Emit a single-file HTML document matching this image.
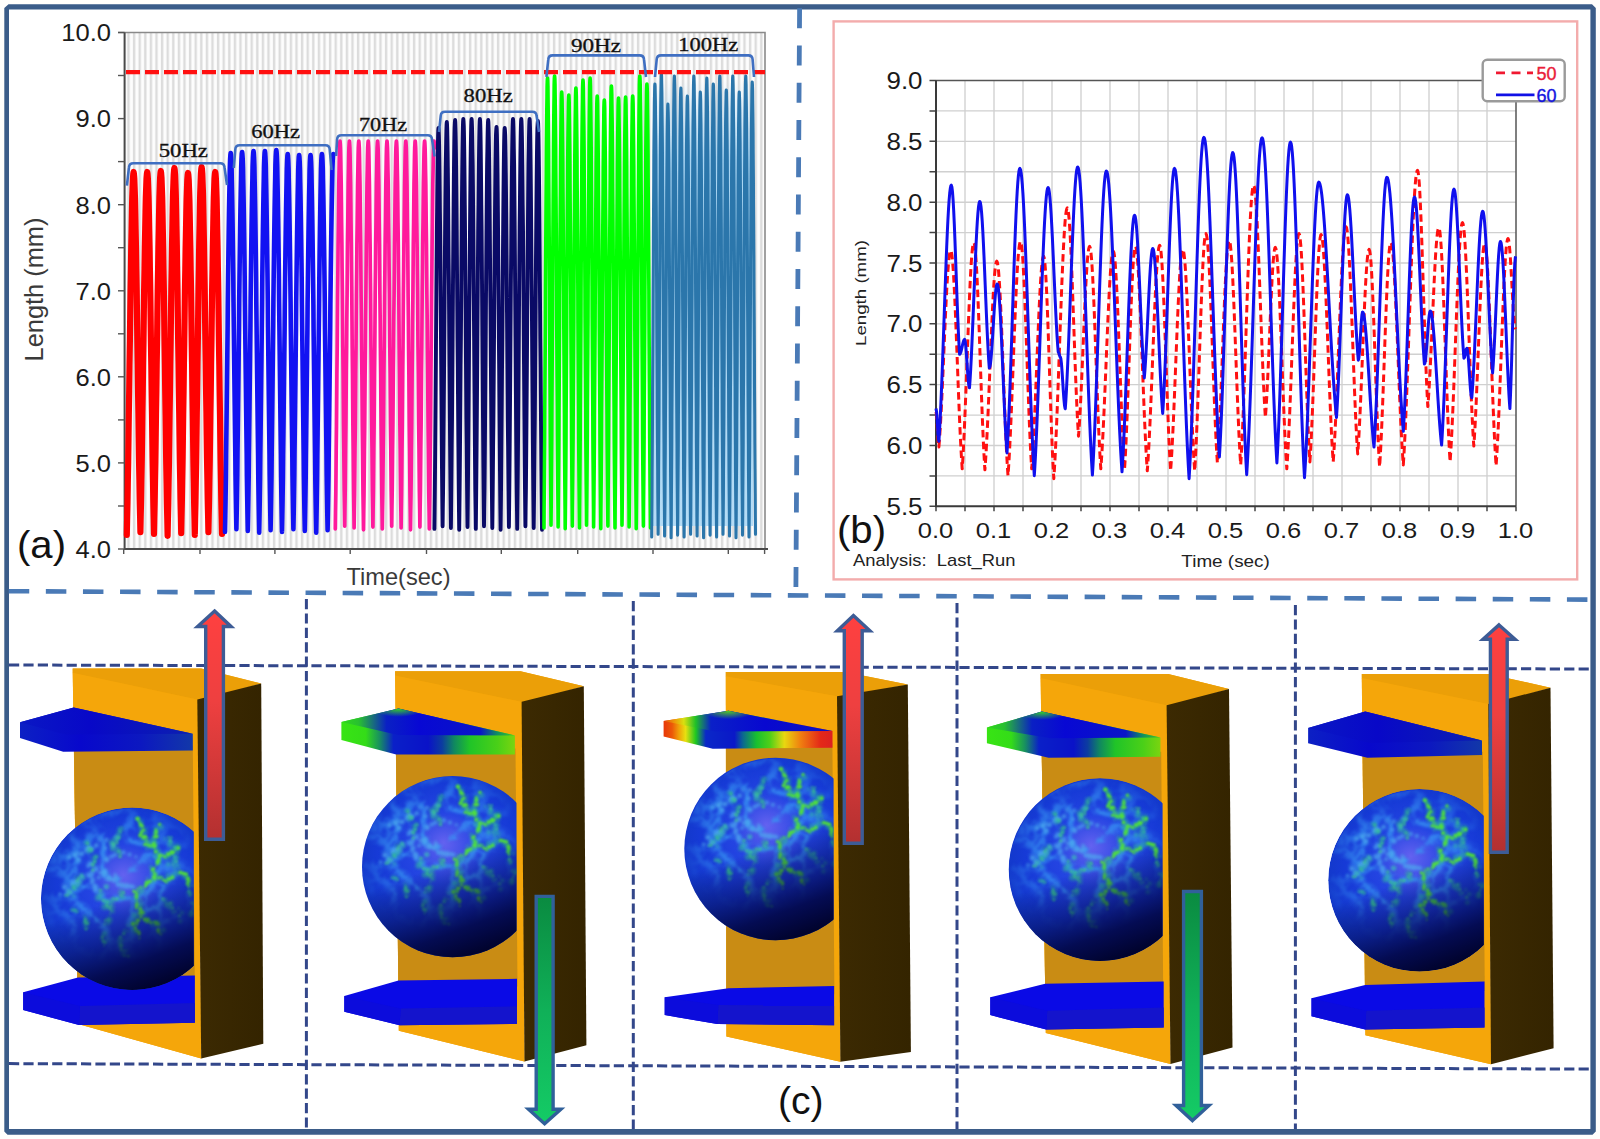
<!DOCTYPE html>
<html lang="en"><head><meta charset="utf-8"><title>Figure</title>
<style>html,body{margin:0;padding:0;background:#fffefc;}svg{display:block;}</style></head>
<body>
<svg width="1600" height="1139" viewBox="0 0 1600 1139">
<defs>
<pattern id="stripes" x="124.6" y="0" width="5.6" height="10" patternUnits="userSpaceOnUse"><rect x="0" y="0" width="5.6" height="10" fill="#fdfdfd"/><rect x="2.7" y="0" width="2.4" height="10" fill="#dcdcdc"/></pattern>
<linearGradient id="stt" x1="0" y1="0" x2="0" y2="1"><stop offset="0" stop-color="#a8d4f2" stop-opacity="0"/><stop offset="0.18" stop-color="#a8d4f2" stop-opacity="1"/><stop offset="1" stop-color="#b4dcf6" stop-opacity="1"/></linearGradient>
<radialGradient id="sg" gradientUnits="userSpaceOnUse" cx="-4" cy="-8" r="100.4" fx="-9" fy="-24"><stop offset="0" stop-color="#6462f0"/><stop offset="0.14" stop-color="#4a56ea"/><stop offset="0.36" stop-color="#2444e2"/><stop offset="0.7" stop-color="#163ad6"/><stop offset="0.92" stop-color="#1238c8"/><stop offset="1" stop-color="#103ac0"/></radialGradient>
<linearGradient id="sd" gradientUnits="userSpaceOnUse" x1="-34" y1="-84" x2="30" y2="88"><stop offset="0" stop-color="#000030" stop-opacity="0"/><stop offset="0.46" stop-color="#000030" stop-opacity="0"/><stop offset="0.66" stop-color="#00003c" stop-opacity="0.42"/><stop offset="0.83" stop-color="#000034" stop-opacity="0.8"/><stop offset="1" stop-color="#000024" stop-opacity="0.97"/></linearGradient>
<radialGradient id="sv" gradientUnits="userSpaceOnUse" cx="-14" cy="-20" r="86"><stop offset="0" stop-color="#fff" stop-opacity="1"/><stop offset="0.55" stop-color="#fff" stop-opacity="0.8"/><stop offset="1" stop-color="#fff" stop-opacity="0"/></radialGradient>
<filter id="haze" x="-0.05" y="-0.05" width="1.1" height="1.1" color-interpolation-filters="sRGB"><feTurbulence type="turbulence" baseFrequency="0.035" numOctaves="4" seed="8" result="n"/><feColorMatrix in="n" type="matrix" values="0 0 0 0 0.22  0 0 0 0 0.6  0 0 0 0 0.95  0 1 0 0 0" result="c"/><feComponentTransfer in="c" result="v"><feFuncA type="table" tableValues="0 0.9 0.85 0.7 0.45 0.25 0.1 0 0 0 0 0 0 0 0 0 0 0 0 0"/></feComponentTransfer><feGaussianBlur in="v" stdDeviation="1" result="vb"/><feComposite in="vb" in2="SourceGraphic" operator="in"/></filter>
<filter id="b07" x="-0.2" y="-0.2" width="1.4" height="1.4"><feGaussianBlur stdDeviation="0.8"/></filter>
<filter id="b15" x="-0.2" y="-0.2" width="1.4" height="1.4"><feGaussianBlur stdDeviation="1.6"/></filter>
<linearGradient id="dk1" gradientUnits="userSpaceOnUse" x1="197.3" y1="0" x2="263.3" y2="0"><stop offset="0" stop-color="#3c2a02"/><stop offset="1" stop-color="#342400"/></linearGradient>
<clipPath id="sc1"><path d="M39 805.6 H193.8 V992 H39 Z"/></clipPath>
<clipPath id="scc1"><circle cx="132.2" cy="898.8" r="91.2"/></clipPath>
<linearGradient id="pt1" gradientUnits="userSpaceOnUse" x1="20" y1="0" x2="192.8" y2="0"><stop offset="0" stop-color="#0a18c4"/><stop offset="0.4" stop-color="#0808c8"/><stop offset="1" stop-color="#0c20b0"/></linearGradient>
<linearGradient id="pf1" gradientUnits="userSpaceOnUse" x1="20" y1="0" x2="192.8" y2="0"><stop offset="0" stop-color="#0c20c4"/><stop offset="0.35" stop-color="#0808cc"/><stop offset="0.7" stop-color="#0c18c0"/><stop offset="1" stop-color="#1238a8"/></linearGradient>
<linearGradient id="dk2" gradientUnits="userSpaceOnUse" x1="521.6" y1="0" x2="586.4" y2="0"><stop offset="0" stop-color="#3c2a02"/><stop offset="1" stop-color="#342400"/></linearGradient>
<clipPath id="sc2"><path d="M360 774.1 H516.5 V959.3 H360 Z"/></clipPath>
<clipPath id="scc2"><circle cx="452.6" cy="866.7" r="90.6"/></clipPath>
<linearGradient id="pt2" gradientUnits="userSpaceOnUse" x1="341.4" y1="0" x2="514.9" y2="0"><stop offset="0" stop-color="#30d81c"/><stop offset="0.1" stop-color="#28c030"/><stop offset="0.26" stop-color="#0a20c4"/><stop offset="0.45" stop-color="#0808d4"/><stop offset="0.8" stop-color="#0a14c8"/><stop offset="0.9" stop-color="#109060"/><stop offset="1" stop-color="#40cc20"/></linearGradient>
<linearGradient id="pf2" gradientUnits="userSpaceOnUse" x1="341.4" y1="0" x2="514.9" y2="0"><stop offset="0" stop-color="#38e414"/><stop offset="0.14" stop-color="#34dc18"/><stop offset="0.22" stop-color="#189060"/><stop offset="0.3" stop-color="#0a20c8"/><stop offset="0.5" stop-color="#0a12c8"/><stop offset="0.58" stop-color="#0c3ca0"/><stop offset="0.65" stop-color="#108860"/><stop offset="0.74" stop-color="#20c428"/><stop offset="0.9" stop-color="#4ad018"/><stop offset="1" stop-color="#7ad410"/></linearGradient>
<radialGradient id="pa2" gradientUnits="userSpaceOnUse" cx="398.5" cy="708.5" r="26" gradientTransform="translate(398.5 708.5) scale(1 0.32) translate(-398.5 -708.5)"><stop offset="0" stop-color="#38d820" stop-opacity="1"/><stop offset="1" stop-color="#38d820" stop-opacity="0"/></radialGradient>
<linearGradient id="dk3" gradientUnits="userSpaceOnUse" x1="837" y1="0" x2="910.9" y2="0"><stop offset="0" stop-color="#3c2a02"/><stop offset="1" stop-color="#342400"/></linearGradient>
<clipPath id="sc3"><path d="M681.6 755 H833.6 V943 H681.6 Z"/></clipPath>
<clipPath id="scc3"><circle cx="775.6" cy="849" r="92"/></clipPath>
<linearGradient id="pt3" gradientUnits="userSpaceOnUse" x1="663.6" y1="0" x2="832.5" y2="0"><stop offset="0" stop-color="#e85008"/><stop offset="0.07" stop-color="#eca008"/><stop offset="0.12" stop-color="#d8e010"/><stop offset="0.19" stop-color="#20c028"/><stop offset="0.28" stop-color="#0a20c8"/><stop offset="0.6" stop-color="#0808d0"/><stop offset="1" stop-color="#0a14c0"/></linearGradient>
<linearGradient id="pf3" gradientUnits="userSpaceOnUse" x1="663.6" y1="0" x2="832.5" y2="0"><stop offset="0" stop-color="#e83808"/><stop offset="0.05" stop-color="#ec5808"/><stop offset="0.09" stop-color="#f0a008"/><stop offset="0.13" stop-color="#e8e010"/><stop offset="0.19" stop-color="#20c820"/><stop offset="0.25" stop-color="#0a28c8"/><stop offset="0.42" stop-color="#0a18c8"/><stop offset="0.47" stop-color="#0c6890"/><stop offset="0.55" stop-color="#18c030"/><stop offset="0.63" stop-color="#50d018"/><stop offset="0.715" stop-color="#e8d810"/><stop offset="0.81" stop-color="#f08010"/><stop offset="0.93" stop-color="#e42818"/><stop offset="1" stop-color="#dc2020"/></linearGradient>
<radialGradient id="pa3" gradientUnits="userSpaceOnUse" cx="728.5" cy="710.8" r="26" gradientTransform="translate(728.5 710.8) scale(1 0.32) translate(-728.5 -710.8)"><stop offset="0" stop-color="#58d018" stop-opacity="1"/><stop offset="1" stop-color="#58d018" stop-opacity="0"/></radialGradient>
<linearGradient id="dk4" gradientUnits="userSpaceOnUse" x1="1166.6" y1="0" x2="1232.5" y2="0"><stop offset="0" stop-color="#3c2a02"/><stop offset="1" stop-color="#342400"/></linearGradient>
<clipPath id="sc4"><path d="M1006.3 775.9 H1162.6 V963.3 H1006.3 Z"/></clipPath>
<clipPath id="scc4"><circle cx="1100" cy="869.6" r="91.7"/></clipPath>
<linearGradient id="pt4" gradientUnits="userSpaceOnUse" x1="986.9" y1="0" x2="1160.4" y2="0"><stop offset="0" stop-color="#30d81c"/><stop offset="0.1" stop-color="#28c030"/><stop offset="0.26" stop-color="#0a20c4"/><stop offset="0.45" stop-color="#0808d4"/><stop offset="0.8" stop-color="#0a14c8"/><stop offset="0.9" stop-color="#109060"/><stop offset="1" stop-color="#40cc20"/></linearGradient>
<linearGradient id="pf4" gradientUnits="userSpaceOnUse" x1="986.9" y1="0" x2="1160.4" y2="0"><stop offset="0" stop-color="#38e414"/><stop offset="0.14" stop-color="#34dc18"/><stop offset="0.22" stop-color="#189060"/><stop offset="0.3" stop-color="#0a20c8"/><stop offset="0.5" stop-color="#0a12c8"/><stop offset="0.58" stop-color="#0c3ca0"/><stop offset="0.65" stop-color="#108860"/><stop offset="0.74" stop-color="#20c428"/><stop offset="0.9" stop-color="#4ad018"/><stop offset="1" stop-color="#7ad410"/></linearGradient>
<radialGradient id="pa4" gradientUnits="userSpaceOnUse" cx="1041.8" cy="711.5" r="26" gradientTransform="translate(1041.8 711.5) scale(1 0.32) translate(-1041.8 -711.5)"><stop offset="0" stop-color="#38d820" stop-opacity="1"/><stop offset="1" stop-color="#38d820" stop-opacity="0"/></radialGradient>
<linearGradient id="dk5" gradientUnits="userSpaceOnUse" x1="1488.3" y1="0" x2="1553.6" y2="0"><stop offset="0" stop-color="#3c2a02"/><stop offset="1" stop-color="#342400"/></linearGradient>
<clipPath id="sc5"><path d="M1326.2 787 H1483.8 V973.6 H1326.2 Z"/></clipPath>
<clipPath id="scc5"><circle cx="1419.5" cy="880.3" r="91.3"/></clipPath>
<linearGradient id="pt5" gradientUnits="userSpaceOnUse" x1="1308.1" y1="0" x2="1482" y2="0"><stop offset="0" stop-color="#0a18c4"/><stop offset="0.4" stop-color="#0808c8"/><stop offset="1" stop-color="#0c20b0"/></linearGradient>
<linearGradient id="pf5" gradientUnits="userSpaceOnUse" x1="1308.1" y1="0" x2="1482" y2="0"><stop offset="0" stop-color="#0c20c4"/><stop offset="0.35" stop-color="#0808cc"/><stop offset="0.7" stop-color="#0c18c0"/><stop offset="1" stop-color="#1238a8"/></linearGradient>
<linearGradient id="gu1" gradientUnits="userSpaceOnUse" x1="0" y1="608.5" x2="0" y2="841"><stop offset="0" stop-color="#ff4040"/><stop offset="0.4" stop-color="#ee4040"/><stop offset="1" stop-color="#b23030"/></linearGradient>
<linearGradient id="gd2" gradientUnits="userSpaceOnUse" x1="0" y1="894.7" x2="0" y2="1126.2"><stop offset="0" stop-color="#0a8a40"/><stop offset="0.5" stop-color="#10b058"/><stop offset="1" stop-color="#14cc66"/></linearGradient>
<linearGradient id="gu3" gradientUnits="userSpaceOnUse" x1="0" y1="613" x2="0" y2="845"><stop offset="0" stop-color="#ff4040"/><stop offset="0.4" stop-color="#ee4040"/><stop offset="1" stop-color="#b23030"/></linearGradient>
<linearGradient id="gd4" gradientUnits="userSpaceOnUse" x1="0" y1="889.8" x2="0" y2="1123.1"><stop offset="0" stop-color="#0a8a40"/><stop offset="0.5" stop-color="#10b058"/><stop offset="1" stop-color="#14cc66"/></linearGradient>
<linearGradient id="gu5" gradientUnits="userSpaceOnUse" x1="0" y1="622.4" x2="0" y2="854"><stop offset="0" stop-color="#ff4040"/><stop offset="0.4" stop-color="#ee4040"/><stop offset="1" stop-color="#b23030"/></linearGradient>
</defs>
<rect x="0" y="0" width="1600" height="1139" fill="#fffefc"/>
<rect x="9" y="9.5" width="1581.5" height="1119.5" fill="#ffffff"/>
<path d="M8.5 4.3 H1592 L1595.8 8 V1131.5 L1592.5 1134.8 H7.5 L4.3 1131.5 V8 Z M9 9.5 V1129 H1590.4 V9.5 Z" fill="#3b5c88" fill-rule="evenodd"/>
<rect x="124.6" y="32.5" width="640.4" height="516.5" fill="url(#stripes)"/>
<path d="M118 32.5 H765 V549" fill="none" stroke="#8a8a8a" stroke-width="1.6"/>
<path d="M124.6 32.5 V549 H768" fill="none" stroke="#4a4a4a" stroke-width="2"/>
<line x1="118" x2="124.6" y1="549" y2="549" stroke="#555" stroke-width="1.4"/>
<line x1="118" x2="124.6" y1="506" y2="506" stroke="#555" stroke-width="1.4"/>
<line x1="118" x2="124.6" y1="462.9" y2="462.9" stroke="#555" stroke-width="1.4"/>
<line x1="118" x2="124.6" y1="419.9" y2="419.9" stroke="#555" stroke-width="1.4"/>
<line x1="118" x2="124.6" y1="376.8" y2="376.8" stroke="#555" stroke-width="1.4"/>
<line x1="118" x2="124.6" y1="333.8" y2="333.8" stroke="#555" stroke-width="1.4"/>
<line x1="118" x2="124.6" y1="290.8" y2="290.8" stroke="#555" stroke-width="1.4"/>
<line x1="118" x2="124.6" y1="247.7" y2="247.7" stroke="#555" stroke-width="1.4"/>
<line x1="118" x2="124.6" y1="204.7" y2="204.7" stroke="#555" stroke-width="1.4"/>
<line x1="118" x2="124.6" y1="161.6" y2="161.6" stroke="#555" stroke-width="1.4"/>
<line x1="118" x2="124.6" y1="118.6" y2="118.6" stroke="#555" stroke-width="1.4"/>
<line x1="118" x2="124.6" y1="75.5" y2="75.5" stroke="#555" stroke-width="1.4"/>
<line x1="118" x2="124.6" y1="32.5" y2="32.5" stroke="#555" stroke-width="1.4"/>
<line x1="123.7" x2="123.7" y1="549" y2="554" stroke="#555" stroke-width="1.4"/>
<line x1="200" x2="200" y1="549" y2="554" stroke="#555" stroke-width="1.4"/>
<line x1="274.9" x2="274.9" y1="549" y2="554" stroke="#555" stroke-width="1.4"/>
<line x1="350.2" x2="350.2" y1="549" y2="554" stroke="#555" stroke-width="1.4"/>
<line x1="426.5" x2="426.5" y1="549" y2="554" stroke="#555" stroke-width="1.4"/>
<line x1="501.3" x2="501.3" y1="549" y2="554" stroke="#555" stroke-width="1.4"/>
<line x1="577.7" x2="577.7" y1="549" y2="554" stroke="#555" stroke-width="1.4"/>
<line x1="653" x2="653" y1="549" y2="554" stroke="#555" stroke-width="1.4"/>
<line x1="728.3" x2="728.3" y1="549" y2="554" stroke="#555" stroke-width="1.4"/>
<line x1="764.6" x2="764.6" y1="549" y2="554" stroke="#555" stroke-width="1.4"/>
<text x="111" y="557.8" font-family='"Liberation Sans", Arial, sans-serif' font-size="24.5" fill="#1a1a1a" text-anchor="end" textLength="35.5" lengthAdjust="spacingAndGlyphs">4.0</text>
<text x="111" y="471.7" font-family='"Liberation Sans", Arial, sans-serif' font-size="24.5" fill="#1a1a1a" text-anchor="end" textLength="35.5" lengthAdjust="spacingAndGlyphs">5.0</text>
<text x="111" y="385.6" font-family='"Liberation Sans", Arial, sans-serif' font-size="24.5" fill="#1a1a1a" text-anchor="end" textLength="35.5" lengthAdjust="spacingAndGlyphs">6.0</text>
<text x="111" y="299.6" font-family='"Liberation Sans", Arial, sans-serif' font-size="24.5" fill="#1a1a1a" text-anchor="end" textLength="35.5" lengthAdjust="spacingAndGlyphs">7.0</text>
<text x="111" y="213.5" font-family='"Liberation Sans", Arial, sans-serif' font-size="24.5" fill="#1a1a1a" text-anchor="end" textLength="35.5" lengthAdjust="spacingAndGlyphs">8.0</text>
<text x="111" y="127.4" font-family='"Liberation Sans", Arial, sans-serif' font-size="24.5" fill="#1a1a1a" text-anchor="end" textLength="35.5" lengthAdjust="spacingAndGlyphs">9.0</text>
<text x="111" y="41.3" font-family='"Liberation Sans", Arial, sans-serif' font-size="24.5" fill="#1a1a1a" text-anchor="end" textLength="49.8" lengthAdjust="spacingAndGlyphs">10.0</text>
<text transform="translate(42.6,289.5) rotate(-90)" font-family='"Liberation Sans", Arial, sans-serif' font-size="25" fill="#3a3a3a" text-anchor="middle" textLength="144" lengthAdjust="spacingAndGlyphs">Length (mm)</text>
<text x="398.5" y="585.3" font-family='"Liberation Sans", Arial, sans-serif' font-size="24" fill="#3a3a3a" text-anchor="middle" textLength="104" lengthAdjust="spacingAndGlyphs">Time(sec)</text>
<text x="17" y="558" font-family='"Liberation Sans", Arial, sans-serif' font-size="39" fill="#111" textLength="49" lengthAdjust="spacingAndGlyphs">(a)</text>
<rect x="652.5" y="80" width="100.5" height="446" fill="url(#stt)"/>
<path d="M126.8 534.9L127.1 519.5L127.5 502.1L127.8 482.7L128.2 461.5L128.5 438.9L128.8 415.1L129.2 390.6L129.5 365.6L129.9 340.5L130.2 315.9L130.5 292L130.9 269.3L131.2 248.3L131.6 229.2L131.9 212.4L132.2 198.2L132.6 186.9L132.9 178.7L133.3 173.7L133.6 172L133.9 173.7L134.3 178.6L134.6 186.8L135 198L135.3 212.1L135.6 228.7L136 247.7L136.3 268.6L136.7 291.1L137 314.8L137.3 339.3L137.7 364.1L138 388.9L138.4 413.3L138.7 436.9L139 459.3L139.4 480.3L139.7 499.6L140.1 517L140.4 532.2L140.7 517L141.1 499.6L141.4 480.3L141.8 459.3L142.1 436.9L142.4 413.3L142.8 388.9L143.1 364.1L143.5 339.3L143.8 314.8L144.1 291.1L144.5 268.6L144.8 247.7L145.2 228.7L145.5 212.1L145.8 198L146.2 186.8L146.5 178.6L146.9 173.7L147.2 172L147.5 173.7L147.9 178.7L148.2 186.9L148.6 198.1L148.9 212.3L149.2 229L149.6 248.1L149.9 269.1L150.3 291.7L150.6 315.5L150.9 340.1L151.3 365.1L151.6 390L152 414.5L152.3 438.2L152.6 460.8L153 481.9L153.3 501.3L153.7 518.7L154 534L154.3 518.6L154.7 501.2L155 481.7L155.4 460.6L155.7 438L156 414.2L156.4 389.6L156.7 364.6L157.1 339.6L157.4 314.9L157.7 291L158.1 268.4L158.4 247.3L158.8 228.2L159.1 211.4L159.4 197.2L159.8 185.9L160.1 177.7L160.5 172.7L160.8 171L161.1 172.7L161.5 177.7L161.8 186L162.2 197.3L162.5 211.6L162.8 228.5L163.2 247.7L163.5 268.9L163.9 291.6L164.2 315.6L164.5 340.4L164.9 365.6L165.2 390.7L165.6 415.4L165.9 439.3L166.2 462L166.6 483.3L166.9 502.8L167.3 520.4L167.6 535.8L167.9 520.2L168.3 502.5L168.6 482.8L169 461.4L169.3 438.5L169.6 414.4L170 389.5L170.3 364.2L170.7 338.8L171 313.8L171.3 289.6L171.7 266.7L172 245.3L172.4 225.9L172.7 208.9L173 194.6L173.4 183.1L173.7 174.8L174.1 169.7L174.4 168L174.7 169.7L175.1 174.7L175.4 183L175.8 194.4L176.1 208.6L176.4 225.5L176.8 244.7L177.1 265.9L177.5 288.7L177.8 312.7L178.1 337.5L178.5 362.7L178.8 387.9L179.2 412.6L179.5 436.5L179.8 459.3L180.2 480.5L180.5 500.1L180.9 517.7L181.2 533.1L181.5 517.9L181.9 500.5L182.2 481.3L182.6 460.3L182.9 437.8L183.2 414.2L183.6 389.9L183.9 365.1L184.3 340.2L184.6 315.8L184.9 292.1L185.3 269.6L185.6 248.7L186 229.7L186.3 213.1L186.6 199L187 187.8L187.3 179.6L187.7 174.7L188 173L188.3 174.7L188.7 179.7L189 187.9L189.4 199.1L189.7 213.3L190 230L190.4 249.1L190.7 270.1L191.1 292.7L191.4 316.5L191.7 341.1L192.1 366L192.4 391L192.8 415.5L193.1 439.2L193.4 461.7L193.8 482.8L194.1 502.2L194.5 519.6L194.8 534.9L195.1 519.3L195.5 501.6L195.8 481.9L196.2 460.5L196.5 437.6L196.8 413.5L197.2 388.6L197.5 363.2L197.9 337.8L198.2 312.9L198.5 288.7L198.9 265.7L199.2 244.3L199.6 225L199.9 207.9L200.2 193.6L200.6 182.1L200.9 173.8L201.3 168.7L201.6 167L201.9 168.7L202.3 173.7L202.6 182L203 193.4L203.3 207.6L203.6 224.5L204 243.8L204.3 265L204.7 287.8L205 311.8L205.3 336.6L205.7 361.8L206 386.9L206.4 411.7L206.7 435.6L207 458.3L207.4 479.6L207.7 499.2L208.1 516.7L208.4 532.2L208.7 517L209.1 499.6L209.4 480.3L209.8 459.3L210.1 436.9L210.4 413.3L210.8 388.9L211.1 364.1L211.5 339.3L211.8 314.8L212.1 291.1L212.5 268.6L212.8 247.7L213.2 228.7L213.5 212.1L213.8 198L214.2 186.8L214.5 178.6L214.9 173.7L215.2 172L215.5 173.7L215.9 178.7L216.2 186.9L216.6 198.1L216.9 212.3L217.2 229L217.6 248.1L217.9 269.1L218.3 291.7L218.6 315.5L218.9 340.1L219.3 365.1L219.6 390L220 414.5L220.3 438.2L220.6 460.8L221 481.9L221.3 501.3L221.7 518.7L222 534" fill="none" stroke="#ff0000" stroke-width="6.2" stroke-linejoin="round" stroke-linecap="round"/>
<path d="M225 531.9L225.3 515.9L225.6 497.6L225.9 477.3L226.1 455.3L226.4 431.7L226.7 406.8L227 381.2L227.3 355.1L227.6 329L227.8 303.2L228.1 278.3L228.4 254.6L228.7 232.6L229 212.7L229.3 195.2L229.6 180.4L229.8 168.6L230.1 160L230.4 154.8L230.7 153L231 154.7L231.3 159.9L231.6 168.4L231.8 180.2L232.1 194.9L232.4 212.3L232.7 232.1L233 253.9L233.3 277.4L233.5 302.1L233.8 327.7L234.1 353.7L234.4 379.6L234.7 405L235 429.7L235.3 453.1L235.5 475L235.8 495.2L236.1 513.3L236.4 529.2L236.7 513.2L237 495.1L237.3 474.9L237.5 452.9L237.8 429.4L238.1 404.7L238.4 379.2L238.7 353.2L239 327.2L239.2 301.5L239.5 276.7L239.8 253.2L240.1 231.3L240.4 211.4L240.7 194L241 179.2L241.2 167.5L241.5 158.9L241.8 153.7L242.1 152L242.4 153.8L242.7 159L243 167.6L243.2 179.4L243.5 194.2L243.8 211.7L244.1 231.7L244.4 253.7L244.7 277.3L244.9 302.3L245.2 328L245.5 354.1L245.8 380.3L246.1 405.9L246.4 430.7L246.7 454.3L246.9 476.4L247.2 496.7L247.5 515L247.8 531L248.1 514.9L248.4 496.6L248.7 476.3L248.9 454.1L249.2 430.5L249.5 405.6L249.8 379.9L250.1 353.7L250.4 327.5L250.6 301.6L250.9 276.7L251.2 252.9L251.5 230.9L251.8 210.9L252.1 193.3L252.4 178.4L252.6 166.6L252.9 158L253.2 152.8L253.5 151L253.8 152.8L254.1 158L254.4 166.7L254.6 178.6L254.9 193.5L255.2 211.2L255.5 231.2L255.8 253.4L256.1 277.3L256.3 302.4L256.6 328.3L256.9 354.6L257.2 380.9L257.5 406.8L257.8 431.8L258.1 455.6L258.3 477.8L258.6 498.3L258.9 516.6L259.2 532.8L259.5 516.6L259.8 498.3L260.1 477.8L260.3 455.6L260.6 431.8L260.9 406.8L261.2 380.9L261.5 354.6L261.8 328.3L262.1 302.4L262.3 277.3L262.6 253.4L262.9 231.2L263.2 211.2L263.5 193.5L263.8 178.6L264 166.7L264.3 158L264.6 152.8L264.9 151L265.2 152.8L265.5 158L265.8 166.6L266 178.4L266.3 193.2L266.6 210.7L266.9 230.7L267.2 252.7L267.5 276.4L267.8 301.3L268 327L268.3 353.2L268.6 379.3L268.9 405L269.2 429.8L269.5 453.4L269.7 475.5L270 495.8L270.3 514.1L270.6 530.1L270.9 514L271.2 495.7L271.5 475.4L271.7 453.2L272 429.5L272.3 404.6L272.6 378.9L272.9 352.7L273.2 326.5L273.4 300.7L273.7 275.7L274 252L274.3 229.9L274.6 209.9L274.9 192.3L275.2 177.4L275.4 165.6L275.7 157L276 151.8L276.3 150L276.6 151.8L276.9 157L277.2 165.7L277.4 177.6L277.7 192.5L278 210.2L278.3 230.3L278.6 252.4L278.9 276.3L279.1 301.4L279.4 327.3L279.7 353.7L280 380L280.3 405.9L280.6 430.9L280.9 454.7L281.1 476.9L281.4 497.4L281.7 515.7L282 531.9L282.3 515.9L282.6 497.7L282.9 477.5L283.1 455.5L283.4 431.9L283.7 407.2L284 381.6L284.3 355.6L284.6 329.5L284.8 303.8L285.1 279L285.4 255.4L285.7 233.4L286 213.5L286.3 196.1L286.6 181.3L286.8 169.5L287.1 161L287.4 155.7L287.7 154L288 155.7L288.3 160.9L288.6 169.4L288.8 181.1L289.1 195.8L289.4 213.1L289.7 232.9L290 254.6L290.3 278.1L290.6 302.7L290.8 328.2L291.1 354.1L291.4 380L291.7 405.4L292 429.9L292.3 453.3L292.5 475.2L292.8 495.3L293.1 513.3L293.4 529.2L293.7 513.4L294 495.4L294.3 475.3L294.5 453.5L294.8 430.2L295.1 405.7L295.4 380.4L295.7 354.6L296 328.8L296.2 303.4L296.5 278.7L296.8 255.4L297.1 233.7L297.4 214L297.7 196.6L298 182L298.2 170.4L298.5 161.9L298.8 156.7L299.1 155L299.4 156.7L299.7 161.9L300 170.4L300.2 182.2L300.5 196.8L300.8 214.2L301.1 234L301.4 255.9L301.7 279.3L301.9 304.1L302.2 329.6L302.5 355.5L302.8 381.4L303.1 406.9L303.4 431.5L303.7 455L303.9 476.9L304.2 497L304.5 515.1L304.8 531L305.1 515.1L305.4 497L305.7 476.9L305.9 455L306.2 431.5L306.5 406.9L306.8 381.4L307.1 355.5L307.4 329.6L307.6 304.1L307.9 279.3L308.2 255.9L308.5 234L308.8 214.2L309.1 196.8L309.4 182.2L309.6 170.4L309.9 161.9L310.2 156.7L310.5 155L310.8 156.7L311.1 161.9L311.4 170.5L311.6 182.3L311.9 197L312.2 214.5L312.5 234.4L312.8 256.3L313.1 279.9L313.4 304.8L313.6 330.4L313.9 356.5L314.2 382.5L314.5 408.1L314.8 432.8L315.1 456.4L315.3 478.4L315.6 498.6L315.9 516.8L316.2 532.8L316.5 516.8L316.8 498.5L317.1 478.3L317.3 456.2L317.6 432.6L317.9 407.8L318.2 382.1L318.5 356L318.8 329.9L319.1 304.2L319.3 279.3L319.6 255.6L319.9 233.6L320.2 213.7L320.5 196.2L320.8 181.4L321 169.6L321.3 161L321.6 155.7L321.9 154L322.2 155.7L322.5 160.9L322.8 169.4L323 181.2L323.3 195.9L323.6 213.3L323.9 233L324.2 254.9L324.5 278.4L324.8 303.1L325 328.7L325.3 354.6L325.6 380.5L325.9 406L326.2 430.6L326.5 454L326.7 476L327 496.1L327.3 514.2L327.6 530.1L327.9 514.2L328.2 496.1L328.5 476L328.7 454L329 430.6L329.3 406L329.6 380.5L329.9 354.6L330.2 328.7L330.4 303.1L330.7 278.4L331 254.9L331.3 233L331.6 213.3L331.9 195.9L332.2 181.2L332.4 169.4L332.7 160.9L333 155.7L333.3 154" fill="none" stroke="#1212f2" stroke-width="4.6" stroke-linejoin="round" stroke-linecap="round"/>
<path d="M335.3 528.9L335.5 512.5L335.8 493.8L336 473.1L336.2 450.4L336.5 426.3L336.7 400.9L336.9 374.6L337.2 347.9L337.4 321.1L337.6 294.8L337.9 269.3L338.1 245L338.4 222.5L338.6 202.1L338.8 184.2L339.1 169L339.3 156.9L339.5 148.1L339.8 142.8L340 141L340.2 142.8L340.5 148.1L340.7 156.8L340.9 168.8L341.2 183.9L341.4 201.7L341.6 222L341.9 244.3L342.1 268.4L342.4 293.7L342.6 319.9L342.8 346.5L343.1 373L343.3 399.1L343.5 424.3L343.8 448.3L344 470.7L344.2 491.4L344.5 509.9L344.7 526.2L344.9 509.9L345.2 491.4L345.4 470.7L345.6 448.3L345.9 424.3L346.1 399.1L346.3 373L346.6 346.5L346.8 319.9L347.1 293.7L347.3 268.4L347.5 244.3L347.8 222L348 201.7L348.2 183.9L348.5 168.8L348.7 156.8L348.9 148.1L349.2 142.8L349.4 141L349.6 142.8L349.9 148.1L350.1 156.9L350.3 168.9L350.6 184.1L350.8 202L351 222.3L351.3 244.8L351.5 269L351.8 294.4L352 320.7L352.2 347.4L352.5 374.1L352.7 400.3L352.9 425.6L353.2 449.7L353.4 472.3L353.6 493L353.9 511.6L354.1 528L354.3 511.6L354.6 493L354.8 472.3L355 449.7L355.3 425.6L355.5 400.3L355.7 374.1L356 347.4L356.2 320.7L356.4 294.4L356.7 269L356.9 244.8L357.2 222.3L357.4 202L357.6 184.1L357.9 168.9L358.1 156.9L358.3 148.1L358.6 142.8L358.8 141L359 142.8L359.3 148.2L359.5 157L359.7 169.1L360 184.3L360.2 202.3L360.4 222.7L360.7 245.3L360.9 269.6L361.1 295.1L361.4 321.6L361.6 348.4L361.9 375.2L362.1 401.5L362.3 426.9L362.6 451.2L362.8 473.8L363 494.6L363.3 513.4L363.5 529.8L363.7 513.4L364 494.6L364.2 473.8L364.4 451.2L364.7 426.9L364.9 401.5L365.1 375.2L365.4 348.4L365.6 321.6L365.9 295.1L366.1 269.6L366.3 245.3L366.6 222.7L366.8 202.3L367 184.3L367.3 169.1L367.5 157L367.7 148.2L368 142.8L368.2 141L368.4 142.8L368.7 148.1L368.9 156.9L369.1 168.9L369.4 184L369.6 201.8L369.8 222.2L370.1 244.6L370.3 268.7L370.6 294.1L370.8 320.3L371 346.9L371.3 373.5L371.5 399.7L371.7 425L372 449L372.2 471.5L372.4 492.2L372.7 510.8L372.9 527.1L373.1 510.8L373.4 492.2L373.6 471.5L373.8 449L374.1 425L374.3 399.7L374.5 373.5L374.8 346.9L375 320.3L375.2 294.1L375.5 268.7L375.7 244.6L376 222.2L376.2 201.8L376.4 184L376.7 168.9L376.9 156.9L377.1 148.1L377.4 142.8L377.6 141L377.8 142.8L378.1 148.1L378.3 156.9L378.5 169L378.8 184.2L379 202.1L379.2 222.5L379.5 245L379.7 269.3L379.9 294.8L380.2 321.1L380.4 347.9L380.7 374.6L380.9 400.9L381.1 426.3L381.4 450.4L381.6 473.1L381.8 493.8L382.1 512.5L382.3 528.9L382.5 512.5L382.8 493.8L383 473.1L383.2 450.4L383.5 426.3L383.7 400.9L383.9 374.6L384.2 347.9L384.4 321.1L384.6 294.8L384.9 269.3L385.1 245L385.4 222.5L385.6 202.1L385.8 184.2L386.1 169L386.3 156.9L386.5 148.1L386.8 142.8L387 141L387.2 142.8L387.5 148.1L387.7 156.8L387.9 168.8L388.2 183.9L388.4 201.7L388.6 222L388.9 244.3L389.1 268.4L389.4 293.7L389.6 319.9L389.8 346.5L390.1 373L390.3 399.1L390.5 424.3L390.8 448.3L391 470.7L391.2 491.4L391.5 509.9L391.7 526.2L391.9 509.9L392.2 491.4L392.4 470.7L392.6 448.3L392.9 424.3L393.1 399.1L393.3 373L393.6 346.5L393.8 319.9L394.1 293.7L394.3 268.4L394.5 244.3L394.8 222L395 201.7L395.2 183.9L395.5 168.8L395.7 156.8L395.9 148.1L396.2 142.8L396.4 141L396.6 142.8L396.9 148.1L397.1 156.9L397.3 168.9L397.6 184.1L397.8 202L398 222.3L398.3 244.8L398.5 269L398.8 294.4L399 320.7L399.2 347.4L399.5 374.1L399.7 400.3L399.9 425.6L400.2 449.7L400.4 472.3L400.6 493L400.9 511.6L401.1 528L401.3 511.6L401.6 493L401.8 472.3L402 449.7L402.3 425.6L402.5 400.3L402.7 374.1L403 347.4L403.2 320.7L403.4 294.4L403.7 269L403.9 244.8L404.2 222.3L404.4 202L404.6 184.1L404.9 168.9L405.1 156.9L405.3 148.1L405.6 142.8L405.8 141L406 142.8L406.3 148.2L406.5 157L406.7 169.1L407 184.3L407.2 202.3L407.4 222.7L407.7 245.3L407.9 269.6L408.1 295.1L408.4 321.6L408.6 348.4L408.9 375.2L409.1 401.5L409.3 426.9L409.6 451.2L409.8 473.8L410 494.6L410.3 513.4L410.5 529.8L410.7 513.4L411 494.6L411.2 473.8L411.4 451.2L411.7 426.9L411.9 401.5L412.1 375.2L412.4 348.4L412.6 321.6L412.9 295.1L413.1 269.6L413.3 245.3L413.6 222.7L413.8 202.3L414 184.3L414.3 169.1L414.5 157L414.7 148.2L415 142.8L415.2 141L415.4 142.8L415.7 148.1L415.9 156.9L416.1 168.9L416.4 184L416.6 201.8L416.8 222.2L417.1 244.6L417.3 268.7L417.6 294.1L417.8 320.3L418 346.9L418.3 373.5L418.5 399.7L418.7 425L419 449L419.2 471.5L419.4 492.2L419.7 510.8L419.9 527.1L420.1 510.8L420.4 492.2L420.6 471.5L420.8 449L421.1 425L421.3 399.7L421.5 373.5L421.8 346.9L422 320.3L422.2 294.1L422.5 268.7L422.7 244.6L423 222.2L423.2 201.8L423.4 184L423.7 168.9L423.9 156.9L424.1 148.1L424.4 142.8L424.6 141L424.8 142.8L425.1 148.1L425.3 156.9L425.5 169L425.8 184.2L426 202.1L426.2 222.5L426.5 245L426.7 269.3L426.9 294.8L427.2 321.1L427.4 347.9L427.7 374.6L427.9 400.9L428.1 426.3L428.4 450.4L428.6 473.1L428.8 493.8L429.1 512.5L429.3 528.9L429.5 512.5L429.8 493.8L430 473.1L430.2 450.4L430.5 426.3L430.7 400.9L430.9 374.6L431.2 347.9L431.4 321.1L431.6 294.8L431.9 269.3L432.1 245L432.4 222.5L432.6 202.1L432.8 184.2L433.1 169L433.3 156.9L433.5 148.1L433.8 142.8L434 141L434.2 142.8L434.5 148.1" fill="none" stroke="#ff1a9c" stroke-width="3.7" stroke-linejoin="round" stroke-linecap="round"/>
<path d="M434.4 528.9L434.6 511.9L434.8 492.6L435 471.2L435.2 447.8L435.4 422.8L435.6 396.6L435.8 369.4L436 341.8L436.2 314.2L436.4 286.9L436.6 260.6L436.8 235.5L437.1 212.3L437.3 191.2L437.5 172.6L437.7 157L437.9 144.5L438.1 135.4L438.3 129.9L438.5 128L438.7 129.8L438.9 135.3L439.1 144.4L439.3 156.8L439.5 172.3L439.7 190.7L439.9 211.7L440.2 234.8L440.4 259.7L440.6 285.9L440.8 312.9L441 340.4L441.2 367.8L441.4 394.8L441.6 420.9L441.8 445.7L442 468.9L442.2 490.2L442.4 509.4L442.6 526.2L442.8 509.1L443.1 489.6L443.3 468L443.5 444.4L443.7 419.3L443.9 392.8L444.1 365.4L444.3 337.6L444.5 309.7L444.7 282.2L444.9 255.7L445.1 230.4L445.3 207L445.5 185.7L445.7 167L446 151.2L446.2 138.6L446.4 129.4L446.6 123.9L446.8 122L447 123.9L447.2 129.5L447.4 138.7L447.6 151.3L447.8 167.2L448 186L448.2 207.3L448.4 230.9L448.6 256.3L448.9 283L449.1 310.5L449.3 338.5L449.5 366.5L449.7 394L449.9 420.6L450.1 445.9L450.3 469.5L450.5 491.3L450.7 510.8L450.9 528L451.1 510.7L451.3 491.1L451.5 469.3L451.7 445.5L452 420.1L452.2 393.3L452.4 365.7L452.6 337.6L452.8 309.5L453 281.8L453.2 254.9L453.4 229.4L453.6 205.8L453.8 184.3L454 165.4L454.2 149.5L454.4 136.8L454.6 127.5L454.9 121.9L455.1 120L455.3 121.9L455.5 127.5L455.7 136.8L455.9 149.6L456.1 165.6L456.3 184.6L456.5 206.1L456.7 229.9L456.9 255.5L457.1 282.5L457.3 310.3L457.5 338.6L457.8 366.8L458 394.5L458.2 421.4L458.4 446.9L458.6 470.8L458.8 492.7L459 512.5L459.2 529.8L459.4 512.4L459.6 492.6L459.8 470.7L460 446.7L460.2 421.1L460.4 394.2L460.6 366.4L460.9 338.1L461.1 309.8L461.3 281.9L461.5 254.8L461.7 229.2L461.9 205.3L462.1 183.7L462.3 164.7L462.5 148.7L462.7 135.9L462.9 126.6L463.1 120.9L463.3 119L463.5 120.9L463.8 126.5L464 135.8L464.2 148.5L464.4 164.4L464.6 183.3L464.8 204.8L465 228.5L465.2 254L465.4 280.8L465.6 308.5L465.8 336.7L466 364.8L466.2 392.4L466.4 419.1L466.7 444.6L466.9 468.3L467.1 490.2L467.3 509.8L467.5 527.1L467.7 509.8L467.9 490.2L468.1 468.3L468.3 444.6L468.5 419.1L468.7 392.4L468.9 364.8L469.1 336.7L469.3 308.5L469.6 280.8L469.8 254L470 228.5L470.2 204.8L470.4 183.3L470.6 164.4L470.8 148.5L471 135.8L471.2 126.5L471.4 120.9L471.6 119L471.8 120.9L472 126.5L472.2 135.8L472.4 148.6L472.7 164.6L472.9 183.6L473.1 205.2L473.3 229L473.5 254.5L473.7 281.5L473.9 309.4L474.1 337.6L474.3 365.9L474.5 393.6L474.7 420.5L474.9 446L475.1 469.9L475.3 491.8L475.6 511.6L475.8 528.9L476 511.6L476.2 491.8L476.4 469.9L476.6 446L476.8 420.5L477 393.6L477.2 365.9L477.4 337.6L477.6 309.4L477.8 281.5L478 254.5L478.2 229L478.5 205.2L478.7 183.6L478.9 164.6L479.1 148.6L479.3 135.8L479.5 126.5L479.7 120.9L479.9 119L480.1 120.9L480.3 126.5L480.5 135.7L480.7 148.4L480.9 164.3L481.1 183.2L481.3 204.6L481.6 228.2L481.8 253.7L482 280.4L482.2 308.1L482.4 336.2L482.6 364.2L482.8 391.8L483 418.5L483.2 443.8L483.4 467.6L483.6 489.4L483.8 509L484 526.2L484.2 509L484.5 489.5L484.7 467.7L484.9 444L485.1 418.7L485.3 392.1L485.5 364.6L485.7 336.7L485.9 308.6L486.1 281L486.3 254.3L486.5 229L486.7 205.4L486.9 184L487.1 165.2L487.4 149.3L487.6 136.7L487.8 127.5L488 121.9L488.2 120L488.4 121.9L488.6 127.5L488.8 136.8L489 149.5L489.2 165.4L489.4 184.3L489.6 205.8L489.8 229.4L490 254.9L490.2 281.8L490.5 309.5L490.7 337.6L490.9 365.7L491.1 393.3L491.3 420.1L491.5 445.5L491.7 469.3L491.9 491.1L492.1 510.7L492.3 528L492.5 511L492.7 491.7L492.9 470.3L493.1 446.9L493.4 421.9L493.6 395.7L493.8 368.5L494 340.9L494.2 313.2L494.4 286L494.6 259.6L494.8 234.6L495 211.3L495.2 190.2L495.4 171.6L495.6 156L495.8 143.5L496 134.4L496.3 128.9L496.5 127L496.7 128.9L496.9 134.4L497.1 143.5L497.3 156.1L497.5 171.8L497.7 190.5L497.9 211.7L498.1 235L498.3 260.2L498.5 286.7L498.7 314.1L498.9 341.8L499.2 369.6L499.4 396.9L499.6 423.2L499.8 448.3L500 471.8L500.2 493.4L500.4 512.8L500.6 529.8L500.8 512.8L501 493.5L501.2 472L501.4 448.5L501.6 423.5L501.8 397.2L502 370L502.3 342.3L502.5 314.6L502.7 287.3L502.9 260.9L503.1 235.8L503.3 212.5L503.5 191.3L503.7 172.7L503.9 157L504.1 144.5L504.3 135.4L504.5 129.9L504.7 128L504.9 129.8L505.2 135.3L505.4 144.4L505.6 156.8L505.8 172.4L506 190.9L506.2 211.9L506.4 235.1L506.6 260L506.8 286.2L507 313.3L507.2 340.9L507.4 368.4L507.6 395.4L507.8 421.5L508.1 446.4L508.3 469.6L508.5 491L508.7 510.2L508.9 527.1L509.1 509.8L509.3 490.2L509.5 468.3L509.7 444.6L509.9 419.1L510.1 392.4L510.3 364.8L510.5 336.7L510.7 308.5L510.9 280.8L511.2 254L511.4 228.5L511.6 204.8L511.8 183.3L512 164.4L512.2 148.5L512.4 135.8L512.6 126.5L512.8 120.9L513 119L513.2 120.9L513.4 126.5L513.6 135.8L513.8 148.6L514.1 164.6L514.3 183.6L514.5 205.2L514.7 229L514.9 254.5L515.1 281.5L515.3 309.4L515.5 337.6L515.7 365.9L515.9 393.6L516.1 420.5L516.3 446L516.5 469.9L516.7 491.8L517 511.6L517.2 528.9L517.4 511.6L517.6 491.8L517.8 469.9L518 446L518.2 420.5L518.4 393.6L518.6 365.9L518.8 337.6L519 309.4L519.2 281.5L519.4 254.5L519.6 229L519.9 205.2L520.1 183.6L520.3 164.6L520.5 148.6L520.7 135.8L520.9 126.5L521.1 120.9L521.3 119L521.5 120.9L521.7 126.5L521.9 135.7L522.1 148.4L522.3 164.3L522.5 183.2L522.7 204.6L523 228.2L523.2 253.7L523.4 280.4L523.6 308.1L523.8 336.2L524 364.2L524.2 391.8L524.4 418.5L524.6 443.8L524.8 467.6L525 489.4L525.2 509L525.4 526.2L525.6 509L525.9 489.4L526.1 467.6L526.3 443.8L526.5 418.5L526.7 391.8L526.9 364.2L527.1 336.2L527.3 308.1L527.5 280.4L527.7 253.7L527.9 228.2L528.1 204.6L528.3 183.2L528.5 164.3L528.8 148.4L529 135.7L529.2 126.5L529.4 120.9L529.6 119L529.8 120.9L530 126.5L530.2 135.8L530.4 148.5L530.6 164.5L530.8 183.4L531 205L531.2 228.7L531.4 254.3L531.6 281.1L531.9 308.9L532.1 337.1L532.3 365.3L532.5 393L532.7 419.8L532.9 445.3L533.1 469.1L533.3 491L533.5 510.7L533.7 528L533.9 510.8L534.1 491.2L534.3 469.4L534.5 445.7L534.8 420.3L535 393.7L535.2 366.1L535.4 338.1L535.6 310L535.8 282.4L536 255.6L536.2 230.2L536.4 206.5L536.6 185.1L536.8 166.3L537 150.4L537.2 137.7L537.4 128.5L537.7 122.9L537.9 121L538.1 122.9L538.3 128.5L538.5 137.8L538.7 150.5L538.9 166.5L539.1 185.4L539.3 206.9L539.5 230.7L539.7 256.2L539.9 283.1L540.1 310.8L540.3 339L540.6 367.2L540.8 394.9L541 421.6L541.2 447.1L541.4 470.9L541.6 492.8L541.8 512.5L542 529.8" fill="none" stroke="#0a0a66" stroke-width="3.9" stroke-linejoin="round" stroke-linecap="round"/>
<path d="M544 527.9L544.1 508.9L544.3 487.2L544.5 463.1L544.7 436.9L544.8 408.9L545 379.4L545.2 349L545.4 318L545.5 286.9L545.7 256.4L545.9 226.8L546.1 198.7L546.3 172.6L546.4 148.9L546.6 128.1L546.8 110.5L547 96.5L547.1 86.3L547.3 80.1L547.5 78L547.7 80.1L547.9 86.2L548 96.4L548.2 110.3L548.4 127.8L548.6 148.5L548.7 172L548.9 198L549.1 225.9L549.3 255.3L549.5 285.7L549.6 316.5L549.8 347.3L550 377.6L550.2 406.9L550.3 434.8L550.5 460.8L550.7 484.7L550.9 506.3L551 525.2L551.2 506.2L551.4 484.6L551.6 460.5L551.8 434.3L551.9 406.4L552.1 376.9L552.3 346.5L552.5 315.6L552.6 284.6L552.8 254.1L553 224.5L553.2 196.5L553.4 170.4L553.5 146.8L553.7 126L553.9 108.4L554.1 94.4L554.2 84.3L554.4 78.1L554.6 76L554.8 78.1L555 84.3L555.1 94.5L555.3 108.6L555.5 126.2L555.7 147.1L555.8 170.8L556 197L556.2 225.1L556.4 254.8L556.6 285.4L556.7 316.5L556.9 347.6L557.1 378.1L557.3 407.7L557.4 435.8L557.6 462.1L557.8 486.2L558 507.9L558.1 527L558.3 508.6L558.5 487.7L558.7 464.4L558.9 439L559 411.9L559.2 383.4L559.4 354L559.6 324L559.7 294L559.9 264.5L560.1 235.8L560.3 208.7L560.5 183.4L560.6 160.5L560.8 140.4L561 123.4L561.2 109.9L561.3 100L561.5 94L561.7 92L561.9 94L562.1 100L562.2 109.9L562.4 123.5L562.6 140.6L562.8 160.8L562.9 183.8L563.1 209.2L563.3 236.4L563.5 265.2L563.7 294.8L563.8 325L564 355.1L564.2 384.6L564.4 413.2L564.5 440.5L564.7 465.9L564.9 489.3L565.1 510.3L565.2 528.8L565.4 510.4L565.6 489.6L565.8 466.3L566 441.1L566.1 414L566.3 385.6L566.5 356.3L566.7 326.4L566.8 296.5L567 267L567.2 238.5L567.4 211.4L567.6 186.2L567.7 163.3L567.9 143.3L568.1 126.3L568.3 112.8L568.4 103L568.6 97L568.8 95L569 97L569.2 102.9L569.3 112.7L569.5 126.1L569.7 143L569.9 162.9L570 185.6L570.2 210.6L570.4 237.6L570.6 265.9L570.8 295.2L570.9 324.9L571.1 354.6L571.3 383.8L571.5 412L571.6 438.9L571.8 464L572 487.1L572.2 507.9L572.4 526.1L572.5 507.6L572.7 486.5L572.9 463L573.1 437.5L573.2 410.2L573.4 381.5L573.6 351.8L573.8 321.7L573.9 291.4L574.1 261.7L574.3 232.9L574.5 205.5L574.7 180.1L574.8 157L575 136.8L575.2 119.6L575.4 106L575.5 96.1L575.7 90L575.9 88L576.1 90L576.3 96.1L576.4 106.1L576.6 119.8L576.8 137L577 157.3L577.1 180.5L577.3 206L577.5 233.5L577.7 262.4L577.9 292.3L578 322.6L578.2 352.9L578.4 382.7L578.6 411.5L578.7 438.9L578.9 464.6L579.1 488.1L579.3 509.3L579.5 527.9L579.6 509L579.8 487.4L580 463.4L580.2 437.3L580.3 409.4L580.5 380.1L580.7 349.7L580.9 318.9L581 288L581.2 257.6L581.4 228.1L581.6 200.1L581.8 174.1L581.9 150.6L582.1 129.8L582.3 112.3L582.5 98.4L582.6 88.2L582.8 82.1L583 80L583.2 82.1L583.4 88.2L583.5 98.3L583.7 112.2L583.9 129.5L584.1 150.1L584.2 173.6L584.4 199.4L584.6 227.2L584.8 256.5L585 286.7L585.1 317.5L585.3 348.1L585.5 378.3L585.7 407.4L585.8 435.2L586 461.1L586.2 484.9L586.4 506.4L586.5 525.2L586.7 506.3L586.9 484.7L587.1 460.8L587.3 434.8L587.4 406.9L587.6 377.6L587.8 347.3L588 316.5L588.1 285.7L588.3 255.3L588.5 225.9L588.7 198L588.9 172L589 148.5L589.2 127.8L589.4 110.3L589.6 96.4L589.7 86.2L589.9 80.1L590.1 78L590.3 80.1L590.5 86.3L590.6 96.4L590.8 110.4L591 128L591.2 148.7L591.3 172.4L591.5 198.4L591.7 226.5L591.9 256L592.1 286.5L592.2 317.5L592.4 348.4L592.6 378.8L592.8 408.2L592.9 436.2L593.1 462.4L593.3 486.4L593.5 508L593.6 527L593.8 508.8L594 488L594.2 464.9L594.4 439.8L594.5 413L594.7 384.7L594.9 355.6L595.1 325.9L595.2 296.1L595.4 266.9L595.6 238.5L595.8 211.6L596 186.6L596.1 163.9L596.3 144L596.5 127.1L596.7 113.7L596.8 103.9L597 98L597.2 96L597.4 98L597.6 104L597.7 113.8L597.9 127.3L598.1 144.2L598.3 164.2L598.4 187L598.6 212.1L598.8 239.1L599 267.6L599.2 297L599.3 326.8L599.5 356.7L599.7 386L599.9 414.3L600 441.3L600.2 466.5L600.4 489.7L600.6 510.5L600.8 528.8L600.9 510.7L601.1 490L601.3 467.1L601.5 442.1L601.6 415.4L601.8 387.3L602 358.2L602.2 328.7L602.3 299.1L602.5 270L602.7 241.8L602.9 215L603.1 190.1L603.2 167.6L603.4 147.7L603.6 131L603.8 117.6L603.9 107.9L604.1 102L604.3 100L604.5 102L604.7 107.8L604.8 117.5L605 130.8L605.2 147.4L605.4 167.1L605.5 189.6L605.7 214.3L605.9 240.9L606.1 268.9L606.3 297.9L606.4 327.3L606.6 356.6L606.8 385.5L607 413.4L607.1 439.9L607.3 464.8L607.5 487.6L607.7 508.1L607.9 526.1L608 507.5L608.2 486.3L608.4 462.7L608.6 437.1L608.7 409.7L608.9 380.8L609.1 351L609.3 320.7L609.4 290.4L609.6 260.5L609.8 231.5L610 204.1L610.2 178.5L610.3 155.3L610.5 135L610.7 117.8L610.9 104.1L611 94.1L611.2 88L611.4 86L611.6 88L611.8 94.1L611.9 104.1L612.1 117.9L612.3 135.2L612.5 155.6L612.6 178.9L612.8 204.5L613 232.1L613.2 261.2L613.4 291.2L613.5 321.7L613.7 352.1L613.9 382.1L614.1 411L614.2 438.5L614.4 464.3L614.6 487.9L614.8 509.2L615 527.9L615.1 509.7L615.3 489L615.5 466L615.7 441L615.8 414.2L616 386L616.2 356.9L616.4 327.3L616.5 297.6L616.7 268.4L616.9 240.2L617.1 213.3L617.3 188.4L617.4 165.7L617.6 145.8L617.8 129L618 115.7L618.1 105.9L618.3 100L618.5 98L618.7 100L618.9 105.9L619 115.5L619.2 128.9L619.4 145.5L619.6 165.3L619.7 187.8L619.9 212.6L620.1 239.3L620.3 267.4L620.5 296.4L620.6 325.9L620.8 355.3L621 384.2L621.2 412.2L621.3 438.8L621.5 463.7L621.7 486.6L621.9 507.1L622 525.2L622.2 507.1L622.4 486.5L622.6 463.6L622.8 438.6L622.9 411.9L623.1 383.9L623.3 354.9L623.5 325.4L623.6 295.8L623.8 266.8L624 238.6L624.2 211.9L624.4 187L624.5 164.5L624.7 144.7L624.9 127.9L625.1 114.6L625.2 104.9L625.4 99L625.6 97L625.8 99L626 104.9L626.1 114.7L626.3 128.1L626.5 144.9L626.7 164.7L626.8 187.4L627 212.3L627.2 239.2L627.4 267.5L627.6 296.7L627.7 326.3L627.9 356L628.1 385.1L628.3 413.2L628.4 440L628.6 465.1L628.8 488.1L629 508.8L629.1 527L629.3 508.8L629.5 488L629.7 464.9L629.9 439.8L630 413L630.2 384.7L630.4 355.6L630.6 325.9L630.7 296.1L630.9 266.9L631.1 238.5L631.3 211.6L631.5 186.6L631.6 163.9L631.8 144L632 127.1L632.2 113.7L632.3 103.9L632.5 98L632.7 96L632.9 98L633.1 104L633.2 113.8L633.4 127.3L633.6 144.2L633.8 164.2L633.9 187L634.1 212.1L634.3 239.1L634.5 267.6L634.7 297L634.8 326.8L635 356.7L635.2 386L635.4 414.3L635.5 441.3L635.7 466.5L635.9 489.7L636.1 510.5L636.2 528.8L636.4 509.6L636.6 487.8L636.8 463.6L637 437.2L637.1 409L637.3 379.4L637.5 348.7L637.7 317.5L637.8 286.3L638 255.5L638.2 225.7L638.4 197.5L638.6 171.2L638.7 147.3L638.9 126.4L639.1 108.7L639.3 94.6L639.4 84.3L639.6 78.1L639.8 76L640 78.1L640.2 84.3L640.3 94.5L640.5 108.5L640.7 126.1L640.9 146.9L641 170.6L641.2 196.7L641.4 224.8L641.6 254.4L641.8 285L641.9 316.1L642.1 347.1L642.3 377.5L642.5 407L642.6 435.1L642.8 461.3L643 485.4L643.2 507.1L643.4 526.1L643.5 507.4L643.7 486.1L643.9 462.5L644.1 436.7L644.2 409.1L644.4 380.2L644.6 350.3L644.8 319.8L644.9 289.3L645.1 259.3L645.3 230.2L645.5 202.6L645.7 176.9L645.8 153.7L646 133.2L646.2 115.9L646.4 102.2L646.5 92.1L646.7 86L646.9 84L647.1 86.1L647.3 92.2L647.4 102.2L647.6 116.1L647.8 133.4L648 153.9L648.1 177.3L648.3 203.1L648.5 230.8L648.7 260L648.9 290.1L649 320.8L649.2 351.3L649.4 381.4L649.6 410.5L649.7 438.1L649.9 464L650.1 487.7L650.3 509.1L650.5 527.9" fill="none" stroke="#00ff00" stroke-width="3.6" stroke-linejoin="round" stroke-linecap="round"/>
<path d="M651.7 536.9L651.8 517.7L652 495.9L652.1 471.7L652.3 445.3L652.5 417.1L652.6 387.4L652.8 356.8L653 325.6L653.1 294.3L653.3 263.6L653.4 233.8L653.6 205.5L653.8 179.2L653.9 155.4L654.1 134.4L654.3 116.7L654.4 102.6L654.6 92.3L654.7 86.1L654.9 84L655.1 86.1L655.2 92.3L655.4 102.5L655.5 116.5L655.7 134.1L655.9 154.9L656 178.6L656.2 204.8L656.4 232.9L656.5 262.5L656.7 293.1L656.8 324.1L657 355.1L657.2 385.6L657.3 415.1L657.5 443.1L657.7 469.4L657.8 493.5L658 515.2L658.1 534.2L658.3 514.7L658.5 492.6L658.6 467.9L658.8 441.1L659 412.4L659.1 382.3L659.3 351.2L659.4 319.5L659.6 287.7L659.8 256.4L659.9 226.2L660.1 197.4L660.3 170.7L660.4 146.5L660.6 125.2L660.7 107.2L660.9 92.9L661.1 82.5L661.2 76.1L661.4 74L661.6 76.1L661.7 82.5L661.9 93L662 107.4L662.2 125.4L662.4 146.8L662.5 171.1L662.7 197.9L662.9 226.8L663 257.2L663.2 288.5L663.3 320.4L663.5 352.2L663.7 383.5L663.8 413.8L664 442.6L664.1 469.5L664.3 494.2L664.5 516.5L664.6 536L664.8 517.7L665 496.9L665.1 473.8L665.3 448.6L665.4 421.7L665.6 393.4L665.8 364.2L665.9 334.4L666.1 304.6L666.3 275.3L666.4 246.9L666.6 219.9L666.7 194.8L666.9 172.1L667.1 152.1L667.2 135.2L667.4 121.7L667.6 111.9L667.7 106L667.9 104L668 106L668.2 112L668.4 121.8L668.5 135.3L668.7 152.3L668.9 172.3L669 195.2L669.2 220.4L669.3 247.5L669.5 276L669.7 305.5L669.8 335.4L670 365.3L670.2 394.6L670.3 423L670.5 450.1L670.6 475.3L670.8 498.6L671 519.4L671.1 537.8L671.3 518.3L671.4 496L671.6 471.3L671.8 444.4L671.9 415.6L672.1 385.4L672.3 354.1L672.4 322.3L672.6 290.5L672.7 259.1L672.9 228.7L673.1 199.9L673.2 173.1L673.4 148.8L673.6 127.4L673.7 109.4L673.9 95L674 84.5L674.2 78.1L674.4 76L674.5 78.1L674.7 84.4L674.9 94.9L675 109.2L675.2 127.1L675.3 148.3L675.5 172.5L675.7 199.1L675.8 227.8L676 258L676.2 289.2L676.3 320.9L676.5 352.5L676.6 383.6L676.8 413.6L677 442.2L677.1 469L677.3 493.6L677.5 515.7L677.6 535.1L677.8 516.2L677.9 494.7L678.1 470.7L678.3 444.7L678.4 416.8L678.6 387.5L678.8 357.3L678.9 326.5L679.1 295.6L679.2 265.3L679.4 235.9L679.6 207.9L679.7 182L679.9 158.4L680 137.8L680.2 120.3L680.4 106.4L680.5 96.2L680.7 90.1L680.9 88L681 90.1L681.2 96.3L681.3 106.4L681.5 120.4L681.7 138L681.8 158.7L682 182.4L682.2 208.4L682.3 236.4L682.5 266L682.6 296.5L682.8 327.4L683 358.3L683.1 388.7L683.3 418.1L683.5 446.1L683.6 472.3L683.8 496.3L683.9 517.9L684.1 536.9L684.3 518.2L684.4 497L684.6 473.4L684.8 447.7L684.9 420.3L685.1 391.4L685.2 361.5L685.4 331.2L685.6 300.7L685.7 270.8L685.9 241.8L686.1 214.3L686.2 188.7L686.4 165.5L686.5 145.1L686.7 127.8L686.9 114.1L687 104.1L687.2 98L687.4 96L687.5 98L687.7 104.1L687.8 114L688 127.6L688.2 144.8L688.3 165L688.5 188.1L688.6 213.5L688.8 240.9L689 269.7L689.1 299.5L689.3 329.7L689.5 359.9L689.6 389.6L689.8 418.3L689.9 445.6L690.1 471.1L690.3 494.6L690.4 515.7L690.6 534.2L690.8 514.8L690.9 492.8L691.1 468.2L691.2 441.5L691.4 413L691.6 383L691.7 352L691.9 320.4L692.1 288.8L692.2 257.7L692.4 227.5L692.5 198.9L692.7 172.3L692.9 148.2L693 127L693.2 109.1L693.4 94.8L693.5 84.4L693.7 78.1L693.8 76L694 78.1L694.2 84.5L694.3 94.9L694.5 109.2L694.7 127.2L694.8 148.5L695 172.7L695.1 199.4L695.3 228.1L695.5 258.4L695.6 289.6L695.8 321.3L695.9 353L696.1 384.2L696.3 414.3L696.4 443L696.6 469.8L696.8 494.4L696.9 516.5L697.1 536L697.2 517.2L697.4 495.8L697.6 472.1L697.7 446.2L697.9 418.5L698.1 389.5L698.2 359.4L698.4 328.8L698.5 298.2L698.7 268L698.9 238.8L699 211.1L699.2 185.3L699.4 162L699.5 141.4L699.7 124.1L699.8 110.2L700 100.2L700.2 94.1L700.3 92L700.5 94.1L700.7 100.2L700.8 110.3L701 124.2L701.1 141.6L701.3 162.2L701.5 185.7L701.6 211.6L701.8 239.4L702 268.7L702.1 299L702.3 329.8L702.4 360.5L702.6 390.7L702.8 419.9L702.9 447.6L703.1 473.6L703.3 497.5L703.4 518.9L703.6 537.8L703.7 518.3L703.9 496.2L704.1 471.6L704.2 444.8L704.4 416.2L704.5 386L704.7 354.9L704.9 323.2L705 291.5L705.2 260.3L705.4 230.1L705.5 201.3L705.7 174.6L705.8 150.4L706 129.2L706.2 111.2L706.3 96.9L706.5 86.5L706.7 80.1L706.8 78L707 80.1L707.1 86.4L707.3 96.8L707.5 111L707.6 128.9L707.8 150L708 174.1L708.1 200.6L708.3 229.2L708.4 259.2L708.6 290.3L708.8 321.8L708.9 353.3L709.1 384.2L709.3 414.2L709.4 442.6L709.6 469.3L709.7 493.8L709.9 515.8L710.1 535.1L710.2 516L710.4 494.3L710.6 470.2L710.7 443.9L710.9 415.8L711 386.2L711.2 355.7L711.4 324.6L711.5 293.5L711.7 262.8L711.8 233.2L712 205L712.2 178.8L712.3 155.1L712.5 134.2L712.7 116.6L712.8 102.5L713 92.3L713.1 86.1L713.3 84L713.5 86.1L713.6 92.3L713.8 102.6L714 116.7L714.1 134.4L714.3 155.4L714.4 179.2L714.6 205.5L714.8 233.8L714.9 263.6L715.1 294.3L715.3 325.6L715.4 356.8L715.6 387.4L715.7 417.1L715.9 445.3L716.1 471.7L716.2 495.9L716.4 517.7L716.6 536.9L716.7 517.4L716.9 495.2L717 470.5L717.2 443.7L717.4 415L717.5 384.8L717.7 353.6L717.9 321.8L718 290L718.2 258.7L718.3 228.4L718.5 199.6L718.7 172.9L718.8 148.6L719 127.3L719.2 109.3L719.3 94.9L719.5 84.5L719.6 78.1L719.8 76L720 78.1L720.1 84.4L720.3 94.8L720.4 109.1L720.6 127L720.8 148.2L720.9 172.3L721.1 198.9L721.3 227.5L721.4 257.7L721.6 288.8L721.7 320.4L721.9 352L722.1 383L722.2 413L722.4 441.5L722.6 468.2L722.7 492.8L722.9 514.8L723 534.2L723.2 515.4L723.4 494L723.5 470.2L723.7 444.4L723.9 416.7L724 387.6L724.2 357.5L724.3 326.9L724.5 296.3L724.7 266.1L724.8 236.9L725 209.2L725.2 183.4L725.3 160L725.5 139.4L725.6 122.1L725.8 108.2L726 98.2L726.1 92.1L726.3 90L726.5 92.1L726.6 98.2L726.8 108.3L726.9 122.2L727.1 139.6L727.3 160.3L727.4 183.7L727.6 209.6L727.8 237.5L727.9 266.8L728.1 297.1L728.2 327.9L728.4 358.6L728.6 388.8L728.7 418L728.9 445.8L729 471.8L729.2 495.7L729.4 517.1L729.5 536L729.7 516.5L729.9 494.4L730 469.8L730.2 443L730.3 414.3L730.5 384.2L730.7 353L730.8 321.3L731 289.6L731.2 258.4L731.3 228.1L731.5 199.4L731.6 172.7L731.8 148.5L732 127.2L732.1 109.2L732.3 94.9L732.5 84.5L732.6 78.1L732.8 76L732.9 78.1L733.1 84.5L733.3 95L733.4 109.4L733.6 127.4L733.8 148.8L733.9 173.1L734.1 199.9L734.2 228.7L734.4 259.1L734.6 290.5L734.7 322.3L734.9 354.1L735.1 385.4L735.2 415.6L735.4 444.4L735.5 471.3L735.7 496L735.9 518.3L736 537.8L736.2 518.9L736.3 497.5L736.5 473.6L736.7 447.6L736.8 419.9L737 390.7L737.2 360.5L737.3 329.8L737.5 299L737.6 268.7L737.8 239.4L738 211.6L738.1 185.7L738.3 162.2L738.5 141.6L738.6 124.2L738.8 110.3L738.9 100.2L739.1 94.1L739.3 92L739.4 94L739.6 100.1L739.8 110.2L739.9 124L740.1 141.3L740.2 161.8L740.4 185.1L740.6 210.9L740.7 238.5L740.9 267.7L741.1 297.8L741.2 328.3L741.4 358.9L741.5 388.9L741.7 417.9L741.9 445.5L742 471.3L742.2 495L742.4 516.4L742.5 535.1L742.7 515.7L742.8 493.6L743 469L743.2 442.2L743.3 413.6L743.5 383.6L743.7 352.5L743.8 320.9L744 289.2L744.1 258L744.3 227.8L744.5 199.1L744.6 172.5L744.8 148.3L744.9 127.1L745.1 109.2L745.3 94.9L745.4 84.4L745.6 78.1L745.8 76L745.9 78.1L746.1 84.5L746.2 94.9L746.4 109.3L746.6 127.3L746.7 148.6L746.9 172.9L747.1 199.6L747.2 228.4L747.4 258.7L747.5 290L747.7 321.8L747.9 353.6L748 384.8L748.2 415L748.4 443.7L748.5 470.5L748.7 495.2L748.8 517.4L749 536.9L749.2 517.7L749.3 495.8L749.5 471.4L749.7 444.9L749.8 416.5L750 386.8L750.1 356L750.3 324.6L750.5 293.2L750.6 262.3L750.8 232.4L751 204L751.1 177.6L751.3 153.7L751.4 132.6L751.6 114.9L751.8 100.7L751.9 90.4L752.1 84.1L752.2 82L752.4 84.1L752.6 90.3L752.7 100.6L752.9 114.7L753.1 132.3L753.2 153.2L753.4 177L753.5 203.3L753.7 231.5L753.9 261.3L754 292L754.2 323.2L754.4 354.3L754.5 385L754.7 414.6L754.8 442.7L755 469.1L755.2 493.3L755.3 515.1L755.5 534.2" fill="none" stroke="#2b76ab" stroke-width="3.1" stroke-linejoin="round" stroke-linecap="round"/>
<line x1="126" x2="765" y1="72.2" y2="72.2" stroke="#ff1010" stroke-width="4.3" stroke-dasharray="14 5"/>
<path d="M126.9 185.6 L129 167.2 Q129.3 163.2 133.3 163.2 L220.2 163.2 Q224.2 163.2 224.5 167.2 L227 185" fill="none" stroke="#3f6fc2" stroke-width="2.6" stroke-linejoin="round"/>
<path d="M233.8 168 L235.3 149.3 Q235.6 145.3 239.6 145.3 L325.4 145.3 Q329.4 145.3 329.7 149.3 L331.6 170" fill="none" stroke="#3f6fc2" stroke-width="2.6" stroke-linejoin="round"/>
<path d="M336.1 156 L337.1 139.3 Q337.4 135.3 341.4 135.3 L427.7 135.3 Q431.7 135.3 432 139.3 L434.6 156.5" fill="none" stroke="#3f6fc2" stroke-width="2.6" stroke-linejoin="round"/>
<path d="M439 132 L440.7 115.8 Q441 111.8 445 111.8 L532.3 111.8 Q536.3 111.8 536.6 115.8 L539 132" fill="none" stroke="#3f6fc2" stroke-width="2.6" stroke-linejoin="round"/>
<path d="M546.4 77 L548.3 59.4 Q548.6 55.4 552.6 55.4 L639.7 55.4 Q643.7 55.4 644 59.4 L646 77" fill="none" stroke="#3f6fc2" stroke-width="2.6" stroke-linejoin="round"/>
<path d="M655 77 L656.7 59.4 Q657 55.4 661 55.4 L748.3 55.4 Q752.3 55.4 752.6 59.4 L754 77" fill="none" stroke="#3f6fc2" stroke-width="2.6" stroke-linejoin="round"/>
<text x="183.3" y="157.2" font-family='"Liberation Serif", "Times New Roman", serif' font-size="19.5" fill="#111" stroke="#111" stroke-width="0.35" text-anchor="middle" textLength="49.2" lengthAdjust="spacingAndGlyphs">50Hz</text>
<text x="275.7" y="137.5" font-family='"Liberation Serif", "Times New Roman", serif' font-size="19.5" fill="#111" stroke="#111" stroke-width="0.35" text-anchor="middle" textLength="48.8" lengthAdjust="spacingAndGlyphs">60Hz</text>
<text x="383" y="131.2" font-family='"Liberation Serif", "Times New Roman", serif' font-size="19.5" fill="#111" stroke="#111" stroke-width="0.35" text-anchor="middle" textLength="48" lengthAdjust="spacingAndGlyphs">70Hz</text>
<text x="488.2" y="101.7" font-family='"Liberation Serif", "Times New Roman", serif' font-size="19.5" fill="#111" stroke="#111" stroke-width="0.35" text-anchor="middle" textLength="49.2" lengthAdjust="spacingAndGlyphs">80Hz</text>
<text x="596" y="51.8" font-family='"Liberation Serif", "Times New Roman", serif' font-size="19.5" fill="#111" stroke="#111" stroke-width="0.35" text-anchor="middle" textLength="50" lengthAdjust="spacingAndGlyphs">90Hz</text>
<text x="708.2" y="50.7" font-family='"Liberation Serif", "Times New Roman", serif' font-size="19.5" fill="#111" stroke="#111" stroke-width="0.35" text-anchor="middle" textLength="59.8" lengthAdjust="spacingAndGlyphs">100Hz</text>
<rect x="833.6" y="21.4" width="743.6" height="558" fill="#fff" stroke="#f3acac" stroke-width="2.4"/>
<path d="M965 80.5 V506.3M994 80.5 V506.3M1023 80.5 V506.3M1052 80.5 V506.3M1081 80.5 V506.3M1110 80.5 V506.3M1139 80.5 V506.3M1168 80.5 V506.3M1197 80.5 V506.3M1226 80.5 V506.3M1255 80.5 V506.3M1284 80.5 V506.3M1313 80.5 V506.3M1342 80.5 V506.3M1371 80.5 V506.3M1400 80.5 V506.3M1429 80.5 V506.3M1458 80.5 V506.3M1487 80.5 V506.3M936 110.9 H1516M936 141.3 H1516M936 171.7 H1516M936 202.2 H1516M936 232.6 H1516M936 263 H1516M936 293.4 H1516M936 323.8 H1516M936 354.2 H1516M936 384.6 H1516M936 415.1 H1516M936 445.5 H1516M936 475.9 H1516" fill="none" stroke="#d0d0d0" stroke-width="1.35"/>
<path d="M929.5 80.5 H936M929.5 110.9 H936M929.5 141.3 H936M929.5 171.7 H936M929.5 202.2 H936M929.5 232.6 H936M929.5 263 H936M929.5 293.4 H936M929.5 323.8 H936M929.5 354.2 H936M929.5 384.6 H936M929.5 415.1 H936M929.5 445.5 H936M929.5 475.9 H936M929.5 506.3 H936M936 506.3 V511.3M965 506.3 V511.3M994 506.3 V511.3M1023 506.3 V511.3M1052 506.3 V511.3M1081 506.3 V511.3M1110 506.3 V511.3M1139 506.3 V511.3M1168 506.3 V511.3M1197 506.3 V511.3M1226 506.3 V511.3M1255 506.3 V511.3M1284 506.3 V511.3M1313 506.3 V511.3M1342 506.3 V511.3M1371 506.3 V511.3M1400 506.3 V511.3M1429 506.3 V511.3M1458 506.3 V511.3M1487 506.3 V511.3M1516 506.3 V511.3" fill="none" stroke="#444" stroke-width="1.5"/>
<path d="M936 80.5 H1516 V506.3" fill="none" stroke="#555" stroke-width="1.5"/>
<path d="M936 80.5 V506.3 H1516" fill="none" stroke="#3a3a3a" stroke-width="2"/>
<path d="M936 412L936.6 415.6L937.2 424.8L937.8 436L938.4 444.5L938.9 447L939.5 439.3L940.1 430.2L940.7 419.9L941.3 408.5L941.9 396.3L942.5 383.2L943.1 369.7L943.7 355.8L944.3 341.9L944.9 328.1L945.5 314.8L946.1 302.2L946.7 290.5L947.3 280L947.9 270.8L948.5 263.2L949.1 257.2L949.7 253.1L950.3 250.8L950.7 250.4L951.3 251.5L951.9 254.9L952.5 260.5L953.1 268.1L953.7 277.6L954.3 288.8L954.9 301.5L955.5 315.4L956.1 330.3L956.7 345.8L957.3 361.6L957.9 377.5L958.5 393.1L959.1 408.1L959.7 422.4L960.3 435.7L960.9 447.7L961.5 458.3L962.1 467.4L962.2 468.8L962.8 459.7L963.4 449.1L964 437L964.6 423.6L965.2 409.1L965.8 393.8L966.4 377.9L967 361.6L967.6 345.3L968.2 329.3L968.8 313.8L969.4 299.2L970 285.8L970.6 273.9L971.2 263.5L971.8 255.1L972.4 248.7L973 244.6L973.6 242.6L973.8 242.5L974.4 243.8L975 247.5L975.6 253.7L976.2 262.2L976.8 272.8L977.4 285.2L978 299.2L978.6 314.5L979.2 330.8L979.8 347.7L980.4 364.8L981 381.8L981.6 398.4L982.2 414.3L982.8 429.1L983.4 442.7L984 454.8L984.6 465.2L984.9 469.8L985.5 461.7L986.1 452.1L986.7 441.3L987.3 429.4L987.9 416.5L988.5 402.8L989.1 388.6L989.7 374L990.3 359.3L990.9 344.9L991.5 330.8L992.1 317.5L992.7 305.1L993.3 293.8L993.9 284L994.5 275.7L995.1 269.2L995.7 264.6L996.3 261.9L996.8 261.2L997.4 262.4L998 265.9L998.6 271.6L999.2 279.5L999.8 289.3L1000.4 300.8L1001 313.9L1001.6 328.1L1002.2 343.3L1002.8 359L1003.4 375L1004 391L1004.6 406.5L1005.2 421.5L1005.8 435.5L1006.4 448.4L1007 459.9L1007.6 469.9L1008 475.7L1008.6 467L1009.2 457L1009.8 445.6L1010.4 433L1011 419.4L1011.6 405L1012.2 390L1012.8 374.5L1013.4 358.8L1014 343.2L1014.6 327.9L1015.2 313.2L1015.8 299.3L1016.4 286.5L1017 274.9L1017.6 264.8L1018.2 256.3L1018.8 249.7L1019.4 245L1020 242.2L1020.5 241.5L1021.1 242.7L1021.7 246.5L1022.3 252.5L1022.9 260.9L1023.5 271.3L1024.1 283.5L1024.7 297.3L1025.3 312.4L1025.9 328.5L1026.5 345.1L1027.1 362.1L1027.7 379L1028.3 395.5L1028.9 411.3L1029.5 426.2L1030.1 439.8L1030.7 452.1L1031.3 462.7L1031.7 468.8L1032.3 460.5L1032.9 450.8L1033.5 439.8L1034.1 427.7L1034.7 414.5L1035.3 400.6L1035.9 386.1L1036.5 371.2L1037.1 356.3L1037.7 341.5L1038.3 327.2L1038.9 313.6L1039.5 301L1040.1 289.5L1040.7 279.5L1041.3 271.1L1041.9 264.5L1042.5 259.8L1043.1 257L1043.6 256.3L1044.2 257.8L1044.8 262.1L1045.4 269.3L1046 279L1046.6 291.1L1047.2 305.2L1047.8 320.9L1048.4 337.9L1049 355.8L1049.6 374L1050.2 392.1L1050.8 409.8L1051.4 426.6L1052 442.2L1052.6 456.2L1053.2 468.4L1053.8 478.7L1053.8 478.7L1054.4 469.5L1055 458.9L1055.6 446.9L1056.2 433.8L1056.8 419.6L1057.4 404.5L1058 388.7L1058.6 372.3L1059.2 355.6L1059.8 338.8L1060.4 322.2L1061 305.9L1061.6 290.2L1062.2 275.3L1062.8 261.5L1063.4 248.9L1064 237.7L1064.6 228.1L1065.2 220.2L1065.8 214.2L1066.4 210.2L1067 208.2L1067.3 207.9L1067.9 209.2L1068.5 212.9L1069.1 219L1069.7 227.4L1070.3 237.8L1070.9 250.1L1071.5 264L1072.1 279.1L1072.7 295.2L1073.3 312L1073.9 329L1074.5 346L1075.1 362.6L1075.7 378.5L1076.3 393.4L1076.9 407.1L1077.5 419.4L1078.1 430L1078.5 436.2L1079.1 428.2L1079.7 418.8L1080.3 408.1L1080.9 396.2L1081.5 383.3L1082.1 369.7L1082.7 355.6L1083.3 341.3L1083.9 327.1L1084.5 313.3L1085.1 300.1L1085.7 287.8L1086.3 276.7L1086.9 267.1L1087.5 259.1L1088.1 253L1088.7 248.8L1089.3 246.7L1089.6 246.4L1090.2 247.6L1090.8 251.2L1091.4 257.2L1092 265.4L1092.6 275.5L1093.2 287.5L1093.8 301L1094.4 315.8L1095 331.5L1095.6 347.8L1096.2 364.4L1096.8 380.9L1097.4 397.1L1098 412.6L1098.6 427.1L1099.2 440.5L1099.8 452.4L1100.4 462.8L1100.8 468.8L1101.4 460.7L1102 451.4L1102.6 440.8L1103.2 429.2L1103.8 416.6L1104.4 403.2L1105 389.2L1105.6 374.8L1106.2 360.2L1106.8 345.7L1107.4 331.5L1108 317.9L1108.6 305L1109.2 293L1109.8 282.3L1110.4 272.9L1111 265.1L1111.6 258.9L1112.2 254.5L1112.8 252L1113.3 251.3L1113.9 252.5L1114.5 256.1L1115.1 261.9L1115.7 269.9L1116.3 279.9L1116.9 291.7L1117.5 305L1118.1 319.5L1118.7 334.9L1119.3 350.9L1119.9 367.2L1120.5 383.5L1121.1 399.4L1121.7 414.6L1122.3 428.9L1122.9 442L1123.5 453.7L1124.1 463.9L1124.5 469.8L1125.1 460.2L1125.7 448.9L1126.3 435.9L1126.9 421.6L1127.5 406.1L1128.1 389.7L1128.7 372.8L1129.3 355.7L1129.9 338.7L1130.5 322.2L1131.1 306.5L1131.7 292.1L1132.3 279.2L1132.9 268.1L1133.5 259.1L1134.1 252.4L1134.7 248.2L1135.3 246.4L1135.4 246.4L1136 247.5L1136.6 250.7L1137.2 256.1L1137.8 263.4L1138.4 272.6L1139 283.4L1139.6 295.7L1140.2 309.3L1140.8 323.8L1141.4 339L1142 354.6L1142.6 370.4L1143.2 386L1143.8 401.3L1144.4 415.9L1145 429.6L1145.6 442.2L1146.2 453.6L1146.8 463.6L1147.3 470.8L1147.9 462.4L1148.5 452.6L1149.1 441.5L1149.7 429.3L1150.3 416.1L1150.9 402.1L1151.5 387.4L1152.1 372.4L1152.7 357.2L1153.3 342.1L1153.9 327.3L1154.5 313.1L1155.1 299.7L1155.7 287.3L1156.3 276.3L1156.9 266.7L1157.5 258.7L1158.1 252.5L1158.7 248.2L1159.3 245.8L1159.7 245.4L1160.3 246.7L1160.9 250.6L1161.5 256.9L1162.1 265.7L1162.7 276.5L1163.3 289.2L1163.9 303.6L1164.5 319.2L1165.1 335.7L1165.7 352.8L1166.3 370.1L1166.9 387.2L1167.5 403.8L1168.1 419.6L1168.7 434.3L1169.3 447.6L1169.9 459.3L1170.5 469.3L1170.6 470.8L1171.2 462.4L1171.8 452.6L1172.4 441.5L1173 429.2L1173.6 416L1174.2 401.9L1174.8 387.2L1175.4 372.2L1176 357L1176.6 341.9L1177.2 327.3L1177.8 313.2L1178.4 300L1179 288L1179.6 277.3L1180.2 268.1L1180.8 260.6L1181.4 254.9L1182 251.2L1182.6 249.5L1182.8 249.4L1183.4 250.5L1184 253.7L1184.6 258.9L1185.2 266.2L1185.8 275.2L1186.4 285.9L1187 298.1L1187.6 311.4L1188.2 325.7L1188.8 340.7L1189.4 356.2L1190 371.7L1190.6 387.2L1191.2 402.2L1191.8 416.6L1192.4 430.1L1193 442.6L1193.6 453.8L1194.2 463.7L1194.7 470.8L1195.3 460.9L1195.9 449.3L1196.5 436L1197.1 421.3L1197.7 405.4L1198.3 388.6L1198.9 371.2L1199.5 353.5L1200.1 335.9L1200.7 318.7L1201.3 302.2L1201.9 286.9L1202.5 273L1203.1 260.8L1203.7 250.7L1204.3 242.7L1204.9 237.2L1205.5 234.2L1205.9 233.6L1206.5 234.8L1207.1 238.3L1207.7 244.2L1208.3 252.2L1208.9 262.2L1209.5 273.9L1210.1 287.3L1210.7 301.9L1211.3 317.5L1211.9 333.7L1212.5 350.3L1213.1 367L1213.7 383.4L1214.3 399.2L1214.9 414.2L1215.5 428.1L1216.1 440.7L1216.7 451.9L1217.3 461.5L1217.4 462.9L1218 454.1L1218.6 443.9L1219.2 432.3L1219.8 419.4L1220.4 405.5L1221 390.7L1221.6 375.4L1222.2 359.7L1222.8 344L1223.4 328.4L1224 313.4L1224.6 299.1L1225.2 285.9L1225.8 274L1226.4 263.6L1227 255L1227.6 248.2L1228.2 243.5L1228.8 241L1229.2 240.5L1229.8 241.7L1230.4 245.1L1231 250.8L1231.6 258.7L1232.2 268.4L1232.8 280L1233.4 293L1234 307.3L1234.6 322.6L1235.2 338.5L1235.8 354.7L1236.4 371L1237 387.1L1237.6 402.6L1238.2 417.2L1238.8 430.9L1239.4 443.2L1240 454.1L1240.6 463.5L1240.7 464.9L1241.3 454.9L1241.9 443.3L1242.5 430.3L1243.1 415.9L1243.7 400.3L1244.3 383.8L1244.9 366.5L1245.5 348.6L1246.1 330.5L1246.7 312.4L1247.3 294.6L1247.9 277.3L1248.5 260.8L1249.1 245.4L1249.7 231.3L1250.3 218.8L1250.9 208L1251.5 199.1L1252.1 192.4L1252.7 187.8L1253.3 185.5L1253.6 185.2L1254.2 186.3L1254.8 189.8L1255.4 195.4L1256 203.1L1256.6 212.7L1257.2 224.1L1257.8 237.1L1258.4 251.3L1259 266.5L1259.6 282.4L1260.2 298.7L1260.8 315.2L1261.4 331.5L1262 347.4L1262.6 362.5L1263.2 376.7L1263.8 389.7L1264.4 401.4L1265 411.6L1265.4 417.5L1266 409.4L1266.6 399.7L1267.2 388.5L1267.8 376.1L1268.4 362.8L1269 348.8L1269.6 334.4L1270.2 320.1L1270.8 306.2L1271.4 293.1L1272 281L1272.6 270.5L1273.2 261.6L1273.8 254.8L1274.4 250.1L1275 247.7L1275.3 247.4L1275.9 248.6L1276.5 252L1277.1 257.6L1277.7 265.3L1278.3 275L1278.9 286.3L1279.5 299.2L1280.1 313.3L1280.7 328.4L1281.3 344.1L1281.9 360.1L1282.5 376.2L1283.1 392L1283.7 407.3L1284.3 421.8L1284.9 435.2L1285.5 447.4L1286.1 458.2L1286.7 467.4L1286.8 468.8L1287.4 459.9L1288 449.4L1288.6 437.7L1289.2 424.6L1289.8 410.6L1290.4 395.6L1291 380L1291.6 364L1292.2 347.9L1292.8 331.9L1293.4 316.3L1294 301.4L1294.6 287.4L1295.2 274.6L1295.8 263.2L1296.4 253.4L1297 245.5L1297.6 239.5L1298.2 235.5L1298.8 233.7L1299 233.6L1299.6 234.9L1300.2 238.9L1300.8 245.3L1301.4 254.1L1302 265.1L1302.6 278L1303.2 292.5L1303.8 308.3L1304.4 325L1305 342.4L1305.6 359.9L1306.2 377.2L1306.8 394.1L1307.4 410.1L1308 424.9L1308.6 438.4L1309.2 450.3L1309.8 460.4L1309.9 461.9L1310.5 452.4L1311.1 441.3L1311.7 428.6L1312.3 414.5L1312.9 399.3L1313.5 383.2L1314.1 366.5L1314.7 349.5L1315.3 332.6L1315.9 316.1L1316.5 300.4L1317.1 285.7L1317.7 272.3L1318.3 260.7L1318.9 251L1319.5 243.4L1320.1 238L1320.7 235.2L1321.1 234.6L1321.7 235.7L1322.3 238.8L1322.9 244.1L1323.5 251.3L1324.1 260.3L1324.7 270.9L1325.3 283.1L1325.9 296.4L1326.5 310.7L1327.1 325.8L1327.7 341.3L1328.3 357L1328.9 372.6L1329.5 387.9L1330.1 402.7L1330.7 416.6L1331.3 429.5L1331.9 441.2L1332.5 451.6L1333.1 460.6L1333.2 461.9L1333.8 453.4L1334.4 443.6L1335 432.5L1335.6 420.3L1336.2 407.1L1336.8 393L1337.4 378.3L1338 363.2L1338.6 347.8L1339.2 332.5L1339.8 317.4L1340.4 302.8L1341 288.9L1341.6 275.9L1342.2 264.2L1342.8 253.7L1343.4 244.8L1344 237.5L1344.6 232L1345.2 228.5L1345.8 226.8L1346 226.7L1346.6 227.8L1347.2 231.2L1347.8 236.8L1348.4 244.5L1349 254.1L1349.6 265.4L1350.2 278.2L1350.8 292.3L1351.4 307.4L1352 323.2L1352.6 339.3L1353.2 355.6L1353.8 371.6L1354.4 387.2L1355 402L1355.6 415.9L1356.2 428.5L1356.8 439.9L1357.4 449.7L1357.7 454L1358.3 445.6L1358.9 435.8L1359.5 424.6L1360.1 412.2L1360.7 398.9L1361.3 384.7L1361.9 370L1362.5 355L1363.1 340L1363.7 325.4L1364.3 311.3L1364.9 298.1L1365.5 286L1366.1 275.3L1366.7 266.3L1367.3 259L1367.9 253.7L1368.5 250.5L1369.1 249.4L1369.1 249.4L1369.7 250.8L1370.3 254.8L1370.9 261.4L1371.5 270.4L1372.1 281.6L1372.7 294.7L1373.3 309.4L1373.9 325.3L1374.5 342.1L1375.1 359.3L1375.7 376.6L1376.3 393.6L1376.9 409.9L1377.5 425.2L1378.1 439.1L1378.7 451.5L1379.3 462.2L1379.6 466.8L1380.2 457.4L1380.8 446.4L1381.4 433.9L1382 420L1382.6 405L1383.2 389.1L1383.8 372.6L1384.4 355.9L1385 339.2L1385.6 322.9L1386.2 307.4L1386.8 292.9L1387.4 279.7L1388 268.2L1388.6 258.6L1389.2 251.1L1389.8 245.9L1390.4 243L1390.8 242.5L1391.4 243.5L1392 246.4L1392.6 251.2L1393.2 257.8L1393.8 266.1L1394.4 275.9L1395 287.1L1395.6 299.5L1396.2 312.9L1396.8 326.9L1397.4 341.5L1398 356.4L1398.6 371.2L1399.2 385.9L1399.8 400.1L1400.4 413.7L1401 426.4L1401.6 438.2L1402.2 448.8L1402.8 458.1L1403.3 464.9L1403.9 455.4L1404.5 444.5L1405.1 432.3L1405.7 419L1406.3 404.5L1406.9 389.2L1407.5 373L1408.1 356.3L1408.7 339.1L1409.3 321.8L1409.9 304.5L1410.5 287.4L1411.1 270.7L1411.7 254.8L1412.3 239.7L1412.9 225.6L1413.5 212.9L1414.1 201.5L1414.7 191.8L1415.3 183.7L1415.9 177.5L1416.5 173.2L1417.1 170.8L1417.5 170.4L1418.1 171.9L1418.7 176.5L1419.3 183.9L1419.9 194.1L1420.5 206.7L1421.1 221.4L1421.7 237.9L1422.3 255.7L1422.9 274.4L1423.5 293.5L1424.1 312.6L1424.7 331.3L1425.3 349.1L1425.9 365.6L1426.5 380.6L1427.1 393.8L1427.7 404.9L1427.8 406.6L1428.4 399L1429 390L1429.6 379.8L1430.2 368.4L1430.8 356.1L1431.4 343.2L1432 329.8L1432.6 316.2L1433.2 302.6L1433.8 289.5L1434.4 277L1435 265.4L1435.6 255L1436.2 246L1436.8 238.7L1437.4 233.1L1438 229.4L1438.6 227.7L1438.8 227.6L1439.4 228.9L1440 232.6L1440.6 238.8L1441.2 247.2L1441.8 257.8L1442.4 270.2L1443 284.2L1443.6 299.6L1444.2 315.9L1444.8 332.9L1445.4 350.2L1446 367.5L1446.6 384.4L1447.2 400.7L1447.8 416L1448.4 430.2L1449 442.9L1449.6 454L1450.1 461.9L1450.7 453L1451.3 442.6L1451.9 430.8L1452.5 417.9L1453.1 403.9L1453.7 389L1454.3 373.4L1454.9 357.5L1455.5 341.3L1456.1 325.3L1456.7 309.6L1457.3 294.5L1457.9 280.3L1458.5 267.2L1459.1 255.5L1459.7 245.3L1460.3 236.8L1460.9 230.2L1461.5 225.7L1462.1 223.2L1462.5 222.7L1463.1 223.9L1463.7 227.5L1464.3 233.4L1464.9 241.4L1465.5 251.5L1466.1 263.3L1466.7 276.7L1467.3 291.3L1467.9 306.9L1468.5 323.1L1469.1 339.6L1469.7 356.1L1470.3 372.2L1470.9 387.8L1471.5 402.4L1472.1 415.8L1472.7 427.9L1473.3 438.5L1473.8 446.1L1474.4 437.4L1475 427.1L1475.6 415.4L1476.2 402.4L1476.8 388.3L1477.4 373.5L1478 358.1L1478.6 342.6L1479.2 327.1L1479.8 312.2L1480.4 298L1481 284.9L1481.6 273.2L1482.2 263.1L1482.8 254.9L1483.4 248.9L1484 245L1484.6 243.4L1484.7 243.4L1485.3 244.6L1485.9 248.1L1486.5 253.8L1487.1 261.7L1487.7 271.6L1488.3 283.2L1488.9 296.3L1489.5 310.6L1490.1 326L1490.7 341.9L1491.3 358.2L1491.9 374.5L1492.5 390.5L1493.1 405.9L1493.7 420.4L1494.3 433.9L1494.9 446L1495.5 456.7L1496.1 465.8L1496.1 465.8L1496.7 456.9L1497.3 446.6L1497.9 434.8L1498.5 421.8L1499.1 407.7L1499.7 392.8L1500.3 377.3L1500.9 361.4L1501.5 345.4L1502.1 329.7L1502.7 314.4L1503.3 299.8L1503.9 286.3L1504.5 274.1L1505.1 263.3L1505.7 254.4L1506.3 247.3L1506.9 242.2L1507.5 239.3L1508 238.5L1508.6 239.8L1509.2 243.8L1509.8 250.2L1510.4 258.5L1511 268.4L1511.6 279.1L1512.2 290.2L1512.8 300.9L1513.4 310.5L1514 318.5L1514.6 324.5L1515.2 328.1L1515.7 329" fill="none" stroke="#ff1010" stroke-width="3" stroke-dasharray="7.5 4.2" stroke-linejoin="round"/>
<path d="M936 408.6L936.6 411.9L937.2 420.5L937.8 430.9L938.4 438.9L938.9 441.2L939.5 431.6L940.1 420.5L940.7 408L941.3 394.1L941.9 379.1L942.5 363.2L943.1 346.5L943.7 329.4L944.3 312.2L944.9 295L945.5 278.2L946.1 262.1L946.7 246.8L947.3 232.8L947.9 220.3L948.5 209.4L949.1 200.3L949.7 193.3L950.3 188.4L950.9 185.7L951.3 185.2L951.9 186.9L952.5 191.9L953.1 200L953.7 210.8L954.3 224L954.9 239.1L955.5 255.4L956.1 272.3L956.7 289.3L957.3 305.7L957.9 320.9L958.5 334.6L959.1 346.3L959.6 354.3L960.2 353.8L960.8 352.3L961.4 350L962 347.3L962.6 344.5L963.2 342.1L963.8 340.3L964.4 339.5L964.6 339.4L965.2 341.2L965.8 346.2L966.4 353.8L967 362.8L967.6 372L968.2 379.9L968.8 385.4L969.4 387.8L969.5 387.8L970.1 379.3L970.7 369.1L971.3 357.5L971.9 344.6L972.5 330.7L973.1 316.1L973.7 301.1L974.3 285.9L974.9 271.1L975.5 256.9L976.1 243.7L976.7 231.9L977.3 221.6L977.9 213.3L978.5 207L979.1 203L979.7 201.4L979.8 201.4L980.4 202.7L981 206.4L981.6 212.6L982.2 220.9L982.8 231.2L983.4 243.1L984 256.3L984.6 270.4L985.2 285L985.8 299.6L986.4 314L987 327.6L987.6 340.2L988.2 351.5L988.8 361.3L989.3 368.1L989.9 366.9L990.5 363.4L991.1 357.8L991.7 350.3L992.3 341.5L992.9 331.8L993.5 321.8L994.1 312L994.7 303L995.3 295.4L995.9 289.4L996.5 285.5L997.1 283.9L997.2 283.9L997.8 285.1L998.4 288.7L999 294.6L999.6 302.6L1000.2 312.4L1000.8 323.9L1001.4 336.7L1002 350.3L1002.6 364.6L1003.2 379L1003.8 393.3L1004.4 407L1005 419.8L1005.6 431.5L1006.2 441.7L1006.8 450.5L1007 453L1007.6 442.8L1008.2 431L1008.8 417.8L1009.4 403.1L1010 387.3L1010.6 370.4L1011.2 352.8L1011.8 334.7L1012.4 316.3L1013 297.8L1013.6 279.7L1014.2 262.1L1014.8 245.3L1015.4 229.6L1016 215.3L1016.6 202.5L1017.2 191.6L1017.8 182.6L1018.4 175.7L1019 171L1019.6 168.7L1019.9 168.4L1020.5 169.4L1021.1 172.5L1021.7 177.5L1022.3 184.4L1022.9 193.2L1023.5 203.7L1024.1 215.7L1024.7 229.2L1025.3 243.9L1025.9 259.6L1026.5 276.2L1027.1 293.4L1027.7 311L1028.3 328.9L1028.9 346.7L1029.5 364.3L1030.1 381.5L1030.7 398L1031.3 413.8L1031.9 428.6L1032.5 442.3L1033.1 454.8L1033.7 465.9L1034.3 475.7L1034.3 475.7L1034.9 466.1L1035.5 455.1L1036.1 442.8L1036.7 429.2L1037.3 414.5L1037.9 398.9L1038.5 382.5L1039.1 365.5L1039.7 348.2L1040.3 330.7L1040.9 313.3L1041.5 296.3L1042.1 279.7L1042.7 264L1043.3 249.2L1043.9 235.6L1044.5 223.4L1045.1 212.8L1045.7 203.8L1046.3 196.8L1046.9 191.6L1047.5 188.5L1048.1 187.5L1048.1 187.5L1048.7 188.6L1049.3 191.9L1049.9 197.3L1050.5 204.6L1051.1 213.7L1051.7 224.3L1052.3 236.2L1052.9 248.9L1053.5 262.3L1054.1 275.9L1054.7 289.4L1055.3 302.5L1055.9 315L1056.5 326.5L1057.1 336.8L1057.7 345.7L1058.2 352L1058.8 352.9L1059.4 355.1L1060 356.8L1060.3 357L1060.9 358.8L1061.5 364L1062.1 371.8L1062.7 381.2L1063.3 390.8L1063.9 399.2L1064.5 405.4L1065.1 408.4L1065.3 408.6L1065.9 399.6L1066.5 389.1L1067.1 377.2L1067.7 364.1L1068.3 350L1068.9 334.9L1069.5 319.3L1070.1 303.1L1070.7 286.8L1071.3 270.6L1071.9 254.8L1072.5 239.5L1073.1 225.2L1073.7 212L1074.3 200.1L1074.9 189.8L1075.5 181.3L1076.1 174.6L1076.7 170L1077.3 167.5L1077.7 167L1078.3 168L1078.9 170.9L1079.5 175.7L1080.1 182.4L1080.7 190.9L1081.3 201L1081.9 212.6L1082.5 225.6L1083.1 239.9L1083.7 255.2L1084.3 271.3L1084.9 288.1L1085.5 305.3L1086.1 322.8L1086.7 340.3L1087.3 357.7L1087.9 374.7L1088.5 391.2L1089.1 407L1089.7 421.9L1090.3 435.9L1090.9 448.7L1091.5 460.2L1092.1 470.5L1092.4 475.1L1093 465.1L1093.6 453.7L1094.2 440.9L1094.8 426.9L1095.4 411.7L1096 395.5L1096.6 378.5L1097.2 360.9L1097.8 342.9L1098.4 324.8L1099 306.6L1099.6 288.8L1100.2 271.5L1100.8 254.9L1101.4 239.3L1102 224.9L1102.6 211.9L1103.2 200.4L1103.8 190.6L1104.4 182.7L1105 176.8L1105.6 172.9L1106.2 171.1L1106.4 171L1107 171.9L1107.6 174.4L1108.2 178.6L1108.8 184.4L1109.4 191.8L1110 200.6L1110.6 210.8L1111.2 222.2L1111.8 234.8L1112.4 248.3L1113 262.7L1113.6 277.8L1114.2 293.4L1114.8 309.3L1115.4 325.4L1116 341.5L1116.6 357.5L1117.2 373.2L1117.8 388.4L1118.4 403L1119 416.9L1119.6 429.9L1120.2 442L1120.8 453.1L1121.4 463L1122 471.8L1122 471.8L1122.6 462.4L1123.2 451.5L1123.8 439.1L1124.4 425.5L1125 410.8L1125.6 395.1L1126.2 378.8L1126.8 362L1127.4 344.9L1128 328L1128.6 311.3L1129.2 295.3L1129.8 280L1130.4 266L1131 253.2L1131.6 242L1132.2 232.6L1132.8 225.1L1133.4 219.6L1134 216.3L1134.6 215.2L1134.6 215.2L1135.2 216.4L1135.8 219.9L1136.4 225.7L1137 233.5L1137.6 243.2L1138.2 254.4L1138.8 266.9L1139.4 280.3L1140 294.2L1140.6 308.2L1141.2 322L1141.8 335.3L1142.4 347.6L1143 358.8L1143.6 368.6L1144.2 376.8L1144.3 378L1144.9 370.7L1145.5 361.7L1146.1 351.4L1146.7 339.8L1147.3 327.5L1147.9 314.8L1148.5 302.2L1149.1 290L1149.7 278.7L1150.3 268.7L1150.9 260.4L1151.5 254.1L1152.1 250.1L1152.7 248.4L1152.8 248.4L1153.4 249.6L1154 253L1154.6 258.6L1155.2 266.3L1155.8 275.7L1156.4 286.7L1157 299L1157.6 312.2L1158.2 325.9L1158.8 339.9L1159.4 353.7L1160 367L1160.6 379.5L1161.2 390.9L1161.8 401.1L1162.4 409.8L1162.7 413.5L1163.3 403.8L1163.9 392.5L1164.5 379.7L1165.1 365.6L1165.7 350.2L1166.3 334L1166.9 317.1L1167.5 299.8L1168.1 282.4L1168.7 265.3L1169.3 248.7L1169.9 233L1170.5 218.4L1171.1 205.3L1171.7 193.9L1172.3 184.3L1172.9 176.9L1173.5 171.8L1174.1 168.9L1174.5 168.4L1175.1 169.4L1175.7 172.4L1176.3 177.3L1176.9 184.2L1177.5 192.8L1178.1 203.1L1178.7 215L1179.3 228.2L1179.9 242.7L1180.5 258.3L1181.1 274.7L1181.7 291.7L1182.3 309.2L1182.9 327L1183.5 344.8L1184.1 362.4L1184.7 379.6L1185.3 396.2L1185.9 412.1L1186.5 427.1L1187.1 441.1L1187.7 453.9L1188.3 465.4L1188.9 475.6L1189.1 478.7L1189.7 468.2L1190.3 456.2L1190.9 442.8L1191.5 428.1L1192.1 412.2L1192.7 395.3L1193.3 377.6L1193.9 359.2L1194.5 340.2L1195.1 321L1195.7 301.7L1196.3 282.6L1196.9 263.8L1197.5 245.6L1198.1 228.2L1198.7 211.8L1199.3 196.6L1199.9 182.9L1200.5 170.7L1201.1 160.2L1201.7 151.6L1202.3 145L1202.9 140.4L1203.5 137.9L1203.9 137.4L1204.5 138.3L1205.1 141L1205.7 145.6L1206.3 151.8L1206.9 159.7L1207.5 169.2L1208.1 180.2L1208.7 192.5L1209.3 206L1209.9 220.5L1210.5 236L1211.1 252.1L1211.7 268.8L1212.3 285.9L1212.9 303.1L1213.5 320.3L1214.1 337.4L1214.7 354.1L1215.3 370.3L1215.9 385.8L1216.5 400.6L1217.1 414.4L1217.7 427.2L1218.3 438.8L1218.9 449.3L1219.4 457L1220 446.5L1220.6 434.5L1221.2 421L1221.8 406.1L1222.4 389.9L1223 372.8L1223.6 354.8L1224.2 336.3L1224.8 317.4L1225.4 298.4L1226 279.5L1226.6 261.1L1227.2 243.4L1227.8 226.7L1228.4 211.1L1229 197L1229.6 184.6L1230.2 174L1230.8 165.4L1231.4 158.9L1232 154.7L1232.6 152.7L1232.8 152.6L1233.4 153.7L1234 157.2L1234.6 162.8L1235.2 170.6L1235.8 180.4L1236.4 192.2L1237 205.6L1237.6 220.6L1238.2 236.9L1238.8 254.4L1239.4 272.7L1240 291.6L1240.6 310.8L1241.2 330.2L1241.8 349.5L1242.4 368.4L1243 386.6L1243.6 404.1L1244.2 420.5L1244.8 435.8L1245.4 449.7L1246 462.1L1246.6 473L1246.7 474.7L1247.3 464.7L1247.9 453.4L1248.5 440.8L1249.1 427.1L1249.7 412.2L1250.3 396.4L1250.9 379.7L1251.5 362.4L1252.1 344.6L1252.7 326.4L1253.3 308.1L1253.9 289.9L1254.5 271.9L1255.1 254.3L1255.7 237.3L1256.3 221.2L1256.9 206L1257.5 192.1L1258.1 179.4L1258.7 168.2L1259.3 158.6L1259.9 150.8L1260.5 144.7L1261.1 140.5L1261.7 138.2L1262.1 137.8L1262.7 138.8L1263.3 141.9L1263.9 146.9L1264.5 153.9L1265.1 162.7L1265.7 173.2L1266.3 185.3L1266.9 198.9L1267.5 213.8L1268.1 229.7L1268.7 246.5L1269.3 264.1L1269.9 282.1L1270.5 300.4L1271.1 318.8L1271.7 337L1272.3 354.9L1272.9 372.3L1273.5 389L1274.1 404.7L1274.7 419.5L1275.3 433.1L1275.9 445.4L1276.5 456.4L1276.9 462.9L1277.5 452.1L1278.1 439.6L1278.7 425.6L1279.3 410.2L1279.9 393.5L1280.5 375.8L1281.1 357.2L1281.7 338L1282.3 318.4L1282.9 298.7L1283.5 279.1L1284.1 259.9L1284.7 241.3L1285.3 223.7L1285.9 207.3L1286.5 192.3L1287.1 178.9L1287.7 167.4L1288.3 157.9L1288.9 150.5L1289.5 145.4L1290.1 142.6L1290.5 142.1L1291.1 143.3L1291.7 146.8L1292.3 152.6L1292.9 160.6L1293.5 170.7L1294.1 182.8L1294.7 196.6L1295.3 212L1295.9 228.8L1296.5 246.8L1297.1 265.7L1297.7 285.2L1298.3 305.1L1298.9 325.2L1299.5 345.1L1300.1 364.7L1300.7 383.7L1301.3 401.8L1301.9 419L1302.5 435L1303.1 449.6L1303.7 462.7L1304.3 474.2L1304.5 477.7L1305.1 468.2L1305.7 457.4L1306.3 445.3L1306.9 432L1307.5 417.6L1308.1 402.4L1308.7 386.3L1309.3 369.6L1309.9 352.6L1310.5 335.3L1311.1 318.1L1311.7 301L1312.3 284.4L1312.9 268.4L1313.5 253.2L1314.1 239.1L1314.7 226.3L1315.3 214.8L1315.9 204.8L1316.5 196.6L1317.1 190.1L1317.7 185.5L1318.3 182.9L1318.8 182.2L1319.4 182.7L1320 184.3L1320.6 186.8L1321.2 190.4L1321.8 194.9L1322.4 200.3L1323 206.6L1323.6 213.8L1324.2 221.6L1324.8 230.2L1325.4 239.4L1326 249.1L1326.6 259.3L1327.2 269.8L1327.8 280.6L1328.4 291.7L1329 302.8L1329.6 313.9L1330.2 324.9L1330.8 335.8L1331.4 346.4L1332 356.8L1332.6 366.7L1333.2 376.1L1333.8 385.1L1334.4 393.4L1335 401.2L1335.6 408.2L1336.2 414.6L1336.5 417.5L1337.1 407.9L1337.7 396.6L1338.3 383.7L1338.9 369.4L1339.5 354L1340.1 337.7L1340.7 320.8L1341.3 303.7L1341.9 286.7L1342.5 270.3L1343.1 254.7L1343.7 240.3L1344.3 227.4L1344.9 216.4L1345.5 207.4L1346.1 200.7L1346.7 196.5L1347.3 194.7L1347.4 194.7L1348 195.7L1348.6 198.5L1349.2 203.2L1349.8 209.6L1350.4 217.5L1351 226.9L1351.6 237.4L1352.2 248.9L1352.8 261L1353.4 273.5L1354 286.2L1354.6 298.8L1355.2 311L1355.8 322.6L1356.4 333.4L1357 343.2L1357.6 351.8L1358.2 359.1L1358.3 360.2L1358.9 357.9L1359.5 351.5L1360.1 342.2L1360.7 331.7L1361.3 322.1L1361.9 315.1L1362.5 312.1L1362.6 312L1363.2 312.7L1363.8 314.8L1364.4 318.3L1365 323.1L1365.6 329.1L1366.2 336.2L1366.8 344.1L1367.4 352.9L1368 362.2L1368.6 371.8L1369.2 381.7L1369.8 391.6L1370.4 401.3L1371 410.7L1371.6 419.5L1372.2 427.7L1372.8 435.1L1373.4 441.6L1374 447.1L1374 447.1L1374.6 437.4L1375.2 426.3L1375.8 413.7L1376.4 399.8L1377 384.8L1377.6 368.8L1378.2 352.1L1378.8 334.9L1379.4 317.5L1380 300L1380.6 282.8L1381.2 266.1L1381.8 250.2L1382.4 235.3L1383 221.8L1383.6 209.7L1384.2 199.3L1384.8 190.7L1385.4 184.2L1386 179.8L1386.6 177.6L1386.9 177.3L1387.5 177.9L1388.1 179.9L1388.7 183.1L1389.3 187.6L1389.9 193.2L1390.5 200L1391.1 207.8L1391.7 216.7L1392.3 226.4L1392.9 236.9L1393.5 248.2L1394.1 260L1394.7 272.2L1395.3 284.9L1395.9 297.7L1396.5 310.7L1397.1 323.6L1397.7 336.4L1398.3 349L1398.9 361.2L1399.5 372.9L1400.1 384.1L1400.7 394.6L1401.3 404.5L1401.9 413.5L1402.5 421.7L1403.1 429.1L1403.3 431.3L1403.9 421.5L1404.5 410L1405.1 396.9L1405.7 382.4L1406.3 366.7L1406.9 350.1L1407.5 332.9L1408.1 315.5L1408.7 298L1409.3 281L1409.9 264.8L1410.5 249.6L1411.1 235.9L1411.7 223.9L1412.3 213.9L1412.9 206L1413.5 200.6L1414.1 197.6L1414.5 197L1415.1 198.2L1415.7 201.7L1416.3 207.3L1416.9 215.1L1417.5 224.7L1418.1 235.8L1418.7 248.2L1419.3 261.5L1419.9 275.4L1420.5 289.6L1421.1 303.5L1421.7 317L1422.3 329.7L1422.9 341.3L1423.5 351.5L1424.1 360.3L1424.4 364.1L1425 362.8L1425.6 358.9L1426.2 352.8L1426.8 345.2L1427.4 336.8L1428 328.5L1428.6 321.2L1429.2 315.4L1429.8 311.9L1430.3 311L1430.9 311.7L1431.5 313.9L1432.1 317.4L1432.7 322.2L1433.3 328.3L1433.9 335.4L1434.5 343.4L1435.1 352.2L1435.7 361.5L1436.3 371.3L1436.9 381.2L1437.5 391.1L1438.1 400.8L1438.7 410.1L1439.3 418.8L1439.9 426.9L1440.5 434.2L1441.1 440.6L1441.6 445.1L1442.2 435.5L1442.8 424.4L1443.4 411.9L1444 398L1444.6 383L1445.2 367.1L1445.8 350.4L1446.4 333.3L1447 316.1L1447.6 298.9L1448.2 282.1L1448.8 266L1449.4 250.7L1450 236.7L1450.6 224.2L1451.2 213.3L1451.8 204.2L1452.4 197.2L1453 192.3L1453.6 189.6L1454 189.1L1454.6 190.3L1455.2 193.8L1455.8 199.6L1456.4 207.4L1457 217.1L1457.6 228.4L1458.2 240.9L1458.8 254.4L1459.4 268.5L1460 282.8L1460.6 296.9L1461.2 310.5L1461.8 323.4L1462.4 335.1L1463 345.5L1463.6 354.4L1463.9 358.2L1464.5 357.3L1465.1 354.8L1465.7 351.7L1466.3 349.2L1466.9 348.3L1466.9 348.3L1467.5 350.1L1468.1 355.3L1468.7 363L1469.3 372.2L1469.9 381.5L1470.5 389.6L1471.1 395.3L1471.7 397.6L1471.8 397.7L1472.4 389.7L1473 380.2L1473.6 369.4L1474.2 357.5L1474.8 344.5L1475.4 330.9L1476 316.7L1476.6 302.4L1477.2 288.2L1477.8 274.5L1478.4 261.4L1479 249.4L1479.6 238.6L1480.2 229.3L1480.8 221.8L1481.4 216.2L1482 212.7L1482.6 211.2L1482.7 211.2L1483.3 212.3L1483.9 215.7L1484.5 221.2L1485.1 228.7L1485.7 238L1486.3 248.8L1486.9 260.8L1487.5 273.7L1488.1 287.2L1488.7 300.8L1489.3 314.3L1489.9 327.4L1490.5 339.7L1491.1 350.9L1491.7 360.8L1492.3 369.3L1492.6 373L1493.2 364.9L1493.8 355L1494.4 343.4L1495 330.6L1495.6 316.9L1496.2 303L1496.8 289.4L1497.4 276.6L1498 265.1L1498.6 255.5L1499.2 248.2L1499.8 243.5L1500.4 241.5L1500.5 241.5L1501.1 242.8L1501.7 246.7L1502.3 252.9L1502.9 261.5L1503.5 272L1504.1 284.1L1504.7 297.6L1505.3 311.9L1505.9 326.7L1506.5 341.5L1507.1 356L1507.7 369.7L1508.3 382.3L1508.9 393.6L1509.5 403.2L1509.9 408.6L1510.5 395.3L1511.1 378.2L1511.7 358.1L1512.3 336.4L1512.9 314.7L1513.5 294.5L1514.1 277.4L1514.7 264.8L1515.3 257.7L1515.7 256.3" fill="none" stroke="#1010ee" stroke-width="3" stroke-linejoin="round"/>
<text x="922.5" y="89.1" font-family='"Liberation Sans", Arial, sans-serif' font-size="24" fill="#1a1a1a" text-anchor="end" textLength="36" lengthAdjust="spacingAndGlyphs">9.0</text>
<text x="922.5" y="149.9" font-family='"Liberation Sans", Arial, sans-serif' font-size="24" fill="#1a1a1a" text-anchor="end" textLength="36" lengthAdjust="spacingAndGlyphs">8.5</text>
<text x="922.5" y="210.8" font-family='"Liberation Sans", Arial, sans-serif' font-size="24" fill="#1a1a1a" text-anchor="end" textLength="36" lengthAdjust="spacingAndGlyphs">8.0</text>
<text x="922.5" y="271.6" font-family='"Liberation Sans", Arial, sans-serif' font-size="24" fill="#1a1a1a" text-anchor="end" textLength="36" lengthAdjust="spacingAndGlyphs">7.5</text>
<text x="922.5" y="332.4" font-family='"Liberation Sans", Arial, sans-serif' font-size="24" fill="#1a1a1a" text-anchor="end" textLength="36" lengthAdjust="spacingAndGlyphs">7.0</text>
<text x="922.5" y="393.2" font-family='"Liberation Sans", Arial, sans-serif' font-size="24" fill="#1a1a1a" text-anchor="end" textLength="36" lengthAdjust="spacingAndGlyphs">6.5</text>
<text x="922.5" y="454.1" font-family='"Liberation Sans", Arial, sans-serif' font-size="24" fill="#1a1a1a" text-anchor="end" textLength="36" lengthAdjust="spacingAndGlyphs">6.0</text>
<text x="922.5" y="514.9" font-family='"Liberation Sans", Arial, sans-serif' font-size="24" fill="#1a1a1a" text-anchor="end" textLength="36" lengthAdjust="spacingAndGlyphs">5.5</text>
<text x="935.5" y="537.5" font-family='"Liberation Sans", Arial, sans-serif' font-size="22" fill="#1a1a1a" text-anchor="middle" textLength="35.5" lengthAdjust="spacingAndGlyphs">0.0</text>
<text x="993.5" y="537.5" font-family='"Liberation Sans", Arial, sans-serif' font-size="22" fill="#1a1a1a" text-anchor="middle" textLength="35.5" lengthAdjust="spacingAndGlyphs">0.1</text>
<text x="1051.5" y="537.5" font-family='"Liberation Sans", Arial, sans-serif' font-size="22" fill="#1a1a1a" text-anchor="middle" textLength="35.5" lengthAdjust="spacingAndGlyphs">0.2</text>
<text x="1109.5" y="537.5" font-family='"Liberation Sans", Arial, sans-serif' font-size="22" fill="#1a1a1a" text-anchor="middle" textLength="35.5" lengthAdjust="spacingAndGlyphs">0.3</text>
<text x="1167.5" y="537.5" font-family='"Liberation Sans", Arial, sans-serif' font-size="22" fill="#1a1a1a" text-anchor="middle" textLength="35.5" lengthAdjust="spacingAndGlyphs">0.4</text>
<text x="1225.5" y="537.5" font-family='"Liberation Sans", Arial, sans-serif' font-size="22" fill="#1a1a1a" text-anchor="middle" textLength="35.5" lengthAdjust="spacingAndGlyphs">0.5</text>
<text x="1283.5" y="537.5" font-family='"Liberation Sans", Arial, sans-serif' font-size="22" fill="#1a1a1a" text-anchor="middle" textLength="35.5" lengthAdjust="spacingAndGlyphs">0.6</text>
<text x="1341.5" y="537.5" font-family='"Liberation Sans", Arial, sans-serif' font-size="22" fill="#1a1a1a" text-anchor="middle" textLength="35.5" lengthAdjust="spacingAndGlyphs">0.7</text>
<text x="1399.5" y="537.5" font-family='"Liberation Sans", Arial, sans-serif' font-size="22" fill="#1a1a1a" text-anchor="middle" textLength="35.5" lengthAdjust="spacingAndGlyphs">0.8</text>
<text x="1457.5" y="537.5" font-family='"Liberation Sans", Arial, sans-serif' font-size="22" fill="#1a1a1a" text-anchor="middle" textLength="35.5" lengthAdjust="spacingAndGlyphs">0.9</text>
<text x="1515.5" y="537.5" font-family='"Liberation Sans", Arial, sans-serif' font-size="22" fill="#1a1a1a" text-anchor="middle" textLength="35.5" lengthAdjust="spacingAndGlyphs">1.0</text>
<text transform="translate(866.3,293) rotate(-90)" font-family='"Liberation Sans", Arial, sans-serif' font-size="15.5" fill="#222" text-anchor="middle" textLength="106" lengthAdjust="spacingAndGlyphs">Length (mm)</text>
<text x="1225.6" y="566.5" font-family='"Liberation Sans", Arial, sans-serif' font-size="17" fill="#222" text-anchor="middle" textLength="88.5" lengthAdjust="spacingAndGlyphs">Time (sec)</text>
<text x="853" y="565.8" font-family='"Liberation Sans", Arial, sans-serif' font-size="17" fill="#222" textLength="162.5" lengthAdjust="spacingAndGlyphs" xml:space="preserve">Analysis:  Last_Run</text>
<text x="837" y="542.5" font-family='"Liberation Sans", Arial, sans-serif' font-size="39" fill="#111" textLength="49" lengthAdjust="spacingAndGlyphs">(b)</text>
<rect x="1482.7" y="59.7" width="82" height="41.6" rx="4.5" fill="#fff" stroke="#9a9a9a" stroke-width="2.4"/>
<line x1="1496" x2="1533" y1="72.8" y2="72.8" stroke="#f01830" stroke-width="2.8" stroke-dasharray="9 6.5"/>
<line x1="1496" x2="1534.5" y1="94.8" y2="94.8" stroke="#1010e6" stroke-width="2.8"/>
<text x="1536.5" y="79.5" font-family='"Liberation Sans", Arial, sans-serif' font-size="19" stroke="#ea2038" stroke-width="0.4" fill="#ea2038" textLength="20" lengthAdjust="spacingAndGlyphs">50</text>
<text x="1536.5" y="101.5" font-family='"Liberation Sans", Arial, sans-serif' font-size="19" stroke="#1414e0" stroke-width="0.4" fill="#1414e0" textLength="20" lengthAdjust="spacingAndGlyphs">60</text>
<line x1="8.75" y1="591.2" x2="1590" y2="599.6" stroke="#4a7ab6" stroke-width="4.6" stroke-dasharray="20.5 16.6"/>
<line x1="799.6" y1="8.2" x2="795.9" y2="588" stroke="#4a7ab6" stroke-width="4.8" stroke-dasharray="20 17.25"/>
<line x1="9" y1="665" x2="1590" y2="669" stroke="#33478a" stroke-width="3" stroke-dasharray="10.2 4.2" fill="none"/>
<line x1="9" y1="1063.6" x2="1590" y2="1069.1" stroke="#33478a" stroke-width="3" stroke-dasharray="10.2 4.2" fill="none"/>
<line x1="306.4" y1="599" x2="306.4" y2="1129" stroke="#33478a" stroke-width="3" stroke-dasharray="10.2 4.2" fill="none"/>
<line x1="633.3" y1="601" x2="633.3" y2="1129" stroke="#33478a" stroke-width="3" stroke-dasharray="10.2 4.2" fill="none"/>
<line x1="957" y1="603" x2="957" y2="1129" stroke="#33478a" stroke-width="3" stroke-dasharray="10.2 4.2" fill="none"/>
<line x1="1295.4" y1="605" x2="1295.4" y2="1129" stroke="#33478a" stroke-width="3" stroke-dasharray="10.2 4.2" fill="none"/>
<polygon points="72.7,668.5 201.2,668.5 261.2,683.5 198.3,701.5 201.2,1058.6 78,1024" fill="#f0a30a"/>
<polygon points="72.7,668.5 201.2,668.5 261.2,683.5 197.3,699.5 72.7,673" fill="#eb9f08"/>
<polygon points="72.7,672.7 197.3,699.5 201.2,1058.6 78,1024" fill="#f5a60a"/>
<polygon points="73.9,745.7 192.8,745.7 194.8,983.5 77.4,983.5" fill="#c98c14"/>
<polygon points="197.3,699.5 261.2,683.5 263.3,1043.8 201.2,1058.6" fill="url(#dk1)"/>
<polygon points="23.2,992.2 78,977.5 194.9,975.4 194.9,1022.8 79,1024.9 23.2,1010.1" fill="#0a0ae6"/>
<polygon points="80,1006 194.9,1002.9 194.9,1022.8 79,1024.9" fill="#1414cc"/>
<polygon points="23.2,992.2 80,1006 79,1024.9 23.2,1010.1" fill="#0c0cdc"/>
<g clip-path="url(#sc1)"><g clip-path="url(#scc1)"><g transform="translate(132.2 898.8)"><circle cx="0" cy="0" r="91.3" fill="url(#sg)"/><circle cx="0" cy="0" r="90.3" fill="url(#sv)" filter="url(#haze)"/><g filter="url(#b15)" fill="#50b0ee" opacity="0.7"><circle cx="-71.9" cy="-4.6" r="1.8"/><circle cx="-66.5" cy="-5.1" r="1.6"/><circle cx="-67.6" cy="-11.7" r="2.8"/><circle cx="-63.3" cy="-6.8" r="2.8"/><circle cx="-60" cy="-15" r="2.5"/><circle cx="-57.5" cy="-16.5" r="2.9"/><circle cx="-57.9" cy="-15.4" r="1.6"/><circle cx="-55.9" cy="-14.3" r="1.4"/><circle cx="-53.9" cy="-16.6" r="2.7"/><circle cx="-52.9" cy="-17.8" r="2.5"/><circle cx="-50.3" cy="-22.4" r="2.6"/><circle cx="-43.8" cy="-22.7" r="2"/><circle cx="-44.8" cy="-24.7" r="1.7"/><circle cx="-41.8" cy="-34.8" r="2.9"/><circle cx="-40.4" cy="-25.9" r="2.6"/><circle cx="-36.5" cy="-29.7" r="2.8"/><circle cx="-32.1" cy="-26" r="1.9"/><circle cx="-27.8" cy="-26.9" r="2.9"/><circle cx="-28.2" cy="-23" r="1.7"/><circle cx="-23.5" cy="-20.3" r="3"/><circle cx="-16.6" cy="-20.6" r="2.3"/><circle cx="-25.5" cy="-39.2" r="2.6"/><circle cx="-20.8" cy="-42.3" r="2.1"/><circle cx="-17.3" cy="-44" r="2.1"/><circle cx="-8.9" cy="-46.4" r="2.2"/><circle cx="-2.7" cy="-44.3" r="2"/><circle cx="3.7" cy="-42" r="1.5"/><circle cx="-44.1" cy="-32.8" r="2"/><circle cx="-41.3" cy="-23.4" r="2.6"/><circle cx="-39.5" cy="-18.6" r="2.4"/><circle cx="-33.6" cy="-21" r="1.8"/><circle cx="-40.3" cy="-17" r="2.4"/><circle cx="-37.4" cy="-12.6" r="2.6"/><circle cx="-36.5" cy="-9.6" r="2.8"/><circle cx="-26.1" cy="-12.1" r="2.2"/><circle cx="-63.1" cy="-41.7" r="2.1"/><circle cx="-57" cy="-43.9" r="2.6"/><circle cx="-53.7" cy="-38.8" r="2.4"/><circle cx="-54.8" cy="-46" r="1.5"/><circle cx="-51.8" cy="-44" r="1.6"/><circle cx="-49.3" cy="-44.7" r="1.5"/><circle cx="-50.4" cy="-45.2" r="2.3"/><circle cx="-45.9" cy="-48.8" r="2"/><circle cx="-45" cy="-49.4" r="2.7"/><circle cx="-39.1" cy="-50.5" r="1.6"/><circle cx="-42.3" cy="-49.8" r="2.9"/><circle cx="-43.2" cy="-52" r="2.4"/><circle cx="-36" cy="-53.4" r="2.3"/><circle cx="-34.9" cy="-53" r="1.4"/><circle cx="-33" cy="-59.3" r="1.6"/><circle cx="-25.8" cy="-58.9" r="2.1"/><circle cx="-26.9" cy="-50.7" r="2"/><circle cx="-19.1" cy="-52.5" r="2.2"/><circle cx="-19.7" cy="-54.6" r="2.2"/><circle cx="-15.6" cy="-61.3" r="2.4"/><circle cx="-17.1" cy="-24" r="1.8"/><circle cx="-14.4" cy="-14.3" r="1.9"/><circle cx="-18.7" cy="-18.8" r="2.4"/><circle cx="-10.1" cy="-14.3" r="1.9"/><circle cx="-11" cy="-14.3" r="2.2"/><circle cx="-10.5" cy="-12.7" r="2.3"/><circle cx="-5.9" cy="-12.8" r="2.9"/><circle cx="0.9" cy="-11.9" r="2.1"/><circle cx="-1.6" cy="-12.6" r="2.2"/></g><g filter="url(#b15)" fill="#2cc48c" opacity="0.5"><circle cx="6.2" cy="-80.1" r="2"/><circle cx="8.8" cy="-76.4" r="2.6"/><circle cx="8.6" cy="-71.2" r="2.4"/><circle cx="14.1" cy="-70.4" r="1.5"/><circle cx="13.2" cy="-66.3" r="2.2"/><circle cx="9.1" cy="-66.6" r="2.3"/><circle cx="9" cy="-66.7" r="1.6"/><circle cx="9" cy="-60.1" r="1.7"/><circle cx="11.5" cy="-60" r="2.5"/><circle cx="14.6" cy="-54.9" r="1.8"/><circle cx="14.8" cy="-49.9" r="1.4"/><circle cx="19.5" cy="-52.2" r="2.9"/><circle cx="20.8" cy="-52.5" r="3"/><circle cx="23.4" cy="-53.9" r="2.4"/><circle cx="25" cy="-48.9" r="2.4"/><circle cx="25.1" cy="-47" r="2.7"/><circle cx="26.2" cy="-46.3" r="2.8"/><circle cx="24.5" cy="-42.9" r="2.6"/><circle cx="25.4" cy="-38.3" r="1.7"/><circle cx="26.2" cy="-36.5" r="2.6"/><circle cx="19" cy="-31.7" r="2.4"/><circle cx="20.5" cy="-29.1" r="1.6"/><circle cx="20.6" cy="-26.2" r="2.8"/><circle cx="21.4" cy="-24.2" r="1.7"/><circle cx="22.2" cy="-21.8" r="1.5"/><circle cx="23.1" cy="-21.5" r="2.5"/><circle cx="20.4" cy="-18" r="2.5"/><circle cx="15.2" cy="-19.9" r="1.7"/><circle cx="15.5" cy="-15.1" r="1.5"/><circle cx="13.8" cy="-14.9" r="1.9"/><circle cx="9.6" cy="-10.5" r="2.5"/><circle cx="9.3" cy="-8.6" r="2.9"/><circle cx="2.8" cy="-7.9" r="1.4"/><circle cx="6" cy="-11.4" r="1.5"/><circle cx="6.5" cy="-8.7" r="2"/><circle cx="6.8" cy="-5.7" r="2.2"/><circle cx="2.7" cy="-3.7" r="2"/><circle cx="3.8" cy="-0.3" r="1.9"/><circle cx="8.7" cy="1.4" r="1.7"/><circle cx="3.6" cy="3.6" r="1.5"/><circle cx="8.1" cy="6.8" r="2.9"/><circle cx="8.8" cy="7.2" r="1.4"/><circle cx="6.9" cy="11.5" r="2"/><circle cx="8.4" cy="10.7" r="1.9"/><circle cx="11.3" cy="15.3" r="1.6"/><circle cx="14.5" cy="20.3" r="2.7"/><circle cx="14.1" cy="21.2" r="1.8"/><circle cx="13.9" cy="22.6" r="1.8"/><circle cx="18.5" cy="22.6" r="1.7"/><circle cx="20" cy="26.1" r="2.1"/><circle cx="23.5" cy="24.1" r="2.8"/><circle cx="26.6" cy="24.6" r="2.1"/><circle cx="31.3" cy="31.1" r="2.5"/><circle cx="29.6" cy="33.1" r="1.6"/><circle cx="21.5" cy="-21.6" r="1.9"/><circle cx="23.2" cy="-24.1" r="2.6"/><circle cx="27.9" cy="-21.2" r="2.5"/><circle cx="33.9" cy="-19.9" r="1.6"/><circle cx="35.2" cy="-18" r="2.1"/><circle cx="35.5" cy="-23.3" r="2.3"/><circle cx="40.7" cy="-21.2" r="2.1"/><circle cx="41.1" cy="-24.1" r="2.3"/><circle cx="43.7" cy="-27" r="1.7"/><circle cx="45.4" cy="-24.2" r="2"/><circle cx="47" cy="-25.9" r="1.8"/><circle cx="52.1" cy="-22.6" r="2.7"/><circle cx="55.7" cy="-22" r="1.6"/><circle cx="55.7" cy="-20.2" r="2.7"/><circle cx="54.7" cy="-20.4" r="2.4"/><circle cx="15.7" cy="-53.6" r="2"/><circle cx="15.8" cy="-56.2" r="3"/><circle cx="21.9" cy="-57.7" r="2.7"/><circle cx="20.2" cy="-59.8" r="2.2"/><circle cx="22.6" cy="-60.5" r="2"/><circle cx="22.5" cy="-66.4" r="1.9"/><circle cx="23.9" cy="-69.1" r="2.6"/><circle cx="29" cy="-71.8" r="2.5"/><circle cx="7.2" cy="17.7" r="2"/><circle cx="2.5" cy="16.6" r="2.9"/><circle cx="2.7" cy="23.5" r="2.5"/><circle cx="1.6" cy="24.3" r="2.8"/><circle cx="1.4" cy="31.1" r="2.4"/><circle cx="3.2" cy="34.1" r="1.8"/><circle cx="22.7" cy="-42.3" r="1.9"/><circle cx="25.8" cy="-45.3" r="1.7"/><circle cx="33.7" cy="-42.8" r="2.4"/><circle cx="35.8" cy="-41.2" r="2.4"/><circle cx="37.9" cy="-44.6" r="2.2"/><circle cx="45.5" cy="-52.1" r="2.9"/><circle cx="-25.7" cy="-12.1" r="2.4"/><circle cx="-30.2" cy="-4.9" r="1.7"/><circle cx="-34.2" cy="-2.3" r="2.6"/><circle cx="-35.1" cy="0.1" r="2"/><circle cx="-32.6" cy="-0.6" r="2.5"/><circle cx="-25.9" cy="1.7" r="1.5"/><circle cx="-28.1" cy="2.4" r="1.6"/><circle cx="-28" cy="8.1" r="2.9"/><circle cx="-25.6" cy="8.7" r="2.5"/><circle cx="-25.1" cy="6.6" r="1.9"/><circle cx="-19.1" cy="8.2" r="1.8"/><circle cx="-20.4" cy="10.8" r="1.6"/><circle cx="-19.5" cy="12.6" r="2"/><circle cx="-24.7" cy="20.7" r="1.4"/><circle cx="-23.3" cy="19.3" r="1.8"/><circle cx="-24.7" cy="21.5" r="1.5"/><circle cx="-22" cy="20.4" r="2.2"/><circle cx="-25.9" cy="3.9" r="2.3"/><circle cx="-21.1" cy="1" r="1.4"/><circle cx="-20.5" cy="3" r="2.7"/><circle cx="-9.7" cy="-2.2" r="2.8"/><circle cx="-11.2" cy="-6.2" r="3"/><circle cx="-23.4" cy="23.3" r="1.5"/><circle cx="-21.8" cy="22.8" r="1.7"/><circle cx="-24" cy="24.2" r="2.4"/><circle cx="-27.7" cy="35.2" r="2.9"/><circle cx="-29.2" cy="35.7" r="1.8"/><circle cx="-30.6" cy="39.5" r="1.6"/><circle cx="-24.9" cy="40.5" r="1.5"/><circle cx="-28.3" cy="43.2" r="2"/><circle cx="-50.9" cy="-23.3" r="2.2"/><circle cx="-49.1" cy="-20.6" r="2.1"/><circle cx="-56" cy="-21.2" r="1.5"/><circle cx="-52.2" cy="-16.7" r="2"/><circle cx="-54.9" cy="-13.2" r="2.4"/><circle cx="-58.4" cy="-11.8" r="2.9"/><circle cx="-58.5" cy="-3.1" r="1.5"/><circle cx="-63.3" cy="-7.4" r="2"/><circle cx="-9.5" cy="-70.1" r="1.5"/><circle cx="-12" cy="-69.2" r="2.9"/><circle cx="-13.4" cy="-65" r="2.6"/><circle cx="-12.2" cy="-68" r="2"/><circle cx="-14" cy="-62" r="2.8"/><circle cx="-14.2" cy="-61.9" r="1.6"/><circle cx="-16.4" cy="-61.4" r="1.4"/><circle cx="-17.2" cy="-59.4" r="2.8"/><circle cx="-20.8" cy="-56.5" r="2.6"/><circle cx="-19.9" cy="-55.1" r="2.9"/><circle cx="-15.3" cy="-51.5" r="1.5"/><circle cx="-19.5" cy="-50.1" r="2.8"/><circle cx="-13.9" cy="-47.8" r="2.7"/><circle cx="-15.1" cy="-48.6" r="1.9"/><circle cx="-14" cy="-47.6" r="2.8"/><circle cx="-12.3" cy="-42.7" r="1.8"/><circle cx="-46.7" cy="-56.9" r="1.6"/><circle cx="-45.5" cy="-55.9" r="2.3"/><circle cx="-43.4" cy="-47.9" r="2.3"/><circle cx="-42" cy="-48" r="2.7"/><circle cx="-36.5" cy="-42.7" r="2"/><circle cx="-37.8" cy="-40.1" r="2.9"/><circle cx="-37.6" cy="-36.6" r="1.6"/><circle cx="-38.5" cy="-33.9" r="1.5"/><circle cx="32.9" cy="-60.1" r="1.5"/><circle cx="38.1" cy="-55.7" r="2.7"/><circle cx="38.8" cy="-53.8" r="1.8"/><circle cx="36.9" cy="-53.3" r="1.6"/><circle cx="44.1" cy="-53.1" r="2.1"/><circle cx="42.2" cy="-50.7" r="2.3"/><circle cx="45.8" cy="-48.1" r="2.1"/><circle cx="40.4" cy="-47.5" r="2.1"/><circle cx="40.1" cy="-43.7" r="2"/><circle cx="44.2" cy="-41.6" r="2.7"/><circle cx="42.1" cy="-37.8" r="2.9"/><circle cx="36.2" cy="-34.6" r="2.3"/><circle cx="42" cy="-31.3" r="1.8"/><circle cx="44.3" cy="-33.9" r="1.6"/><circle cx="46.1" cy="-32.9" r="1.6"/><circle cx="32.7" cy="1.6" r="2.3"/><circle cx="34.4" cy="6.3" r="2.6"/><circle cx="38.8" cy="4.4" r="2.3"/><circle cx="38.3" cy="8.3" r="2.9"/><circle cx="41.6" cy="12.7" r="1.6"/><circle cx="40.6" cy="13.5" r="1.6"/><circle cx="46.3" cy="9.6" r="1.4"/><circle cx="49.6" cy="14" r="2.1"/><circle cx="47.7" cy="22.5" r="2.2"/><circle cx="-4.5" cy="26.6" r="1.5"/><circle cx="-7.3" cy="31.7" r="1.7"/><circle cx="-8.2" cy="34.8" r="2"/><circle cx="-9.5" cy="40.6" r="1.4"/><circle cx="-12.5" cy="39.8" r="2.2"/><circle cx="-12" cy="45.9" r="2"/><circle cx="-11.9" cy="43.1" r="2.5"/><circle cx="-10.7" cy="51.8" r="1.6"/><circle cx="-5.9" cy="52" r="1.6"/><circle cx="-9" cy="55.5" r="2.2"/><circle cx="55.7" cy="-15.2" r="2.4"/><circle cx="60.8" cy="-13.2" r="1.7"/><circle cx="56.6" cy="-6.6" r="2"/><circle cx="58.1" cy="-5.2" r="2.1"/><circle cx="58.9" cy="-5.1" r="1.7"/><circle cx="61.3" cy="4.8" r="2.1"/><circle cx="64" cy="5.3" r="2.6"/><circle cx="63.6" cy="4.9" r="2.6"/><circle cx="59.9" cy="14.4" r="2.5"/><circle cx="58.3" cy="16.5" r="1.9"/><circle cx="57.4" cy="15.3" r="1.7"/><circle cx="-60.1" cy="10.2" r="1.6"/><circle cx="-56.7" cy="11.9" r="2.3"/><circle cx="-47.3" cy="17.7" r="1.6"/><circle cx="-45.7" cy="22.6" r="2.6"/><circle cx="-46.8" cy="23.5" r="2.9"/><circle cx="-46.5" cy="28.3" r="2.1"/></g><g filter="url(#b07)" fill="#52e434" opacity="0.95"><circle cx="5" cy="-80.2" r="1.9"/><circle cx="5.7" cy="-79.9" r="1.9"/><circle cx="6.9" cy="-76.6" r="1.1"/><circle cx="8.5" cy="-74.2" r="1.9"/><circle cx="8.8" cy="-73.4" r="1.6"/><circle cx="10.7" cy="-72.4" r="1.3"/><circle cx="11.6" cy="-68.7" r="1.5"/><circle cx="9.7" cy="-68.2" r="0.8"/><circle cx="10.3" cy="-69.6" r="0.8"/><circle cx="9.4" cy="-66.4" r="1.6"/><circle cx="8.4" cy="-64.3" r="1.2"/><circle cx="7.9" cy="-63.4" r="1.9"/><circle cx="11.1" cy="-62.6" r="1.4"/><circle cx="11.3" cy="-61.2" r="1.9"/><circle cx="13" cy="-62" r="2"/><circle cx="15.4" cy="-61" r="0.9"/><circle cx="14" cy="-58.1" r="1.1"/><circle cx="12.2" cy="-54.2" r="1.3"/><circle cx="13.4" cy="-54.6" r="1.6"/><circle cx="16.4" cy="-53.5" r="1.8"/><circle cx="18.7" cy="-52.9" r="1.5"/><circle cx="22.1" cy="-53.9" r="1.1"/><circle cx="22.5" cy="-53.4" r="2"/><circle cx="22.2" cy="-51.5" r="1.4"/><circle cx="23.5" cy="-47" r="1.8"/><circle cx="23.1" cy="-48.4" r="0.9"/><circle cx="24.5" cy="-47" r="1"/><circle cx="27.2" cy="-43.7" r="1.7"/><circle cx="26.5" cy="-41" r="1.1"/><circle cx="27" cy="-38.5" r="1.4"/><circle cx="25.4" cy="-36.3" r="1.9"/><circle cx="25.5" cy="-38.6" r="1.5"/><circle cx="24.9" cy="-35.1" r="0.8"/><circle cx="24.1" cy="-33.2" r="0.8"/><circle cx="21.8" cy="-30.1" r="1.4"/><circle cx="20.6" cy="-29.8" r="1.2"/><circle cx="20.4" cy="-29" r="1.8"/><circle cx="22.1" cy="-25.7" r="1.5"/><circle cx="23.8" cy="-24.1" r="1"/><circle cx="22.3" cy="-23.4" r="1.1"/><circle cx="22.8" cy="-18.9" r="0.9"/><circle cx="21" cy="-21.4" r="1.4"/><circle cx="19.1" cy="-18.4" r="1"/><circle cx="17.6" cy="-17.4" r="1.7"/><circle cx="15.6" cy="-16.4" r="1.9"/><circle cx="14.2" cy="-16.4" r="1.6"/><circle cx="14" cy="-14.2" r="1.5"/><circle cx="13.3" cy="-12.8" r="1.5"/><circle cx="12.3" cy="-11.6" r="0.7"/><circle cx="8.6" cy="-11.4" r="1.1"/><circle cx="5.4" cy="-8.7" r="0.8"/><circle cx="5.5" cy="-10.3" r="0.7"/><circle cx="4" cy="-6.3" r="1.3"/><circle cx="2.2" cy="-7.1" r="0.9"/><circle cx="1.7" cy="-7.6" r="1.5"/><circle cx="5.2" cy="-5.3" r="0.8"/><circle cx="4.3" cy="-3.3" r="1.7"/><circle cx="4.4" cy="-1.1" r="1.6"/><circle cx="4.8" cy="2.5" r="1"/><circle cx="4.7" cy="5.4" r="1.8"/><circle cx="4.4" cy="7.2" r="1.7"/><circle cx="4" cy="9.2" r="1.3"/><circle cx="8" cy="10" r="1.7"/><circle cx="8.8" cy="11.6" r="1.5"/><circle cx="9.4" cy="14.2" r="1.4"/><circle cx="10.5" cy="13.4" r="1.8"/><circle cx="12.6" cy="20.6" r="2"/><circle cx="15.1" cy="23.1" r="1.4"/><circle cx="15.9" cy="21" r="1.7"/><circle cx="18.6" cy="23.6" r="1.5"/><circle cx="22.4" cy="23.4" r="1.4"/><circle cx="23.8" cy="26.3" r="1.1"/><circle cx="24.7" cy="23.9" r="1.6"/><circle cx="26.4" cy="25.1" r="1.2"/><circle cx="26.5" cy="26.9" r="0.9"/><circle cx="26" cy="31.2" r="2"/><circle cx="26.2" cy="33.2" r="1.6"/><circle cx="28.6" cy="35.5" r="1.1"/><circle cx="22.9" cy="-24.1" r="0.7"/><circle cx="22.3" cy="-21.4" r="2"/><circle cx="27.2" cy="-21.6" r="1.1"/><circle cx="26.3" cy="-20.6" r="1.3"/><circle cx="29.9" cy="-21.2" r="1.1"/><circle cx="29.8" cy="-18.6" r="0.8"/><circle cx="32.1" cy="-18.4" r="1.4"/><circle cx="31.5" cy="-18.8" r="1.2"/><circle cx="34" cy="-16.9" r="1.3"/><circle cx="35" cy="-19.5" r="1"/><circle cx="37" cy="-19.8" r="1.9"/><circle cx="40.1" cy="-21.3" r="1.9"/><circle cx="40.2" cy="-22.5" r="0.8"/><circle cx="48.1" cy="-26.3" r="1.9"/><circle cx="49.6" cy="-26.9" r="0.8"/><circle cx="51.3" cy="-25.4" r="2"/><circle cx="53.9" cy="-24.6" r="2"/><circle cx="55.7" cy="-20.2" r="2.1"/><circle cx="56.3" cy="-17.8" r="2"/><circle cx="55.4" cy="-15.1" r="1.6"/><circle cx="56.4" cy="-12.7" r="1.2"/><circle cx="16.3" cy="-57.1" r="0.7"/><circle cx="21.2" cy="-54.4" r="1.8"/><circle cx="21.4" cy="-55.5" r="1.3"/><circle cx="23" cy="-56.9" r="0.8"/><circle cx="22.4" cy="-62.1" r="1.8"/><circle cx="24.5" cy="-62.3" r="2"/><circle cx="23.3" cy="-65.6" r="1.6"/><circle cx="24.3" cy="-66.6" r="1.6"/><circle cx="23.7" cy="-68.8" r="1.4"/><circle cx="27.3" cy="-74.3" r="1.6"/><circle cx="27.9" cy="-75" r="1"/><circle cx="10.5" cy="14.8" r="1.2"/><circle cx="7.7" cy="14.4" r="1.7"/><circle cx="8.9" cy="18" r="1.5"/><circle cx="6.6" cy="21.3" r="1.6"/><circle cx="7" cy="21.9" r="1.1"/><circle cx="4.6" cy="20.9" r="1.1"/><circle cx="5" cy="22.8" r="1.4"/><circle cx="2.4" cy="23.9" r="0.8"/><circle cx="0.8" cy="25.3" r="2.1"/><circle cx="4.8" cy="25.2" r="1.4"/><circle cx="3.2" cy="29.3" r="1.8"/><circle cx="6.6" cy="32.6" r="1.4"/><circle cx="4.3" cy="32.2" r="1.5"/><circle cx="7" cy="35.6" r="1.2"/><circle cx="7" cy="34.7" r="1.8"/><circle cx="7.3" cy="39.4" r="1"/><circle cx="27.2" cy="-41.7" r="1.7"/><circle cx="27.2" cy="-42.4" r="1"/><circle cx="27.7" cy="-43.7" r="1.5"/><circle cx="30.1" cy="-43.4" r="1.3"/><circle cx="32" cy="-43.1" r="0.8"/><circle cx="32.7" cy="-41.9" r="1.6"/><circle cx="35.3" cy="-44.8" r="1.2"/><circle cx="36" cy="-44.9" r="1.9"/><circle cx="36.1" cy="-44.4" r="1.9"/><circle cx="39.6" cy="-46" r="2"/><circle cx="39.6" cy="-46.8" r="2.1"/><circle cx="41" cy="-46.2" r="1.7"/><circle cx="42.8" cy="-48" r="1"/><circle cx="44.7" cy="-50.3" r="1"/><circle cx="46" cy="-50.8" r="2"/></g><g filter="url(#b07)" fill="#3cd080" opacity="0.7"><circle cx="-29.8" cy="-8.7" r="0.7"/><circle cx="-31.7" cy="-9" r="1.2"/><circle cx="-32.2" cy="-7.4" r="1.2"/><circle cx="-32.2" cy="-4" r="0.7"/><circle cx="-28.9" cy="1.8" r="1.5"/><circle cx="-24.8" cy="7" r="1.3"/><circle cx="-25" cy="7.2" r="1.5"/><circle cx="-22.6" cy="9.4" r="1.6"/><circle cx="-21.4" cy="8.4" r="1"/><circle cx="-21.3" cy="6.8" r="1.2"/><circle cx="-21" cy="11.7" r="1"/><circle cx="-22.1" cy="15" r="0.9"/><circle cx="-23.9" cy="20.9" r="1"/><circle cx="-23.4" cy="21.7" r="0.8"/><circle cx="-25.9" cy="6.2" r="1"/><circle cx="-24.6" cy="3.1" r="1.4"/><circle cx="-18.9" cy="-0.2" r="1.5"/><circle cx="-16.1" cy="0.8" r="1.5"/><circle cx="-14.8" cy="-0.2" r="1.4"/><circle cx="-11.4" cy="-3.3" r="1"/><circle cx="-11.6" cy="-3.2" r="1"/><circle cx="-8.7" cy="-6.3" r="1.5"/><circle cx="-27" cy="21.7" r="1.2"/><circle cx="-27.6" cy="25.5" r="1.1"/><circle cx="-29.7" cy="38.2" r="1.4"/><circle cx="-29.7" cy="40" r="0.9"/><circle cx="-27.7" cy="42.7" r="0.8"/><circle cx="-28.9" cy="42.7" r="1.4"/><circle cx="-26.8" cy="43.7" r="1.3"/><circle cx="-28" cy="46.9" r="1"/><circle cx="-50.6" cy="-23.1" r="0.8"/><circle cx="-53.6" cy="-20.7" r="1.5"/><circle cx="-54.3" cy="-18.7" r="1.1"/><circle cx="-55.5" cy="-17.7" r="1.3"/><circle cx="-58.5" cy="-11.2" r="1.2"/><circle cx="-59" cy="-10.4" r="0.8"/><circle cx="-57.2" cy="-9.4" r="0.9"/><circle cx="-61" cy="-6.8" r="0.9"/><circle cx="-64.2" cy="-3.9" r="1.5"/><circle cx="-66.6" cy="-3.3" r="1.3"/><circle cx="-10.8" cy="-71.8" r="0.8"/><circle cx="-11.9" cy="-66.7" r="1"/><circle cx="-12.8" cy="-68.7" r="0.8"/><circle cx="-13.4" cy="-61" r="1.5"/><circle cx="-15.2" cy="-58" r="1.3"/><circle cx="-15.1" cy="-55.7" r="1.5"/><circle cx="-18.4" cy="-55.3" r="1.6"/><circle cx="-18" cy="-52.9" r="1.1"/><circle cx="-13.2" cy="-47.5" r="1.3"/><circle cx="-11.5" cy="-45" r="1"/><circle cx="-12.2" cy="-42.2" r="1.4"/><circle cx="-44.1" cy="-56.5" r="0.7"/><circle cx="-44.6" cy="-55" r="1.5"/><circle cx="-43.8" cy="-51" r="1.1"/><circle cx="-41" cy="-49.5" r="1.5"/><circle cx="-40.1" cy="-47.9" r="0.8"/><circle cx="-37" cy="-41.4" r="1.1"/><circle cx="-35" cy="-42.1" r="1.1"/><circle cx="-37.6" cy="-37.3" r="1.6"/><circle cx="-38.9" cy="-33.7" r="1.2"/><circle cx="-39.9" cy="-34.6" r="1.4"/><circle cx="-39.6" cy="-32.8" r="0.8"/><circle cx="-39.4" cy="-28.9" r="1.6"/><circle cx="36.4" cy="-61.6" r="1.2"/><circle cx="39.2" cy="-61.2" r="1.3"/><circle cx="37.7" cy="-58.6" r="1.5"/><circle cx="38.6" cy="-57.6" r="1.3"/><circle cx="42.9" cy="-51.5" r="1.6"/><circle cx="43.4" cy="-49.5" r="1"/><circle cx="45.2" cy="-45.9" r="0.9"/><circle cx="42.5" cy="-41.6" r="1"/><circle cx="44.3" cy="-37.6" r="1.3"/><circle cx="40.6" cy="-34.2" r="1.1"/><circle cx="46.8" cy="-30.3" r="0.7"/><circle cx="30.6" cy="-0" r="1.5"/><circle cx="34.6" cy="4.7" r="0.8"/><circle cx="37.8" cy="4.5" r="1.1"/><circle cx="40.7" cy="9.3" r="1.2"/><circle cx="43.7" cy="12.6" r="0.8"/><circle cx="45.8" cy="15.2" r="0.6"/><circle cx="47.7" cy="17.1" r="1.1"/><circle cx="46.7" cy="17.4" r="1.1"/><circle cx="-4.2" cy="32.6" r="0.8"/><circle cx="-8.6" cy="34.9" r="1.2"/><circle cx="-11.6" cy="38.3" r="1.3"/><circle cx="-12.1" cy="45" r="0.9"/><circle cx="-10.7" cy="46.9" r="1.6"/><circle cx="-11.7" cy="47.7" r="1.5"/><circle cx="-10.9" cy="50.7" r="1.6"/><circle cx="-7.8" cy="52.2" r="0.9"/><circle cx="-7.6" cy="56.9" r="1.2"/><circle cx="-3.9" cy="57.4" r="1.6"/><circle cx="56.3" cy="-11.4" r="1"/><circle cx="56.9" cy="-8.7" r="0.7"/><circle cx="56.8" cy="-7.3" r="1.5"/><circle cx="58" cy="-4.3" r="1.1"/><circle cx="57.7" cy="-3" r="0.9"/><circle cx="59.2" cy="4.2" r="0.9"/><circle cx="62" cy="7.2" r="0.9"/><circle cx="63.1" cy="6.3" r="0.8"/><circle cx="60.8" cy="10" r="1.2"/><circle cx="59" cy="12.7" r="1.1"/><circle cx="60" cy="13.9" r="0.8"/><circle cx="59.6" cy="16.6" r="1"/><circle cx="-60.3" cy="11.6" r="1"/><circle cx="-57.4" cy="11.4" r="1.1"/><circle cx="-54.9" cy="13" r="1.1"/><circle cx="-47" cy="20.2" r="1.4"/><circle cx="-47" cy="22" r="1.5"/><circle cx="-45.9" cy="24.6" r="1.3"/><circle cx="-46.6" cy="24.2" r="1.2"/><circle cx="-44.3" cy="24.6" r="1.5"/><circle cx="-43.3" cy="28.7" r="0.6"/><circle cx="-46.1" cy="30.4" r="1.4"/></g><circle cx="0" cy="0" r="91.3" fill="url(#sd)"/></g></g></g>
<polygon points="20,722.2 73.7,707.4 192.8,733.8 192.8,750.6 63.2,751.7 20,738" fill="url(#pf1)"/>
<polygon points="20,722.2 73.7,707.4 192.8,733.8 65.2,734.4" fill="url(#pt1)"/>
<polygon points="395.1,671.2 520.5,671.2 583.8,686.2 522.6,703.8 524.5,1061.5 398.8,1030.8" fill="#f0a30a"/>
<polygon points="395.1,671.2 520.5,671.2 583.8,686.2 521.6,701.8 395.1,675.7" fill="#eb9f08"/>
<polygon points="395.1,675.4 521.6,701.8 524.5,1061.5 398.8,1030.8" fill="#f5a60a"/>
<polygon points="395.9,748.4 515.5,748.4 517.5,986.4 398.3,986.4" fill="#c98c14"/>
<polygon points="521.6,701.8 583.8,686.2 586.4,1045.2 524.5,1061.5" fill="url(#dk2)"/>
<polygon points="344.3,996 398.5,980.4 517,978.8 517,1024 399.6,1025.2 344.3,1011.7" fill="#0a0ae6"/>
<polygon points="400.6,1008.5 517,1006.3 517,1024 399.6,1025.2" fill="#1414cc"/>
<polygon points="344.3,996 400.6,1008.5 399.6,1025.2 344.3,1011.7" fill="#0c0cdc"/>
<g clip-path="url(#sc2)"><g clip-path="url(#scc2)"><g transform="translate(452.6 866.7)"><circle cx="0" cy="0" r="91.3" fill="url(#sg)"/><circle cx="0" cy="0" r="90.3" fill="url(#sv)" filter="url(#haze)"/><g filter="url(#b15)" fill="#50b0ee" opacity="0.7"><circle cx="-71.9" cy="-4.6" r="1.8"/><circle cx="-66.5" cy="-5.1" r="1.6"/><circle cx="-67.6" cy="-11.7" r="2.8"/><circle cx="-63.3" cy="-6.8" r="2.8"/><circle cx="-60" cy="-15" r="2.5"/><circle cx="-57.5" cy="-16.5" r="2.9"/><circle cx="-57.9" cy="-15.4" r="1.6"/><circle cx="-55.9" cy="-14.3" r="1.4"/><circle cx="-53.9" cy="-16.6" r="2.7"/><circle cx="-52.9" cy="-17.8" r="2.5"/><circle cx="-50.3" cy="-22.4" r="2.6"/><circle cx="-43.8" cy="-22.7" r="2"/><circle cx="-44.8" cy="-24.7" r="1.7"/><circle cx="-41.8" cy="-34.8" r="2.9"/><circle cx="-40.4" cy="-25.9" r="2.6"/><circle cx="-36.5" cy="-29.7" r="2.8"/><circle cx="-32.1" cy="-26" r="1.9"/><circle cx="-27.8" cy="-26.9" r="2.9"/><circle cx="-28.2" cy="-23" r="1.7"/><circle cx="-23.5" cy="-20.3" r="3"/><circle cx="-16.6" cy="-20.6" r="2.3"/><circle cx="-25.5" cy="-39.2" r="2.6"/><circle cx="-20.8" cy="-42.3" r="2.1"/><circle cx="-17.3" cy="-44" r="2.1"/><circle cx="-8.9" cy="-46.4" r="2.2"/><circle cx="-2.7" cy="-44.3" r="2"/><circle cx="3.7" cy="-42" r="1.5"/><circle cx="-44.1" cy="-32.8" r="2"/><circle cx="-41.3" cy="-23.4" r="2.6"/><circle cx="-39.5" cy="-18.6" r="2.4"/><circle cx="-33.6" cy="-21" r="1.8"/><circle cx="-40.3" cy="-17" r="2.4"/><circle cx="-37.4" cy="-12.6" r="2.6"/><circle cx="-36.5" cy="-9.6" r="2.8"/><circle cx="-26.1" cy="-12.1" r="2.2"/><circle cx="-63.1" cy="-41.7" r="2.1"/><circle cx="-57" cy="-43.9" r="2.6"/><circle cx="-53.7" cy="-38.8" r="2.4"/><circle cx="-54.8" cy="-46" r="1.5"/><circle cx="-51.8" cy="-44" r="1.6"/><circle cx="-49.3" cy="-44.7" r="1.5"/><circle cx="-50.4" cy="-45.2" r="2.3"/><circle cx="-45.9" cy="-48.8" r="2"/><circle cx="-45" cy="-49.4" r="2.7"/><circle cx="-39.1" cy="-50.5" r="1.6"/><circle cx="-42.3" cy="-49.8" r="2.9"/><circle cx="-43.2" cy="-52" r="2.4"/><circle cx="-36" cy="-53.4" r="2.3"/><circle cx="-34.9" cy="-53" r="1.4"/><circle cx="-33" cy="-59.3" r="1.6"/><circle cx="-25.8" cy="-58.9" r="2.1"/><circle cx="-26.9" cy="-50.7" r="2"/><circle cx="-19.1" cy="-52.5" r="2.2"/><circle cx="-19.7" cy="-54.6" r="2.2"/><circle cx="-15.6" cy="-61.3" r="2.4"/><circle cx="-17.1" cy="-24" r="1.8"/><circle cx="-14.4" cy="-14.3" r="1.9"/><circle cx="-18.7" cy="-18.8" r="2.4"/><circle cx="-10.1" cy="-14.3" r="1.9"/><circle cx="-11" cy="-14.3" r="2.2"/><circle cx="-10.5" cy="-12.7" r="2.3"/><circle cx="-5.9" cy="-12.8" r="2.9"/><circle cx="0.9" cy="-11.9" r="2.1"/><circle cx="-1.6" cy="-12.6" r="2.2"/></g><g filter="url(#b15)" fill="#2cc48c" opacity="0.5"><circle cx="6.2" cy="-80.1" r="2"/><circle cx="8.8" cy="-76.4" r="2.6"/><circle cx="8.6" cy="-71.2" r="2.4"/><circle cx="14.1" cy="-70.4" r="1.5"/><circle cx="13.2" cy="-66.3" r="2.2"/><circle cx="9.1" cy="-66.6" r="2.3"/><circle cx="9" cy="-66.7" r="1.6"/><circle cx="9" cy="-60.1" r="1.7"/><circle cx="11.5" cy="-60" r="2.5"/><circle cx="14.6" cy="-54.9" r="1.8"/><circle cx="14.8" cy="-49.9" r="1.4"/><circle cx="19.5" cy="-52.2" r="2.9"/><circle cx="20.8" cy="-52.5" r="3"/><circle cx="23.4" cy="-53.9" r="2.4"/><circle cx="25" cy="-48.9" r="2.4"/><circle cx="25.1" cy="-47" r="2.7"/><circle cx="26.2" cy="-46.3" r="2.8"/><circle cx="24.5" cy="-42.9" r="2.6"/><circle cx="25.4" cy="-38.3" r="1.7"/><circle cx="26.2" cy="-36.5" r="2.6"/><circle cx="19" cy="-31.7" r="2.4"/><circle cx="20.5" cy="-29.1" r="1.6"/><circle cx="20.6" cy="-26.2" r="2.8"/><circle cx="21.4" cy="-24.2" r="1.7"/><circle cx="22.2" cy="-21.8" r="1.5"/><circle cx="23.1" cy="-21.5" r="2.5"/><circle cx="20.4" cy="-18" r="2.5"/><circle cx="15.2" cy="-19.9" r="1.7"/><circle cx="15.5" cy="-15.1" r="1.5"/><circle cx="13.8" cy="-14.9" r="1.9"/><circle cx="9.6" cy="-10.5" r="2.5"/><circle cx="9.3" cy="-8.6" r="2.9"/><circle cx="2.8" cy="-7.9" r="1.4"/><circle cx="6" cy="-11.4" r="1.5"/><circle cx="6.5" cy="-8.7" r="2"/><circle cx="6.8" cy="-5.7" r="2.2"/><circle cx="2.7" cy="-3.7" r="2"/><circle cx="3.8" cy="-0.3" r="1.9"/><circle cx="8.7" cy="1.4" r="1.7"/><circle cx="3.6" cy="3.6" r="1.5"/><circle cx="8.1" cy="6.8" r="2.9"/><circle cx="8.8" cy="7.2" r="1.4"/><circle cx="6.9" cy="11.5" r="2"/><circle cx="8.4" cy="10.7" r="1.9"/><circle cx="11.3" cy="15.3" r="1.6"/><circle cx="14.5" cy="20.3" r="2.7"/><circle cx="14.1" cy="21.2" r="1.8"/><circle cx="13.9" cy="22.6" r="1.8"/><circle cx="18.5" cy="22.6" r="1.7"/><circle cx="20" cy="26.1" r="2.1"/><circle cx="23.5" cy="24.1" r="2.8"/><circle cx="26.6" cy="24.6" r="2.1"/><circle cx="31.3" cy="31.1" r="2.5"/><circle cx="29.6" cy="33.1" r="1.6"/><circle cx="21.5" cy="-21.6" r="1.9"/><circle cx="23.2" cy="-24.1" r="2.6"/><circle cx="27.9" cy="-21.2" r="2.5"/><circle cx="33.9" cy="-19.9" r="1.6"/><circle cx="35.2" cy="-18" r="2.1"/><circle cx="35.5" cy="-23.3" r="2.3"/><circle cx="40.7" cy="-21.2" r="2.1"/><circle cx="41.1" cy="-24.1" r="2.3"/><circle cx="43.7" cy="-27" r="1.7"/><circle cx="45.4" cy="-24.2" r="2"/><circle cx="47" cy="-25.9" r="1.8"/><circle cx="52.1" cy="-22.6" r="2.7"/><circle cx="55.7" cy="-22" r="1.6"/><circle cx="55.7" cy="-20.2" r="2.7"/><circle cx="54.7" cy="-20.4" r="2.4"/><circle cx="15.7" cy="-53.6" r="2"/><circle cx="15.8" cy="-56.2" r="3"/><circle cx="21.9" cy="-57.7" r="2.7"/><circle cx="20.2" cy="-59.8" r="2.2"/><circle cx="22.6" cy="-60.5" r="2"/><circle cx="22.5" cy="-66.4" r="1.9"/><circle cx="23.9" cy="-69.1" r="2.6"/><circle cx="29" cy="-71.8" r="2.5"/><circle cx="7.2" cy="17.7" r="2"/><circle cx="2.5" cy="16.6" r="2.9"/><circle cx="2.7" cy="23.5" r="2.5"/><circle cx="1.6" cy="24.3" r="2.8"/><circle cx="1.4" cy="31.1" r="2.4"/><circle cx="3.2" cy="34.1" r="1.8"/><circle cx="22.7" cy="-42.3" r="1.9"/><circle cx="25.8" cy="-45.3" r="1.7"/><circle cx="33.7" cy="-42.8" r="2.4"/><circle cx="35.8" cy="-41.2" r="2.4"/><circle cx="37.9" cy="-44.6" r="2.2"/><circle cx="45.5" cy="-52.1" r="2.9"/><circle cx="-25.7" cy="-12.1" r="2.4"/><circle cx="-30.2" cy="-4.9" r="1.7"/><circle cx="-34.2" cy="-2.3" r="2.6"/><circle cx="-35.1" cy="0.1" r="2"/><circle cx="-32.6" cy="-0.6" r="2.5"/><circle cx="-25.9" cy="1.7" r="1.5"/><circle cx="-28.1" cy="2.4" r="1.6"/><circle cx="-28" cy="8.1" r="2.9"/><circle cx="-25.6" cy="8.7" r="2.5"/><circle cx="-25.1" cy="6.6" r="1.9"/><circle cx="-19.1" cy="8.2" r="1.8"/><circle cx="-20.4" cy="10.8" r="1.6"/><circle cx="-19.5" cy="12.6" r="2"/><circle cx="-24.7" cy="20.7" r="1.4"/><circle cx="-23.3" cy="19.3" r="1.8"/><circle cx="-24.7" cy="21.5" r="1.5"/><circle cx="-22" cy="20.4" r="2.2"/><circle cx="-25.9" cy="3.9" r="2.3"/><circle cx="-21.1" cy="1" r="1.4"/><circle cx="-20.5" cy="3" r="2.7"/><circle cx="-9.7" cy="-2.2" r="2.8"/><circle cx="-11.2" cy="-6.2" r="3"/><circle cx="-23.4" cy="23.3" r="1.5"/><circle cx="-21.8" cy="22.8" r="1.7"/><circle cx="-24" cy="24.2" r="2.4"/><circle cx="-27.7" cy="35.2" r="2.9"/><circle cx="-29.2" cy="35.7" r="1.8"/><circle cx="-30.6" cy="39.5" r="1.6"/><circle cx="-24.9" cy="40.5" r="1.5"/><circle cx="-28.3" cy="43.2" r="2"/><circle cx="-50.9" cy="-23.3" r="2.2"/><circle cx="-49.1" cy="-20.6" r="2.1"/><circle cx="-56" cy="-21.2" r="1.5"/><circle cx="-52.2" cy="-16.7" r="2"/><circle cx="-54.9" cy="-13.2" r="2.4"/><circle cx="-58.4" cy="-11.8" r="2.9"/><circle cx="-58.5" cy="-3.1" r="1.5"/><circle cx="-63.3" cy="-7.4" r="2"/><circle cx="-9.5" cy="-70.1" r="1.5"/><circle cx="-12" cy="-69.2" r="2.9"/><circle cx="-13.4" cy="-65" r="2.6"/><circle cx="-12.2" cy="-68" r="2"/><circle cx="-14" cy="-62" r="2.8"/><circle cx="-14.2" cy="-61.9" r="1.6"/><circle cx="-16.4" cy="-61.4" r="1.4"/><circle cx="-17.2" cy="-59.4" r="2.8"/><circle cx="-20.8" cy="-56.5" r="2.6"/><circle cx="-19.9" cy="-55.1" r="2.9"/><circle cx="-15.3" cy="-51.5" r="1.5"/><circle cx="-19.5" cy="-50.1" r="2.8"/><circle cx="-13.9" cy="-47.8" r="2.7"/><circle cx="-15.1" cy="-48.6" r="1.9"/><circle cx="-14" cy="-47.6" r="2.8"/><circle cx="-12.3" cy="-42.7" r="1.8"/><circle cx="-46.7" cy="-56.9" r="1.6"/><circle cx="-45.5" cy="-55.9" r="2.3"/><circle cx="-43.4" cy="-47.9" r="2.3"/><circle cx="-42" cy="-48" r="2.7"/><circle cx="-36.5" cy="-42.7" r="2"/><circle cx="-37.8" cy="-40.1" r="2.9"/><circle cx="-37.6" cy="-36.6" r="1.6"/><circle cx="-38.5" cy="-33.9" r="1.5"/><circle cx="32.9" cy="-60.1" r="1.5"/><circle cx="38.1" cy="-55.7" r="2.7"/><circle cx="38.8" cy="-53.8" r="1.8"/><circle cx="36.9" cy="-53.3" r="1.6"/><circle cx="44.1" cy="-53.1" r="2.1"/><circle cx="42.2" cy="-50.7" r="2.3"/><circle cx="45.8" cy="-48.1" r="2.1"/><circle cx="40.4" cy="-47.5" r="2.1"/><circle cx="40.1" cy="-43.7" r="2"/><circle cx="44.2" cy="-41.6" r="2.7"/><circle cx="42.1" cy="-37.8" r="2.9"/><circle cx="36.2" cy="-34.6" r="2.3"/><circle cx="42" cy="-31.3" r="1.8"/><circle cx="44.3" cy="-33.9" r="1.6"/><circle cx="46.1" cy="-32.9" r="1.6"/><circle cx="32.7" cy="1.6" r="2.3"/><circle cx="34.4" cy="6.3" r="2.6"/><circle cx="38.8" cy="4.4" r="2.3"/><circle cx="38.3" cy="8.3" r="2.9"/><circle cx="41.6" cy="12.7" r="1.6"/><circle cx="40.6" cy="13.5" r="1.6"/><circle cx="46.3" cy="9.6" r="1.4"/><circle cx="49.6" cy="14" r="2.1"/><circle cx="47.7" cy="22.5" r="2.2"/><circle cx="-4.5" cy="26.6" r="1.5"/><circle cx="-7.3" cy="31.7" r="1.7"/><circle cx="-8.2" cy="34.8" r="2"/><circle cx="-9.5" cy="40.6" r="1.4"/><circle cx="-12.5" cy="39.8" r="2.2"/><circle cx="-12" cy="45.9" r="2"/><circle cx="-11.9" cy="43.1" r="2.5"/><circle cx="-10.7" cy="51.8" r="1.6"/><circle cx="-5.9" cy="52" r="1.6"/><circle cx="-9" cy="55.5" r="2.2"/><circle cx="55.7" cy="-15.2" r="2.4"/><circle cx="60.8" cy="-13.2" r="1.7"/><circle cx="56.6" cy="-6.6" r="2"/><circle cx="58.1" cy="-5.2" r="2.1"/><circle cx="58.9" cy="-5.1" r="1.7"/><circle cx="61.3" cy="4.8" r="2.1"/><circle cx="64" cy="5.3" r="2.6"/><circle cx="63.6" cy="4.9" r="2.6"/><circle cx="59.9" cy="14.4" r="2.5"/><circle cx="58.3" cy="16.5" r="1.9"/><circle cx="57.4" cy="15.3" r="1.7"/><circle cx="-60.1" cy="10.2" r="1.6"/><circle cx="-56.7" cy="11.9" r="2.3"/><circle cx="-47.3" cy="17.7" r="1.6"/><circle cx="-45.7" cy="22.6" r="2.6"/><circle cx="-46.8" cy="23.5" r="2.9"/><circle cx="-46.5" cy="28.3" r="2.1"/></g><g filter="url(#b07)" fill="#52e434" opacity="0.95"><circle cx="5" cy="-80.2" r="1.9"/><circle cx="5.7" cy="-79.9" r="1.9"/><circle cx="6.9" cy="-76.6" r="1.1"/><circle cx="8.5" cy="-74.2" r="1.9"/><circle cx="8.8" cy="-73.4" r="1.6"/><circle cx="10.7" cy="-72.4" r="1.3"/><circle cx="11.6" cy="-68.7" r="1.5"/><circle cx="9.7" cy="-68.2" r="0.8"/><circle cx="10.3" cy="-69.6" r="0.8"/><circle cx="9.4" cy="-66.4" r="1.6"/><circle cx="8.4" cy="-64.3" r="1.2"/><circle cx="7.9" cy="-63.4" r="1.9"/><circle cx="11.1" cy="-62.6" r="1.4"/><circle cx="11.3" cy="-61.2" r="1.9"/><circle cx="13" cy="-62" r="2"/><circle cx="15.4" cy="-61" r="0.9"/><circle cx="14" cy="-58.1" r="1.1"/><circle cx="12.2" cy="-54.2" r="1.3"/><circle cx="13.4" cy="-54.6" r="1.6"/><circle cx="16.4" cy="-53.5" r="1.8"/><circle cx="18.7" cy="-52.9" r="1.5"/><circle cx="22.1" cy="-53.9" r="1.1"/><circle cx="22.5" cy="-53.4" r="2"/><circle cx="22.2" cy="-51.5" r="1.4"/><circle cx="23.5" cy="-47" r="1.8"/><circle cx="23.1" cy="-48.4" r="0.9"/><circle cx="24.5" cy="-47" r="1"/><circle cx="27.2" cy="-43.7" r="1.7"/><circle cx="26.5" cy="-41" r="1.1"/><circle cx="27" cy="-38.5" r="1.4"/><circle cx="25.4" cy="-36.3" r="1.9"/><circle cx="25.5" cy="-38.6" r="1.5"/><circle cx="24.9" cy="-35.1" r="0.8"/><circle cx="24.1" cy="-33.2" r="0.8"/><circle cx="21.8" cy="-30.1" r="1.4"/><circle cx="20.6" cy="-29.8" r="1.2"/><circle cx="20.4" cy="-29" r="1.8"/><circle cx="22.1" cy="-25.7" r="1.5"/><circle cx="23.8" cy="-24.1" r="1"/><circle cx="22.3" cy="-23.4" r="1.1"/><circle cx="22.8" cy="-18.9" r="0.9"/><circle cx="21" cy="-21.4" r="1.4"/><circle cx="19.1" cy="-18.4" r="1"/><circle cx="17.6" cy="-17.4" r="1.7"/><circle cx="15.6" cy="-16.4" r="1.9"/><circle cx="14.2" cy="-16.4" r="1.6"/><circle cx="14" cy="-14.2" r="1.5"/><circle cx="13.3" cy="-12.8" r="1.5"/><circle cx="12.3" cy="-11.6" r="0.7"/><circle cx="8.6" cy="-11.4" r="1.1"/><circle cx="5.4" cy="-8.7" r="0.8"/><circle cx="5.5" cy="-10.3" r="0.7"/><circle cx="4" cy="-6.3" r="1.3"/><circle cx="2.2" cy="-7.1" r="0.9"/><circle cx="1.7" cy="-7.6" r="1.5"/><circle cx="5.2" cy="-5.3" r="0.8"/><circle cx="4.3" cy="-3.3" r="1.7"/><circle cx="4.4" cy="-1.1" r="1.6"/><circle cx="4.8" cy="2.5" r="1"/><circle cx="4.7" cy="5.4" r="1.8"/><circle cx="4.4" cy="7.2" r="1.7"/><circle cx="4" cy="9.2" r="1.3"/><circle cx="8" cy="10" r="1.7"/><circle cx="8.8" cy="11.6" r="1.5"/><circle cx="9.4" cy="14.2" r="1.4"/><circle cx="10.5" cy="13.4" r="1.8"/><circle cx="12.6" cy="20.6" r="2"/><circle cx="15.1" cy="23.1" r="1.4"/><circle cx="15.9" cy="21" r="1.7"/><circle cx="18.6" cy="23.6" r="1.5"/><circle cx="22.4" cy="23.4" r="1.4"/><circle cx="23.8" cy="26.3" r="1.1"/><circle cx="24.7" cy="23.9" r="1.6"/><circle cx="26.4" cy="25.1" r="1.2"/><circle cx="26.5" cy="26.9" r="0.9"/><circle cx="26" cy="31.2" r="2"/><circle cx="26.2" cy="33.2" r="1.6"/><circle cx="28.6" cy="35.5" r="1.1"/><circle cx="22.9" cy="-24.1" r="0.7"/><circle cx="22.3" cy="-21.4" r="2"/><circle cx="27.2" cy="-21.6" r="1.1"/><circle cx="26.3" cy="-20.6" r="1.3"/><circle cx="29.9" cy="-21.2" r="1.1"/><circle cx="29.8" cy="-18.6" r="0.8"/><circle cx="32.1" cy="-18.4" r="1.4"/><circle cx="31.5" cy="-18.8" r="1.2"/><circle cx="34" cy="-16.9" r="1.3"/><circle cx="35" cy="-19.5" r="1"/><circle cx="37" cy="-19.8" r="1.9"/><circle cx="40.1" cy="-21.3" r="1.9"/><circle cx="40.2" cy="-22.5" r="0.8"/><circle cx="48.1" cy="-26.3" r="1.9"/><circle cx="49.6" cy="-26.9" r="0.8"/><circle cx="51.3" cy="-25.4" r="2"/><circle cx="53.9" cy="-24.6" r="2"/><circle cx="55.7" cy="-20.2" r="2.1"/><circle cx="56.3" cy="-17.8" r="2"/><circle cx="55.4" cy="-15.1" r="1.6"/><circle cx="56.4" cy="-12.7" r="1.2"/><circle cx="16.3" cy="-57.1" r="0.7"/><circle cx="21.2" cy="-54.4" r="1.8"/><circle cx="21.4" cy="-55.5" r="1.3"/><circle cx="23" cy="-56.9" r="0.8"/><circle cx="22.4" cy="-62.1" r="1.8"/><circle cx="24.5" cy="-62.3" r="2"/><circle cx="23.3" cy="-65.6" r="1.6"/><circle cx="24.3" cy="-66.6" r="1.6"/><circle cx="23.7" cy="-68.8" r="1.4"/><circle cx="27.3" cy="-74.3" r="1.6"/><circle cx="27.9" cy="-75" r="1"/><circle cx="10.5" cy="14.8" r="1.2"/><circle cx="7.7" cy="14.4" r="1.7"/><circle cx="8.9" cy="18" r="1.5"/><circle cx="6.6" cy="21.3" r="1.6"/><circle cx="7" cy="21.9" r="1.1"/><circle cx="4.6" cy="20.9" r="1.1"/><circle cx="5" cy="22.8" r="1.4"/><circle cx="2.4" cy="23.9" r="0.8"/><circle cx="0.8" cy="25.3" r="2.1"/><circle cx="4.8" cy="25.2" r="1.4"/><circle cx="3.2" cy="29.3" r="1.8"/><circle cx="6.6" cy="32.6" r="1.4"/><circle cx="4.3" cy="32.2" r="1.5"/><circle cx="7" cy="35.6" r="1.2"/><circle cx="7" cy="34.7" r="1.8"/><circle cx="7.3" cy="39.4" r="1"/><circle cx="27.2" cy="-41.7" r="1.7"/><circle cx="27.2" cy="-42.4" r="1"/><circle cx="27.7" cy="-43.7" r="1.5"/><circle cx="30.1" cy="-43.4" r="1.3"/><circle cx="32" cy="-43.1" r="0.8"/><circle cx="32.7" cy="-41.9" r="1.6"/><circle cx="35.3" cy="-44.8" r="1.2"/><circle cx="36" cy="-44.9" r="1.9"/><circle cx="36.1" cy="-44.4" r="1.9"/><circle cx="39.6" cy="-46" r="2"/><circle cx="39.6" cy="-46.8" r="2.1"/><circle cx="41" cy="-46.2" r="1.7"/><circle cx="42.8" cy="-48" r="1"/><circle cx="44.7" cy="-50.3" r="1"/><circle cx="46" cy="-50.8" r="2"/></g><g filter="url(#b07)" fill="#3cd080" opacity="0.7"><circle cx="-29.8" cy="-8.7" r="0.7"/><circle cx="-31.7" cy="-9" r="1.2"/><circle cx="-32.2" cy="-7.4" r="1.2"/><circle cx="-32.2" cy="-4" r="0.7"/><circle cx="-28.9" cy="1.8" r="1.5"/><circle cx="-24.8" cy="7" r="1.3"/><circle cx="-25" cy="7.2" r="1.5"/><circle cx="-22.6" cy="9.4" r="1.6"/><circle cx="-21.4" cy="8.4" r="1"/><circle cx="-21.3" cy="6.8" r="1.2"/><circle cx="-21" cy="11.7" r="1"/><circle cx="-22.1" cy="15" r="0.9"/><circle cx="-23.9" cy="20.9" r="1"/><circle cx="-23.4" cy="21.7" r="0.8"/><circle cx="-25.9" cy="6.2" r="1"/><circle cx="-24.6" cy="3.1" r="1.4"/><circle cx="-18.9" cy="-0.2" r="1.5"/><circle cx="-16.1" cy="0.8" r="1.5"/><circle cx="-14.8" cy="-0.2" r="1.4"/><circle cx="-11.4" cy="-3.3" r="1"/><circle cx="-11.6" cy="-3.2" r="1"/><circle cx="-8.7" cy="-6.3" r="1.5"/><circle cx="-27" cy="21.7" r="1.2"/><circle cx="-27.6" cy="25.5" r="1.1"/><circle cx="-29.7" cy="38.2" r="1.4"/><circle cx="-29.7" cy="40" r="0.9"/><circle cx="-27.7" cy="42.7" r="0.8"/><circle cx="-28.9" cy="42.7" r="1.4"/><circle cx="-26.8" cy="43.7" r="1.3"/><circle cx="-28" cy="46.9" r="1"/><circle cx="-50.6" cy="-23.1" r="0.8"/><circle cx="-53.6" cy="-20.7" r="1.5"/><circle cx="-54.3" cy="-18.7" r="1.1"/><circle cx="-55.5" cy="-17.7" r="1.3"/><circle cx="-58.5" cy="-11.2" r="1.2"/><circle cx="-59" cy="-10.4" r="0.8"/><circle cx="-57.2" cy="-9.4" r="0.9"/><circle cx="-61" cy="-6.8" r="0.9"/><circle cx="-64.2" cy="-3.9" r="1.5"/><circle cx="-66.6" cy="-3.3" r="1.3"/><circle cx="-10.8" cy="-71.8" r="0.8"/><circle cx="-11.9" cy="-66.7" r="1"/><circle cx="-12.8" cy="-68.7" r="0.8"/><circle cx="-13.4" cy="-61" r="1.5"/><circle cx="-15.2" cy="-58" r="1.3"/><circle cx="-15.1" cy="-55.7" r="1.5"/><circle cx="-18.4" cy="-55.3" r="1.6"/><circle cx="-18" cy="-52.9" r="1.1"/><circle cx="-13.2" cy="-47.5" r="1.3"/><circle cx="-11.5" cy="-45" r="1"/><circle cx="-12.2" cy="-42.2" r="1.4"/><circle cx="-44.1" cy="-56.5" r="0.7"/><circle cx="-44.6" cy="-55" r="1.5"/><circle cx="-43.8" cy="-51" r="1.1"/><circle cx="-41" cy="-49.5" r="1.5"/><circle cx="-40.1" cy="-47.9" r="0.8"/><circle cx="-37" cy="-41.4" r="1.1"/><circle cx="-35" cy="-42.1" r="1.1"/><circle cx="-37.6" cy="-37.3" r="1.6"/><circle cx="-38.9" cy="-33.7" r="1.2"/><circle cx="-39.9" cy="-34.6" r="1.4"/><circle cx="-39.6" cy="-32.8" r="0.8"/><circle cx="-39.4" cy="-28.9" r="1.6"/><circle cx="36.4" cy="-61.6" r="1.2"/><circle cx="39.2" cy="-61.2" r="1.3"/><circle cx="37.7" cy="-58.6" r="1.5"/><circle cx="38.6" cy="-57.6" r="1.3"/><circle cx="42.9" cy="-51.5" r="1.6"/><circle cx="43.4" cy="-49.5" r="1"/><circle cx="45.2" cy="-45.9" r="0.9"/><circle cx="42.5" cy="-41.6" r="1"/><circle cx="44.3" cy="-37.6" r="1.3"/><circle cx="40.6" cy="-34.2" r="1.1"/><circle cx="46.8" cy="-30.3" r="0.7"/><circle cx="30.6" cy="-0" r="1.5"/><circle cx="34.6" cy="4.7" r="0.8"/><circle cx="37.8" cy="4.5" r="1.1"/><circle cx="40.7" cy="9.3" r="1.2"/><circle cx="43.7" cy="12.6" r="0.8"/><circle cx="45.8" cy="15.2" r="0.6"/><circle cx="47.7" cy="17.1" r="1.1"/><circle cx="46.7" cy="17.4" r="1.1"/><circle cx="-4.2" cy="32.6" r="0.8"/><circle cx="-8.6" cy="34.9" r="1.2"/><circle cx="-11.6" cy="38.3" r="1.3"/><circle cx="-12.1" cy="45" r="0.9"/><circle cx="-10.7" cy="46.9" r="1.6"/><circle cx="-11.7" cy="47.7" r="1.5"/><circle cx="-10.9" cy="50.7" r="1.6"/><circle cx="-7.8" cy="52.2" r="0.9"/><circle cx="-7.6" cy="56.9" r="1.2"/><circle cx="-3.9" cy="57.4" r="1.6"/><circle cx="56.3" cy="-11.4" r="1"/><circle cx="56.9" cy="-8.7" r="0.7"/><circle cx="56.8" cy="-7.3" r="1.5"/><circle cx="58" cy="-4.3" r="1.1"/><circle cx="57.7" cy="-3" r="0.9"/><circle cx="59.2" cy="4.2" r="0.9"/><circle cx="62" cy="7.2" r="0.9"/><circle cx="63.1" cy="6.3" r="0.8"/><circle cx="60.8" cy="10" r="1.2"/><circle cx="59" cy="12.7" r="1.1"/><circle cx="60" cy="13.9" r="0.8"/><circle cx="59.6" cy="16.6" r="1"/><circle cx="-60.3" cy="11.6" r="1"/><circle cx="-57.4" cy="11.4" r="1.1"/><circle cx="-54.9" cy="13" r="1.1"/><circle cx="-47" cy="20.2" r="1.4"/><circle cx="-47" cy="22" r="1.5"/><circle cx="-45.9" cy="24.6" r="1.3"/><circle cx="-46.6" cy="24.2" r="1.2"/><circle cx="-44.3" cy="24.6" r="1.5"/><circle cx="-43.3" cy="28.7" r="0.6"/><circle cx="-46.1" cy="30.4" r="1.4"/></g><circle cx="0" cy="0" r="91.3" fill="url(#sd)"/></g></g></g>
<polygon points="341.4,722 398.5,708.5 514.9,735.4 514.9,754.4 396.2,754.4 341.4,739.9" fill="url(#pf2)"/>
<polygon points="341.4,722 398.5,708.5 514.9,735.4 398.2,734.9" fill="url(#pt2)"/>
<polygon points="341.4,722 398.5,708.5 514.9,735.4 398.2,734.9" fill="url(#pa2)"/>
<polygon points="725.8,672 844.9,672 907.8,684.6 838,698.2 840.4,1061.7 726.4,1036.4" fill="#f0a30a"/>
<polygon points="725.8,672 844.9,672 907.8,684.6 837,696.2 725.8,676.5" fill="#eb9f08"/>
<polygon points="725.8,676.2 837,696.2 840.4,1061.7 726.4,1036.4" fill="#f5a60a"/>
<polygon points="725.9,742.8 832.4,742.8 834.4,994.2 726.3,994.2" fill="#c98c14"/>
<polygon points="837,696.2 907.8,684.6 910.9,1052 840.4,1061.7" fill="url(#dk3)"/>
<polygon points="664.7,997.2 728.5,988.2 834.1,986 834.1,1025.2 717.3,1024 664.7,1015.1" fill="#0a0ae6"/>
<polygon points="718.3,1005.1 834.1,1005.3 834.1,1025.2 717.3,1024" fill="#1414cc"/>
<polygon points="664.7,997.2 718.3,1005.1 717.3,1024 664.7,1015.1" fill="#0c0cdc"/>
<g clip-path="url(#sc3)"><g clip-path="url(#scc3)"><g transform="translate(775.6 849)"><circle cx="0" cy="0" r="91.3" fill="url(#sg)"/><circle cx="0" cy="0" r="90.3" fill="url(#sv)" filter="url(#haze)"/><g filter="url(#b15)" fill="#50b0ee" opacity="0.7"><circle cx="-71.9" cy="-4.6" r="1.8"/><circle cx="-66.5" cy="-5.1" r="1.6"/><circle cx="-67.6" cy="-11.7" r="2.8"/><circle cx="-63.3" cy="-6.8" r="2.8"/><circle cx="-60" cy="-15" r="2.5"/><circle cx="-57.5" cy="-16.5" r="2.9"/><circle cx="-57.9" cy="-15.4" r="1.6"/><circle cx="-55.9" cy="-14.3" r="1.4"/><circle cx="-53.9" cy="-16.6" r="2.7"/><circle cx="-52.9" cy="-17.8" r="2.5"/><circle cx="-50.3" cy="-22.4" r="2.6"/><circle cx="-43.8" cy="-22.7" r="2"/><circle cx="-44.8" cy="-24.7" r="1.7"/><circle cx="-41.8" cy="-34.8" r="2.9"/><circle cx="-40.4" cy="-25.9" r="2.6"/><circle cx="-36.5" cy="-29.7" r="2.8"/><circle cx="-32.1" cy="-26" r="1.9"/><circle cx="-27.8" cy="-26.9" r="2.9"/><circle cx="-28.2" cy="-23" r="1.7"/><circle cx="-23.5" cy="-20.3" r="3"/><circle cx="-16.6" cy="-20.6" r="2.3"/><circle cx="-25.5" cy="-39.2" r="2.6"/><circle cx="-20.8" cy="-42.3" r="2.1"/><circle cx="-17.3" cy="-44" r="2.1"/><circle cx="-8.9" cy="-46.4" r="2.2"/><circle cx="-2.7" cy="-44.3" r="2"/><circle cx="3.7" cy="-42" r="1.5"/><circle cx="-44.1" cy="-32.8" r="2"/><circle cx="-41.3" cy="-23.4" r="2.6"/><circle cx="-39.5" cy="-18.6" r="2.4"/><circle cx="-33.6" cy="-21" r="1.8"/><circle cx="-40.3" cy="-17" r="2.4"/><circle cx="-37.4" cy="-12.6" r="2.6"/><circle cx="-36.5" cy="-9.6" r="2.8"/><circle cx="-26.1" cy="-12.1" r="2.2"/><circle cx="-63.1" cy="-41.7" r="2.1"/><circle cx="-57" cy="-43.9" r="2.6"/><circle cx="-53.7" cy="-38.8" r="2.4"/><circle cx="-54.8" cy="-46" r="1.5"/><circle cx="-51.8" cy="-44" r="1.6"/><circle cx="-49.3" cy="-44.7" r="1.5"/><circle cx="-50.4" cy="-45.2" r="2.3"/><circle cx="-45.9" cy="-48.8" r="2"/><circle cx="-45" cy="-49.4" r="2.7"/><circle cx="-39.1" cy="-50.5" r="1.6"/><circle cx="-42.3" cy="-49.8" r="2.9"/><circle cx="-43.2" cy="-52" r="2.4"/><circle cx="-36" cy="-53.4" r="2.3"/><circle cx="-34.9" cy="-53" r="1.4"/><circle cx="-33" cy="-59.3" r="1.6"/><circle cx="-25.8" cy="-58.9" r="2.1"/><circle cx="-26.9" cy="-50.7" r="2"/><circle cx="-19.1" cy="-52.5" r="2.2"/><circle cx="-19.7" cy="-54.6" r="2.2"/><circle cx="-15.6" cy="-61.3" r="2.4"/><circle cx="-17.1" cy="-24" r="1.8"/><circle cx="-14.4" cy="-14.3" r="1.9"/><circle cx="-18.7" cy="-18.8" r="2.4"/><circle cx="-10.1" cy="-14.3" r="1.9"/><circle cx="-11" cy="-14.3" r="2.2"/><circle cx="-10.5" cy="-12.7" r="2.3"/><circle cx="-5.9" cy="-12.8" r="2.9"/><circle cx="0.9" cy="-11.9" r="2.1"/><circle cx="-1.6" cy="-12.6" r="2.2"/></g><g filter="url(#b15)" fill="#2cc48c" opacity="0.5"><circle cx="6.2" cy="-80.1" r="2"/><circle cx="8.8" cy="-76.4" r="2.6"/><circle cx="8.6" cy="-71.2" r="2.4"/><circle cx="14.1" cy="-70.4" r="1.5"/><circle cx="13.2" cy="-66.3" r="2.2"/><circle cx="9.1" cy="-66.6" r="2.3"/><circle cx="9" cy="-66.7" r="1.6"/><circle cx="9" cy="-60.1" r="1.7"/><circle cx="11.5" cy="-60" r="2.5"/><circle cx="14.6" cy="-54.9" r="1.8"/><circle cx="14.8" cy="-49.9" r="1.4"/><circle cx="19.5" cy="-52.2" r="2.9"/><circle cx="20.8" cy="-52.5" r="3"/><circle cx="23.4" cy="-53.9" r="2.4"/><circle cx="25" cy="-48.9" r="2.4"/><circle cx="25.1" cy="-47" r="2.7"/><circle cx="26.2" cy="-46.3" r="2.8"/><circle cx="24.5" cy="-42.9" r="2.6"/><circle cx="25.4" cy="-38.3" r="1.7"/><circle cx="26.2" cy="-36.5" r="2.6"/><circle cx="19" cy="-31.7" r="2.4"/><circle cx="20.5" cy="-29.1" r="1.6"/><circle cx="20.6" cy="-26.2" r="2.8"/><circle cx="21.4" cy="-24.2" r="1.7"/><circle cx="22.2" cy="-21.8" r="1.5"/><circle cx="23.1" cy="-21.5" r="2.5"/><circle cx="20.4" cy="-18" r="2.5"/><circle cx="15.2" cy="-19.9" r="1.7"/><circle cx="15.5" cy="-15.1" r="1.5"/><circle cx="13.8" cy="-14.9" r="1.9"/><circle cx="9.6" cy="-10.5" r="2.5"/><circle cx="9.3" cy="-8.6" r="2.9"/><circle cx="2.8" cy="-7.9" r="1.4"/><circle cx="6" cy="-11.4" r="1.5"/><circle cx="6.5" cy="-8.7" r="2"/><circle cx="6.8" cy="-5.7" r="2.2"/><circle cx="2.7" cy="-3.7" r="2"/><circle cx="3.8" cy="-0.3" r="1.9"/><circle cx="8.7" cy="1.4" r="1.7"/><circle cx="3.6" cy="3.6" r="1.5"/><circle cx="8.1" cy="6.8" r="2.9"/><circle cx="8.8" cy="7.2" r="1.4"/><circle cx="6.9" cy="11.5" r="2"/><circle cx="8.4" cy="10.7" r="1.9"/><circle cx="11.3" cy="15.3" r="1.6"/><circle cx="14.5" cy="20.3" r="2.7"/><circle cx="14.1" cy="21.2" r="1.8"/><circle cx="13.9" cy="22.6" r="1.8"/><circle cx="18.5" cy="22.6" r="1.7"/><circle cx="20" cy="26.1" r="2.1"/><circle cx="23.5" cy="24.1" r="2.8"/><circle cx="26.6" cy="24.6" r="2.1"/><circle cx="31.3" cy="31.1" r="2.5"/><circle cx="29.6" cy="33.1" r="1.6"/><circle cx="21.5" cy="-21.6" r="1.9"/><circle cx="23.2" cy="-24.1" r="2.6"/><circle cx="27.9" cy="-21.2" r="2.5"/><circle cx="33.9" cy="-19.9" r="1.6"/><circle cx="35.2" cy="-18" r="2.1"/><circle cx="35.5" cy="-23.3" r="2.3"/><circle cx="40.7" cy="-21.2" r="2.1"/><circle cx="41.1" cy="-24.1" r="2.3"/><circle cx="43.7" cy="-27" r="1.7"/><circle cx="45.4" cy="-24.2" r="2"/><circle cx="47" cy="-25.9" r="1.8"/><circle cx="52.1" cy="-22.6" r="2.7"/><circle cx="55.7" cy="-22" r="1.6"/><circle cx="55.7" cy="-20.2" r="2.7"/><circle cx="54.7" cy="-20.4" r="2.4"/><circle cx="15.7" cy="-53.6" r="2"/><circle cx="15.8" cy="-56.2" r="3"/><circle cx="21.9" cy="-57.7" r="2.7"/><circle cx="20.2" cy="-59.8" r="2.2"/><circle cx="22.6" cy="-60.5" r="2"/><circle cx="22.5" cy="-66.4" r="1.9"/><circle cx="23.9" cy="-69.1" r="2.6"/><circle cx="29" cy="-71.8" r="2.5"/><circle cx="7.2" cy="17.7" r="2"/><circle cx="2.5" cy="16.6" r="2.9"/><circle cx="2.7" cy="23.5" r="2.5"/><circle cx="1.6" cy="24.3" r="2.8"/><circle cx="1.4" cy="31.1" r="2.4"/><circle cx="3.2" cy="34.1" r="1.8"/><circle cx="22.7" cy="-42.3" r="1.9"/><circle cx="25.8" cy="-45.3" r="1.7"/><circle cx="33.7" cy="-42.8" r="2.4"/><circle cx="35.8" cy="-41.2" r="2.4"/><circle cx="37.9" cy="-44.6" r="2.2"/><circle cx="45.5" cy="-52.1" r="2.9"/><circle cx="-25.7" cy="-12.1" r="2.4"/><circle cx="-30.2" cy="-4.9" r="1.7"/><circle cx="-34.2" cy="-2.3" r="2.6"/><circle cx="-35.1" cy="0.1" r="2"/><circle cx="-32.6" cy="-0.6" r="2.5"/><circle cx="-25.9" cy="1.7" r="1.5"/><circle cx="-28.1" cy="2.4" r="1.6"/><circle cx="-28" cy="8.1" r="2.9"/><circle cx="-25.6" cy="8.7" r="2.5"/><circle cx="-25.1" cy="6.6" r="1.9"/><circle cx="-19.1" cy="8.2" r="1.8"/><circle cx="-20.4" cy="10.8" r="1.6"/><circle cx="-19.5" cy="12.6" r="2"/><circle cx="-24.7" cy="20.7" r="1.4"/><circle cx="-23.3" cy="19.3" r="1.8"/><circle cx="-24.7" cy="21.5" r="1.5"/><circle cx="-22" cy="20.4" r="2.2"/><circle cx="-25.9" cy="3.9" r="2.3"/><circle cx="-21.1" cy="1" r="1.4"/><circle cx="-20.5" cy="3" r="2.7"/><circle cx="-9.7" cy="-2.2" r="2.8"/><circle cx="-11.2" cy="-6.2" r="3"/><circle cx="-23.4" cy="23.3" r="1.5"/><circle cx="-21.8" cy="22.8" r="1.7"/><circle cx="-24" cy="24.2" r="2.4"/><circle cx="-27.7" cy="35.2" r="2.9"/><circle cx="-29.2" cy="35.7" r="1.8"/><circle cx="-30.6" cy="39.5" r="1.6"/><circle cx="-24.9" cy="40.5" r="1.5"/><circle cx="-28.3" cy="43.2" r="2"/><circle cx="-50.9" cy="-23.3" r="2.2"/><circle cx="-49.1" cy="-20.6" r="2.1"/><circle cx="-56" cy="-21.2" r="1.5"/><circle cx="-52.2" cy="-16.7" r="2"/><circle cx="-54.9" cy="-13.2" r="2.4"/><circle cx="-58.4" cy="-11.8" r="2.9"/><circle cx="-58.5" cy="-3.1" r="1.5"/><circle cx="-63.3" cy="-7.4" r="2"/><circle cx="-9.5" cy="-70.1" r="1.5"/><circle cx="-12" cy="-69.2" r="2.9"/><circle cx="-13.4" cy="-65" r="2.6"/><circle cx="-12.2" cy="-68" r="2"/><circle cx="-14" cy="-62" r="2.8"/><circle cx="-14.2" cy="-61.9" r="1.6"/><circle cx="-16.4" cy="-61.4" r="1.4"/><circle cx="-17.2" cy="-59.4" r="2.8"/><circle cx="-20.8" cy="-56.5" r="2.6"/><circle cx="-19.9" cy="-55.1" r="2.9"/><circle cx="-15.3" cy="-51.5" r="1.5"/><circle cx="-19.5" cy="-50.1" r="2.8"/><circle cx="-13.9" cy="-47.8" r="2.7"/><circle cx="-15.1" cy="-48.6" r="1.9"/><circle cx="-14" cy="-47.6" r="2.8"/><circle cx="-12.3" cy="-42.7" r="1.8"/><circle cx="-46.7" cy="-56.9" r="1.6"/><circle cx="-45.5" cy="-55.9" r="2.3"/><circle cx="-43.4" cy="-47.9" r="2.3"/><circle cx="-42" cy="-48" r="2.7"/><circle cx="-36.5" cy="-42.7" r="2"/><circle cx="-37.8" cy="-40.1" r="2.9"/><circle cx="-37.6" cy="-36.6" r="1.6"/><circle cx="-38.5" cy="-33.9" r="1.5"/><circle cx="32.9" cy="-60.1" r="1.5"/><circle cx="38.1" cy="-55.7" r="2.7"/><circle cx="38.8" cy="-53.8" r="1.8"/><circle cx="36.9" cy="-53.3" r="1.6"/><circle cx="44.1" cy="-53.1" r="2.1"/><circle cx="42.2" cy="-50.7" r="2.3"/><circle cx="45.8" cy="-48.1" r="2.1"/><circle cx="40.4" cy="-47.5" r="2.1"/><circle cx="40.1" cy="-43.7" r="2"/><circle cx="44.2" cy="-41.6" r="2.7"/><circle cx="42.1" cy="-37.8" r="2.9"/><circle cx="36.2" cy="-34.6" r="2.3"/><circle cx="42" cy="-31.3" r="1.8"/><circle cx="44.3" cy="-33.9" r="1.6"/><circle cx="46.1" cy="-32.9" r="1.6"/><circle cx="32.7" cy="1.6" r="2.3"/><circle cx="34.4" cy="6.3" r="2.6"/><circle cx="38.8" cy="4.4" r="2.3"/><circle cx="38.3" cy="8.3" r="2.9"/><circle cx="41.6" cy="12.7" r="1.6"/><circle cx="40.6" cy="13.5" r="1.6"/><circle cx="46.3" cy="9.6" r="1.4"/><circle cx="49.6" cy="14" r="2.1"/><circle cx="47.7" cy="22.5" r="2.2"/><circle cx="-4.5" cy="26.6" r="1.5"/><circle cx="-7.3" cy="31.7" r="1.7"/><circle cx="-8.2" cy="34.8" r="2"/><circle cx="-9.5" cy="40.6" r="1.4"/><circle cx="-12.5" cy="39.8" r="2.2"/><circle cx="-12" cy="45.9" r="2"/><circle cx="-11.9" cy="43.1" r="2.5"/><circle cx="-10.7" cy="51.8" r="1.6"/><circle cx="-5.9" cy="52" r="1.6"/><circle cx="-9" cy="55.5" r="2.2"/><circle cx="55.7" cy="-15.2" r="2.4"/><circle cx="60.8" cy="-13.2" r="1.7"/><circle cx="56.6" cy="-6.6" r="2"/><circle cx="58.1" cy="-5.2" r="2.1"/><circle cx="58.9" cy="-5.1" r="1.7"/><circle cx="61.3" cy="4.8" r="2.1"/><circle cx="64" cy="5.3" r="2.6"/><circle cx="63.6" cy="4.9" r="2.6"/><circle cx="59.9" cy="14.4" r="2.5"/><circle cx="58.3" cy="16.5" r="1.9"/><circle cx="57.4" cy="15.3" r="1.7"/><circle cx="-60.1" cy="10.2" r="1.6"/><circle cx="-56.7" cy="11.9" r="2.3"/><circle cx="-47.3" cy="17.7" r="1.6"/><circle cx="-45.7" cy="22.6" r="2.6"/><circle cx="-46.8" cy="23.5" r="2.9"/><circle cx="-46.5" cy="28.3" r="2.1"/></g><g filter="url(#b07)" fill="#52e434" opacity="0.95"><circle cx="5" cy="-80.2" r="1.9"/><circle cx="5.7" cy="-79.9" r="1.9"/><circle cx="6.9" cy="-76.6" r="1.1"/><circle cx="8.5" cy="-74.2" r="1.9"/><circle cx="8.8" cy="-73.4" r="1.6"/><circle cx="10.7" cy="-72.4" r="1.3"/><circle cx="11.6" cy="-68.7" r="1.5"/><circle cx="9.7" cy="-68.2" r="0.8"/><circle cx="10.3" cy="-69.6" r="0.8"/><circle cx="9.4" cy="-66.4" r="1.6"/><circle cx="8.4" cy="-64.3" r="1.2"/><circle cx="7.9" cy="-63.4" r="1.9"/><circle cx="11.1" cy="-62.6" r="1.4"/><circle cx="11.3" cy="-61.2" r="1.9"/><circle cx="13" cy="-62" r="2"/><circle cx="15.4" cy="-61" r="0.9"/><circle cx="14" cy="-58.1" r="1.1"/><circle cx="12.2" cy="-54.2" r="1.3"/><circle cx="13.4" cy="-54.6" r="1.6"/><circle cx="16.4" cy="-53.5" r="1.8"/><circle cx="18.7" cy="-52.9" r="1.5"/><circle cx="22.1" cy="-53.9" r="1.1"/><circle cx="22.5" cy="-53.4" r="2"/><circle cx="22.2" cy="-51.5" r="1.4"/><circle cx="23.5" cy="-47" r="1.8"/><circle cx="23.1" cy="-48.4" r="0.9"/><circle cx="24.5" cy="-47" r="1"/><circle cx="27.2" cy="-43.7" r="1.7"/><circle cx="26.5" cy="-41" r="1.1"/><circle cx="27" cy="-38.5" r="1.4"/><circle cx="25.4" cy="-36.3" r="1.9"/><circle cx="25.5" cy="-38.6" r="1.5"/><circle cx="24.9" cy="-35.1" r="0.8"/><circle cx="24.1" cy="-33.2" r="0.8"/><circle cx="21.8" cy="-30.1" r="1.4"/><circle cx="20.6" cy="-29.8" r="1.2"/><circle cx="20.4" cy="-29" r="1.8"/><circle cx="22.1" cy="-25.7" r="1.5"/><circle cx="23.8" cy="-24.1" r="1"/><circle cx="22.3" cy="-23.4" r="1.1"/><circle cx="22.8" cy="-18.9" r="0.9"/><circle cx="21" cy="-21.4" r="1.4"/><circle cx="19.1" cy="-18.4" r="1"/><circle cx="17.6" cy="-17.4" r="1.7"/><circle cx="15.6" cy="-16.4" r="1.9"/><circle cx="14.2" cy="-16.4" r="1.6"/><circle cx="14" cy="-14.2" r="1.5"/><circle cx="13.3" cy="-12.8" r="1.5"/><circle cx="12.3" cy="-11.6" r="0.7"/><circle cx="8.6" cy="-11.4" r="1.1"/><circle cx="5.4" cy="-8.7" r="0.8"/><circle cx="5.5" cy="-10.3" r="0.7"/><circle cx="4" cy="-6.3" r="1.3"/><circle cx="2.2" cy="-7.1" r="0.9"/><circle cx="1.7" cy="-7.6" r="1.5"/><circle cx="5.2" cy="-5.3" r="0.8"/><circle cx="4.3" cy="-3.3" r="1.7"/><circle cx="4.4" cy="-1.1" r="1.6"/><circle cx="4.8" cy="2.5" r="1"/><circle cx="4.7" cy="5.4" r="1.8"/><circle cx="4.4" cy="7.2" r="1.7"/><circle cx="4" cy="9.2" r="1.3"/><circle cx="8" cy="10" r="1.7"/><circle cx="8.8" cy="11.6" r="1.5"/><circle cx="9.4" cy="14.2" r="1.4"/><circle cx="10.5" cy="13.4" r="1.8"/><circle cx="12.6" cy="20.6" r="2"/><circle cx="15.1" cy="23.1" r="1.4"/><circle cx="15.9" cy="21" r="1.7"/><circle cx="18.6" cy="23.6" r="1.5"/><circle cx="22.4" cy="23.4" r="1.4"/><circle cx="23.8" cy="26.3" r="1.1"/><circle cx="24.7" cy="23.9" r="1.6"/><circle cx="26.4" cy="25.1" r="1.2"/><circle cx="26.5" cy="26.9" r="0.9"/><circle cx="26" cy="31.2" r="2"/><circle cx="26.2" cy="33.2" r="1.6"/><circle cx="28.6" cy="35.5" r="1.1"/><circle cx="22.9" cy="-24.1" r="0.7"/><circle cx="22.3" cy="-21.4" r="2"/><circle cx="27.2" cy="-21.6" r="1.1"/><circle cx="26.3" cy="-20.6" r="1.3"/><circle cx="29.9" cy="-21.2" r="1.1"/><circle cx="29.8" cy="-18.6" r="0.8"/><circle cx="32.1" cy="-18.4" r="1.4"/><circle cx="31.5" cy="-18.8" r="1.2"/><circle cx="34" cy="-16.9" r="1.3"/><circle cx="35" cy="-19.5" r="1"/><circle cx="37" cy="-19.8" r="1.9"/><circle cx="40.1" cy="-21.3" r="1.9"/><circle cx="40.2" cy="-22.5" r="0.8"/><circle cx="48.1" cy="-26.3" r="1.9"/><circle cx="49.6" cy="-26.9" r="0.8"/><circle cx="51.3" cy="-25.4" r="2"/><circle cx="53.9" cy="-24.6" r="2"/><circle cx="55.7" cy="-20.2" r="2.1"/><circle cx="56.3" cy="-17.8" r="2"/><circle cx="55.4" cy="-15.1" r="1.6"/><circle cx="56.4" cy="-12.7" r="1.2"/><circle cx="16.3" cy="-57.1" r="0.7"/><circle cx="21.2" cy="-54.4" r="1.8"/><circle cx="21.4" cy="-55.5" r="1.3"/><circle cx="23" cy="-56.9" r="0.8"/><circle cx="22.4" cy="-62.1" r="1.8"/><circle cx="24.5" cy="-62.3" r="2"/><circle cx="23.3" cy="-65.6" r="1.6"/><circle cx="24.3" cy="-66.6" r="1.6"/><circle cx="23.7" cy="-68.8" r="1.4"/><circle cx="27.3" cy="-74.3" r="1.6"/><circle cx="27.9" cy="-75" r="1"/><circle cx="10.5" cy="14.8" r="1.2"/><circle cx="7.7" cy="14.4" r="1.7"/><circle cx="8.9" cy="18" r="1.5"/><circle cx="6.6" cy="21.3" r="1.6"/><circle cx="7" cy="21.9" r="1.1"/><circle cx="4.6" cy="20.9" r="1.1"/><circle cx="5" cy="22.8" r="1.4"/><circle cx="2.4" cy="23.9" r="0.8"/><circle cx="0.8" cy="25.3" r="2.1"/><circle cx="4.8" cy="25.2" r="1.4"/><circle cx="3.2" cy="29.3" r="1.8"/><circle cx="6.6" cy="32.6" r="1.4"/><circle cx="4.3" cy="32.2" r="1.5"/><circle cx="7" cy="35.6" r="1.2"/><circle cx="7" cy="34.7" r="1.8"/><circle cx="7.3" cy="39.4" r="1"/><circle cx="27.2" cy="-41.7" r="1.7"/><circle cx="27.2" cy="-42.4" r="1"/><circle cx="27.7" cy="-43.7" r="1.5"/><circle cx="30.1" cy="-43.4" r="1.3"/><circle cx="32" cy="-43.1" r="0.8"/><circle cx="32.7" cy="-41.9" r="1.6"/><circle cx="35.3" cy="-44.8" r="1.2"/><circle cx="36" cy="-44.9" r="1.9"/><circle cx="36.1" cy="-44.4" r="1.9"/><circle cx="39.6" cy="-46" r="2"/><circle cx="39.6" cy="-46.8" r="2.1"/><circle cx="41" cy="-46.2" r="1.7"/><circle cx="42.8" cy="-48" r="1"/><circle cx="44.7" cy="-50.3" r="1"/><circle cx="46" cy="-50.8" r="2"/></g><g filter="url(#b07)" fill="#3cd080" opacity="0.7"><circle cx="-29.8" cy="-8.7" r="0.7"/><circle cx="-31.7" cy="-9" r="1.2"/><circle cx="-32.2" cy="-7.4" r="1.2"/><circle cx="-32.2" cy="-4" r="0.7"/><circle cx="-28.9" cy="1.8" r="1.5"/><circle cx="-24.8" cy="7" r="1.3"/><circle cx="-25" cy="7.2" r="1.5"/><circle cx="-22.6" cy="9.4" r="1.6"/><circle cx="-21.4" cy="8.4" r="1"/><circle cx="-21.3" cy="6.8" r="1.2"/><circle cx="-21" cy="11.7" r="1"/><circle cx="-22.1" cy="15" r="0.9"/><circle cx="-23.9" cy="20.9" r="1"/><circle cx="-23.4" cy="21.7" r="0.8"/><circle cx="-25.9" cy="6.2" r="1"/><circle cx="-24.6" cy="3.1" r="1.4"/><circle cx="-18.9" cy="-0.2" r="1.5"/><circle cx="-16.1" cy="0.8" r="1.5"/><circle cx="-14.8" cy="-0.2" r="1.4"/><circle cx="-11.4" cy="-3.3" r="1"/><circle cx="-11.6" cy="-3.2" r="1"/><circle cx="-8.7" cy="-6.3" r="1.5"/><circle cx="-27" cy="21.7" r="1.2"/><circle cx="-27.6" cy="25.5" r="1.1"/><circle cx="-29.7" cy="38.2" r="1.4"/><circle cx="-29.7" cy="40" r="0.9"/><circle cx="-27.7" cy="42.7" r="0.8"/><circle cx="-28.9" cy="42.7" r="1.4"/><circle cx="-26.8" cy="43.7" r="1.3"/><circle cx="-28" cy="46.9" r="1"/><circle cx="-50.6" cy="-23.1" r="0.8"/><circle cx="-53.6" cy="-20.7" r="1.5"/><circle cx="-54.3" cy="-18.7" r="1.1"/><circle cx="-55.5" cy="-17.7" r="1.3"/><circle cx="-58.5" cy="-11.2" r="1.2"/><circle cx="-59" cy="-10.4" r="0.8"/><circle cx="-57.2" cy="-9.4" r="0.9"/><circle cx="-61" cy="-6.8" r="0.9"/><circle cx="-64.2" cy="-3.9" r="1.5"/><circle cx="-66.6" cy="-3.3" r="1.3"/><circle cx="-10.8" cy="-71.8" r="0.8"/><circle cx="-11.9" cy="-66.7" r="1"/><circle cx="-12.8" cy="-68.7" r="0.8"/><circle cx="-13.4" cy="-61" r="1.5"/><circle cx="-15.2" cy="-58" r="1.3"/><circle cx="-15.1" cy="-55.7" r="1.5"/><circle cx="-18.4" cy="-55.3" r="1.6"/><circle cx="-18" cy="-52.9" r="1.1"/><circle cx="-13.2" cy="-47.5" r="1.3"/><circle cx="-11.5" cy="-45" r="1"/><circle cx="-12.2" cy="-42.2" r="1.4"/><circle cx="-44.1" cy="-56.5" r="0.7"/><circle cx="-44.6" cy="-55" r="1.5"/><circle cx="-43.8" cy="-51" r="1.1"/><circle cx="-41" cy="-49.5" r="1.5"/><circle cx="-40.1" cy="-47.9" r="0.8"/><circle cx="-37" cy="-41.4" r="1.1"/><circle cx="-35" cy="-42.1" r="1.1"/><circle cx="-37.6" cy="-37.3" r="1.6"/><circle cx="-38.9" cy="-33.7" r="1.2"/><circle cx="-39.9" cy="-34.6" r="1.4"/><circle cx="-39.6" cy="-32.8" r="0.8"/><circle cx="-39.4" cy="-28.9" r="1.6"/><circle cx="36.4" cy="-61.6" r="1.2"/><circle cx="39.2" cy="-61.2" r="1.3"/><circle cx="37.7" cy="-58.6" r="1.5"/><circle cx="38.6" cy="-57.6" r="1.3"/><circle cx="42.9" cy="-51.5" r="1.6"/><circle cx="43.4" cy="-49.5" r="1"/><circle cx="45.2" cy="-45.9" r="0.9"/><circle cx="42.5" cy="-41.6" r="1"/><circle cx="44.3" cy="-37.6" r="1.3"/><circle cx="40.6" cy="-34.2" r="1.1"/><circle cx="46.8" cy="-30.3" r="0.7"/><circle cx="30.6" cy="-0" r="1.5"/><circle cx="34.6" cy="4.7" r="0.8"/><circle cx="37.8" cy="4.5" r="1.1"/><circle cx="40.7" cy="9.3" r="1.2"/><circle cx="43.7" cy="12.6" r="0.8"/><circle cx="45.8" cy="15.2" r="0.6"/><circle cx="47.7" cy="17.1" r="1.1"/><circle cx="46.7" cy="17.4" r="1.1"/><circle cx="-4.2" cy="32.6" r="0.8"/><circle cx="-8.6" cy="34.9" r="1.2"/><circle cx="-11.6" cy="38.3" r="1.3"/><circle cx="-12.1" cy="45" r="0.9"/><circle cx="-10.7" cy="46.9" r="1.6"/><circle cx="-11.7" cy="47.7" r="1.5"/><circle cx="-10.9" cy="50.7" r="1.6"/><circle cx="-7.8" cy="52.2" r="0.9"/><circle cx="-7.6" cy="56.9" r="1.2"/><circle cx="-3.9" cy="57.4" r="1.6"/><circle cx="56.3" cy="-11.4" r="1"/><circle cx="56.9" cy="-8.7" r="0.7"/><circle cx="56.8" cy="-7.3" r="1.5"/><circle cx="58" cy="-4.3" r="1.1"/><circle cx="57.7" cy="-3" r="0.9"/><circle cx="59.2" cy="4.2" r="0.9"/><circle cx="62" cy="7.2" r="0.9"/><circle cx="63.1" cy="6.3" r="0.8"/><circle cx="60.8" cy="10" r="1.2"/><circle cx="59" cy="12.7" r="1.1"/><circle cx="60" cy="13.9" r="0.8"/><circle cx="59.6" cy="16.6" r="1"/><circle cx="-60.3" cy="11.6" r="1"/><circle cx="-57.4" cy="11.4" r="1.1"/><circle cx="-54.9" cy="13" r="1.1"/><circle cx="-47" cy="20.2" r="1.4"/><circle cx="-47" cy="22" r="1.5"/><circle cx="-45.9" cy="24.6" r="1.3"/><circle cx="-46.6" cy="24.2" r="1.2"/><circle cx="-44.3" cy="24.6" r="1.5"/><circle cx="-43.3" cy="28.7" r="0.6"/><circle cx="-46.1" cy="30.4" r="1.4"/></g><circle cx="0" cy="0" r="91.3" fill="url(#sd)"/></g></g></g>
<polygon points="663.6,720.9 728.5,710.8 832.5,730.9 832.5,747.7 712.8,748.8 663.6,736.5" fill="url(#pf3)"/>
<polygon points="663.6,720.9 728.5,710.8 832.5,730.9 714.8,731.5" fill="url(#pt3)"/>
<polygon points="663.6,720.9 728.5,710.8 832.5,730.9 714.8,731.5" fill="url(#pa3)"/>
<polygon points="1040.6,673.9 1168.2,673.9 1229,689 1167.6,707.2 1170.5,1063.9 1045.8,1033" fill="#f0a30a"/>
<polygon points="1040.6,673.9 1168.2,673.9 1229,689 1166.6,705.2 1040.6,678.4" fill="#eb9f08"/>
<polygon points="1040.6,678.1 1166.6,705.2 1170.5,1063.9 1045.8,1033" fill="#f5a60a"/>
<polygon points="1041.7,751.8 1161.2,751.8 1163.2,989.8 1045.2,989.8" fill="#c98c14"/>
<polygon points="1166.6,705.2 1229,689 1232.5,1047.5 1170.5,1063.9" fill="url(#dk4)"/>
<polygon points="990.3,997.2 1045.1,983.8 1163.7,981.5 1163.7,1027.4 1046.2,1029.6 990.3,1015.1" fill="#0a0ae6"/>
<polygon points="1047.2,1010.7 1163.7,1007.5 1163.7,1027.4 1046.2,1029.6" fill="#1414cc"/>
<polygon points="990.3,997.2 1047.2,1010.7 1046.2,1029.6 990.3,1015.1" fill="#0c0cdc"/>
<g clip-path="url(#sc4)"><g clip-path="url(#scc4)"><g transform="translate(1100 869.6)"><circle cx="0" cy="0" r="91.3" fill="url(#sg)"/><circle cx="0" cy="0" r="90.3" fill="url(#sv)" filter="url(#haze)"/><g filter="url(#b15)" fill="#50b0ee" opacity="0.7"><circle cx="-71.9" cy="-4.6" r="1.8"/><circle cx="-66.5" cy="-5.1" r="1.6"/><circle cx="-67.6" cy="-11.7" r="2.8"/><circle cx="-63.3" cy="-6.8" r="2.8"/><circle cx="-60" cy="-15" r="2.5"/><circle cx="-57.5" cy="-16.5" r="2.9"/><circle cx="-57.9" cy="-15.4" r="1.6"/><circle cx="-55.9" cy="-14.3" r="1.4"/><circle cx="-53.9" cy="-16.6" r="2.7"/><circle cx="-52.9" cy="-17.8" r="2.5"/><circle cx="-50.3" cy="-22.4" r="2.6"/><circle cx="-43.8" cy="-22.7" r="2"/><circle cx="-44.8" cy="-24.7" r="1.7"/><circle cx="-41.8" cy="-34.8" r="2.9"/><circle cx="-40.4" cy="-25.9" r="2.6"/><circle cx="-36.5" cy="-29.7" r="2.8"/><circle cx="-32.1" cy="-26" r="1.9"/><circle cx="-27.8" cy="-26.9" r="2.9"/><circle cx="-28.2" cy="-23" r="1.7"/><circle cx="-23.5" cy="-20.3" r="3"/><circle cx="-16.6" cy="-20.6" r="2.3"/><circle cx="-25.5" cy="-39.2" r="2.6"/><circle cx="-20.8" cy="-42.3" r="2.1"/><circle cx="-17.3" cy="-44" r="2.1"/><circle cx="-8.9" cy="-46.4" r="2.2"/><circle cx="-2.7" cy="-44.3" r="2"/><circle cx="3.7" cy="-42" r="1.5"/><circle cx="-44.1" cy="-32.8" r="2"/><circle cx="-41.3" cy="-23.4" r="2.6"/><circle cx="-39.5" cy="-18.6" r="2.4"/><circle cx="-33.6" cy="-21" r="1.8"/><circle cx="-40.3" cy="-17" r="2.4"/><circle cx="-37.4" cy="-12.6" r="2.6"/><circle cx="-36.5" cy="-9.6" r="2.8"/><circle cx="-26.1" cy="-12.1" r="2.2"/><circle cx="-63.1" cy="-41.7" r="2.1"/><circle cx="-57" cy="-43.9" r="2.6"/><circle cx="-53.7" cy="-38.8" r="2.4"/><circle cx="-54.8" cy="-46" r="1.5"/><circle cx="-51.8" cy="-44" r="1.6"/><circle cx="-49.3" cy="-44.7" r="1.5"/><circle cx="-50.4" cy="-45.2" r="2.3"/><circle cx="-45.9" cy="-48.8" r="2"/><circle cx="-45" cy="-49.4" r="2.7"/><circle cx="-39.1" cy="-50.5" r="1.6"/><circle cx="-42.3" cy="-49.8" r="2.9"/><circle cx="-43.2" cy="-52" r="2.4"/><circle cx="-36" cy="-53.4" r="2.3"/><circle cx="-34.9" cy="-53" r="1.4"/><circle cx="-33" cy="-59.3" r="1.6"/><circle cx="-25.8" cy="-58.9" r="2.1"/><circle cx="-26.9" cy="-50.7" r="2"/><circle cx="-19.1" cy="-52.5" r="2.2"/><circle cx="-19.7" cy="-54.6" r="2.2"/><circle cx="-15.6" cy="-61.3" r="2.4"/><circle cx="-17.1" cy="-24" r="1.8"/><circle cx="-14.4" cy="-14.3" r="1.9"/><circle cx="-18.7" cy="-18.8" r="2.4"/><circle cx="-10.1" cy="-14.3" r="1.9"/><circle cx="-11" cy="-14.3" r="2.2"/><circle cx="-10.5" cy="-12.7" r="2.3"/><circle cx="-5.9" cy="-12.8" r="2.9"/><circle cx="0.9" cy="-11.9" r="2.1"/><circle cx="-1.6" cy="-12.6" r="2.2"/></g><g filter="url(#b15)" fill="#2cc48c" opacity="0.5"><circle cx="6.2" cy="-80.1" r="2"/><circle cx="8.8" cy="-76.4" r="2.6"/><circle cx="8.6" cy="-71.2" r="2.4"/><circle cx="14.1" cy="-70.4" r="1.5"/><circle cx="13.2" cy="-66.3" r="2.2"/><circle cx="9.1" cy="-66.6" r="2.3"/><circle cx="9" cy="-66.7" r="1.6"/><circle cx="9" cy="-60.1" r="1.7"/><circle cx="11.5" cy="-60" r="2.5"/><circle cx="14.6" cy="-54.9" r="1.8"/><circle cx="14.8" cy="-49.9" r="1.4"/><circle cx="19.5" cy="-52.2" r="2.9"/><circle cx="20.8" cy="-52.5" r="3"/><circle cx="23.4" cy="-53.9" r="2.4"/><circle cx="25" cy="-48.9" r="2.4"/><circle cx="25.1" cy="-47" r="2.7"/><circle cx="26.2" cy="-46.3" r="2.8"/><circle cx="24.5" cy="-42.9" r="2.6"/><circle cx="25.4" cy="-38.3" r="1.7"/><circle cx="26.2" cy="-36.5" r="2.6"/><circle cx="19" cy="-31.7" r="2.4"/><circle cx="20.5" cy="-29.1" r="1.6"/><circle cx="20.6" cy="-26.2" r="2.8"/><circle cx="21.4" cy="-24.2" r="1.7"/><circle cx="22.2" cy="-21.8" r="1.5"/><circle cx="23.1" cy="-21.5" r="2.5"/><circle cx="20.4" cy="-18" r="2.5"/><circle cx="15.2" cy="-19.9" r="1.7"/><circle cx="15.5" cy="-15.1" r="1.5"/><circle cx="13.8" cy="-14.9" r="1.9"/><circle cx="9.6" cy="-10.5" r="2.5"/><circle cx="9.3" cy="-8.6" r="2.9"/><circle cx="2.8" cy="-7.9" r="1.4"/><circle cx="6" cy="-11.4" r="1.5"/><circle cx="6.5" cy="-8.7" r="2"/><circle cx="6.8" cy="-5.7" r="2.2"/><circle cx="2.7" cy="-3.7" r="2"/><circle cx="3.8" cy="-0.3" r="1.9"/><circle cx="8.7" cy="1.4" r="1.7"/><circle cx="3.6" cy="3.6" r="1.5"/><circle cx="8.1" cy="6.8" r="2.9"/><circle cx="8.8" cy="7.2" r="1.4"/><circle cx="6.9" cy="11.5" r="2"/><circle cx="8.4" cy="10.7" r="1.9"/><circle cx="11.3" cy="15.3" r="1.6"/><circle cx="14.5" cy="20.3" r="2.7"/><circle cx="14.1" cy="21.2" r="1.8"/><circle cx="13.9" cy="22.6" r="1.8"/><circle cx="18.5" cy="22.6" r="1.7"/><circle cx="20" cy="26.1" r="2.1"/><circle cx="23.5" cy="24.1" r="2.8"/><circle cx="26.6" cy="24.6" r="2.1"/><circle cx="31.3" cy="31.1" r="2.5"/><circle cx="29.6" cy="33.1" r="1.6"/><circle cx="21.5" cy="-21.6" r="1.9"/><circle cx="23.2" cy="-24.1" r="2.6"/><circle cx="27.9" cy="-21.2" r="2.5"/><circle cx="33.9" cy="-19.9" r="1.6"/><circle cx="35.2" cy="-18" r="2.1"/><circle cx="35.5" cy="-23.3" r="2.3"/><circle cx="40.7" cy="-21.2" r="2.1"/><circle cx="41.1" cy="-24.1" r="2.3"/><circle cx="43.7" cy="-27" r="1.7"/><circle cx="45.4" cy="-24.2" r="2"/><circle cx="47" cy="-25.9" r="1.8"/><circle cx="52.1" cy="-22.6" r="2.7"/><circle cx="55.7" cy="-22" r="1.6"/><circle cx="55.7" cy="-20.2" r="2.7"/><circle cx="54.7" cy="-20.4" r="2.4"/><circle cx="15.7" cy="-53.6" r="2"/><circle cx="15.8" cy="-56.2" r="3"/><circle cx="21.9" cy="-57.7" r="2.7"/><circle cx="20.2" cy="-59.8" r="2.2"/><circle cx="22.6" cy="-60.5" r="2"/><circle cx="22.5" cy="-66.4" r="1.9"/><circle cx="23.9" cy="-69.1" r="2.6"/><circle cx="29" cy="-71.8" r="2.5"/><circle cx="7.2" cy="17.7" r="2"/><circle cx="2.5" cy="16.6" r="2.9"/><circle cx="2.7" cy="23.5" r="2.5"/><circle cx="1.6" cy="24.3" r="2.8"/><circle cx="1.4" cy="31.1" r="2.4"/><circle cx="3.2" cy="34.1" r="1.8"/><circle cx="22.7" cy="-42.3" r="1.9"/><circle cx="25.8" cy="-45.3" r="1.7"/><circle cx="33.7" cy="-42.8" r="2.4"/><circle cx="35.8" cy="-41.2" r="2.4"/><circle cx="37.9" cy="-44.6" r="2.2"/><circle cx="45.5" cy="-52.1" r="2.9"/><circle cx="-25.7" cy="-12.1" r="2.4"/><circle cx="-30.2" cy="-4.9" r="1.7"/><circle cx="-34.2" cy="-2.3" r="2.6"/><circle cx="-35.1" cy="0.1" r="2"/><circle cx="-32.6" cy="-0.6" r="2.5"/><circle cx="-25.9" cy="1.7" r="1.5"/><circle cx="-28.1" cy="2.4" r="1.6"/><circle cx="-28" cy="8.1" r="2.9"/><circle cx="-25.6" cy="8.7" r="2.5"/><circle cx="-25.1" cy="6.6" r="1.9"/><circle cx="-19.1" cy="8.2" r="1.8"/><circle cx="-20.4" cy="10.8" r="1.6"/><circle cx="-19.5" cy="12.6" r="2"/><circle cx="-24.7" cy="20.7" r="1.4"/><circle cx="-23.3" cy="19.3" r="1.8"/><circle cx="-24.7" cy="21.5" r="1.5"/><circle cx="-22" cy="20.4" r="2.2"/><circle cx="-25.9" cy="3.9" r="2.3"/><circle cx="-21.1" cy="1" r="1.4"/><circle cx="-20.5" cy="3" r="2.7"/><circle cx="-9.7" cy="-2.2" r="2.8"/><circle cx="-11.2" cy="-6.2" r="3"/><circle cx="-23.4" cy="23.3" r="1.5"/><circle cx="-21.8" cy="22.8" r="1.7"/><circle cx="-24" cy="24.2" r="2.4"/><circle cx="-27.7" cy="35.2" r="2.9"/><circle cx="-29.2" cy="35.7" r="1.8"/><circle cx="-30.6" cy="39.5" r="1.6"/><circle cx="-24.9" cy="40.5" r="1.5"/><circle cx="-28.3" cy="43.2" r="2"/><circle cx="-50.9" cy="-23.3" r="2.2"/><circle cx="-49.1" cy="-20.6" r="2.1"/><circle cx="-56" cy="-21.2" r="1.5"/><circle cx="-52.2" cy="-16.7" r="2"/><circle cx="-54.9" cy="-13.2" r="2.4"/><circle cx="-58.4" cy="-11.8" r="2.9"/><circle cx="-58.5" cy="-3.1" r="1.5"/><circle cx="-63.3" cy="-7.4" r="2"/><circle cx="-9.5" cy="-70.1" r="1.5"/><circle cx="-12" cy="-69.2" r="2.9"/><circle cx="-13.4" cy="-65" r="2.6"/><circle cx="-12.2" cy="-68" r="2"/><circle cx="-14" cy="-62" r="2.8"/><circle cx="-14.2" cy="-61.9" r="1.6"/><circle cx="-16.4" cy="-61.4" r="1.4"/><circle cx="-17.2" cy="-59.4" r="2.8"/><circle cx="-20.8" cy="-56.5" r="2.6"/><circle cx="-19.9" cy="-55.1" r="2.9"/><circle cx="-15.3" cy="-51.5" r="1.5"/><circle cx="-19.5" cy="-50.1" r="2.8"/><circle cx="-13.9" cy="-47.8" r="2.7"/><circle cx="-15.1" cy="-48.6" r="1.9"/><circle cx="-14" cy="-47.6" r="2.8"/><circle cx="-12.3" cy="-42.7" r="1.8"/><circle cx="-46.7" cy="-56.9" r="1.6"/><circle cx="-45.5" cy="-55.9" r="2.3"/><circle cx="-43.4" cy="-47.9" r="2.3"/><circle cx="-42" cy="-48" r="2.7"/><circle cx="-36.5" cy="-42.7" r="2"/><circle cx="-37.8" cy="-40.1" r="2.9"/><circle cx="-37.6" cy="-36.6" r="1.6"/><circle cx="-38.5" cy="-33.9" r="1.5"/><circle cx="32.9" cy="-60.1" r="1.5"/><circle cx="38.1" cy="-55.7" r="2.7"/><circle cx="38.8" cy="-53.8" r="1.8"/><circle cx="36.9" cy="-53.3" r="1.6"/><circle cx="44.1" cy="-53.1" r="2.1"/><circle cx="42.2" cy="-50.7" r="2.3"/><circle cx="45.8" cy="-48.1" r="2.1"/><circle cx="40.4" cy="-47.5" r="2.1"/><circle cx="40.1" cy="-43.7" r="2"/><circle cx="44.2" cy="-41.6" r="2.7"/><circle cx="42.1" cy="-37.8" r="2.9"/><circle cx="36.2" cy="-34.6" r="2.3"/><circle cx="42" cy="-31.3" r="1.8"/><circle cx="44.3" cy="-33.9" r="1.6"/><circle cx="46.1" cy="-32.9" r="1.6"/><circle cx="32.7" cy="1.6" r="2.3"/><circle cx="34.4" cy="6.3" r="2.6"/><circle cx="38.8" cy="4.4" r="2.3"/><circle cx="38.3" cy="8.3" r="2.9"/><circle cx="41.6" cy="12.7" r="1.6"/><circle cx="40.6" cy="13.5" r="1.6"/><circle cx="46.3" cy="9.6" r="1.4"/><circle cx="49.6" cy="14" r="2.1"/><circle cx="47.7" cy="22.5" r="2.2"/><circle cx="-4.5" cy="26.6" r="1.5"/><circle cx="-7.3" cy="31.7" r="1.7"/><circle cx="-8.2" cy="34.8" r="2"/><circle cx="-9.5" cy="40.6" r="1.4"/><circle cx="-12.5" cy="39.8" r="2.2"/><circle cx="-12" cy="45.9" r="2"/><circle cx="-11.9" cy="43.1" r="2.5"/><circle cx="-10.7" cy="51.8" r="1.6"/><circle cx="-5.9" cy="52" r="1.6"/><circle cx="-9" cy="55.5" r="2.2"/><circle cx="55.7" cy="-15.2" r="2.4"/><circle cx="60.8" cy="-13.2" r="1.7"/><circle cx="56.6" cy="-6.6" r="2"/><circle cx="58.1" cy="-5.2" r="2.1"/><circle cx="58.9" cy="-5.1" r="1.7"/><circle cx="61.3" cy="4.8" r="2.1"/><circle cx="64" cy="5.3" r="2.6"/><circle cx="63.6" cy="4.9" r="2.6"/><circle cx="59.9" cy="14.4" r="2.5"/><circle cx="58.3" cy="16.5" r="1.9"/><circle cx="57.4" cy="15.3" r="1.7"/><circle cx="-60.1" cy="10.2" r="1.6"/><circle cx="-56.7" cy="11.9" r="2.3"/><circle cx="-47.3" cy="17.7" r="1.6"/><circle cx="-45.7" cy="22.6" r="2.6"/><circle cx="-46.8" cy="23.5" r="2.9"/><circle cx="-46.5" cy="28.3" r="2.1"/></g><g filter="url(#b07)" fill="#52e434" opacity="0.95"><circle cx="5" cy="-80.2" r="1.9"/><circle cx="5.7" cy="-79.9" r="1.9"/><circle cx="6.9" cy="-76.6" r="1.1"/><circle cx="8.5" cy="-74.2" r="1.9"/><circle cx="8.8" cy="-73.4" r="1.6"/><circle cx="10.7" cy="-72.4" r="1.3"/><circle cx="11.6" cy="-68.7" r="1.5"/><circle cx="9.7" cy="-68.2" r="0.8"/><circle cx="10.3" cy="-69.6" r="0.8"/><circle cx="9.4" cy="-66.4" r="1.6"/><circle cx="8.4" cy="-64.3" r="1.2"/><circle cx="7.9" cy="-63.4" r="1.9"/><circle cx="11.1" cy="-62.6" r="1.4"/><circle cx="11.3" cy="-61.2" r="1.9"/><circle cx="13" cy="-62" r="2"/><circle cx="15.4" cy="-61" r="0.9"/><circle cx="14" cy="-58.1" r="1.1"/><circle cx="12.2" cy="-54.2" r="1.3"/><circle cx="13.4" cy="-54.6" r="1.6"/><circle cx="16.4" cy="-53.5" r="1.8"/><circle cx="18.7" cy="-52.9" r="1.5"/><circle cx="22.1" cy="-53.9" r="1.1"/><circle cx="22.5" cy="-53.4" r="2"/><circle cx="22.2" cy="-51.5" r="1.4"/><circle cx="23.5" cy="-47" r="1.8"/><circle cx="23.1" cy="-48.4" r="0.9"/><circle cx="24.5" cy="-47" r="1"/><circle cx="27.2" cy="-43.7" r="1.7"/><circle cx="26.5" cy="-41" r="1.1"/><circle cx="27" cy="-38.5" r="1.4"/><circle cx="25.4" cy="-36.3" r="1.9"/><circle cx="25.5" cy="-38.6" r="1.5"/><circle cx="24.9" cy="-35.1" r="0.8"/><circle cx="24.1" cy="-33.2" r="0.8"/><circle cx="21.8" cy="-30.1" r="1.4"/><circle cx="20.6" cy="-29.8" r="1.2"/><circle cx="20.4" cy="-29" r="1.8"/><circle cx="22.1" cy="-25.7" r="1.5"/><circle cx="23.8" cy="-24.1" r="1"/><circle cx="22.3" cy="-23.4" r="1.1"/><circle cx="22.8" cy="-18.9" r="0.9"/><circle cx="21" cy="-21.4" r="1.4"/><circle cx="19.1" cy="-18.4" r="1"/><circle cx="17.6" cy="-17.4" r="1.7"/><circle cx="15.6" cy="-16.4" r="1.9"/><circle cx="14.2" cy="-16.4" r="1.6"/><circle cx="14" cy="-14.2" r="1.5"/><circle cx="13.3" cy="-12.8" r="1.5"/><circle cx="12.3" cy="-11.6" r="0.7"/><circle cx="8.6" cy="-11.4" r="1.1"/><circle cx="5.4" cy="-8.7" r="0.8"/><circle cx="5.5" cy="-10.3" r="0.7"/><circle cx="4" cy="-6.3" r="1.3"/><circle cx="2.2" cy="-7.1" r="0.9"/><circle cx="1.7" cy="-7.6" r="1.5"/><circle cx="5.2" cy="-5.3" r="0.8"/><circle cx="4.3" cy="-3.3" r="1.7"/><circle cx="4.4" cy="-1.1" r="1.6"/><circle cx="4.8" cy="2.5" r="1"/><circle cx="4.7" cy="5.4" r="1.8"/><circle cx="4.4" cy="7.2" r="1.7"/><circle cx="4" cy="9.2" r="1.3"/><circle cx="8" cy="10" r="1.7"/><circle cx="8.8" cy="11.6" r="1.5"/><circle cx="9.4" cy="14.2" r="1.4"/><circle cx="10.5" cy="13.4" r="1.8"/><circle cx="12.6" cy="20.6" r="2"/><circle cx="15.1" cy="23.1" r="1.4"/><circle cx="15.9" cy="21" r="1.7"/><circle cx="18.6" cy="23.6" r="1.5"/><circle cx="22.4" cy="23.4" r="1.4"/><circle cx="23.8" cy="26.3" r="1.1"/><circle cx="24.7" cy="23.9" r="1.6"/><circle cx="26.4" cy="25.1" r="1.2"/><circle cx="26.5" cy="26.9" r="0.9"/><circle cx="26" cy="31.2" r="2"/><circle cx="26.2" cy="33.2" r="1.6"/><circle cx="28.6" cy="35.5" r="1.1"/><circle cx="22.9" cy="-24.1" r="0.7"/><circle cx="22.3" cy="-21.4" r="2"/><circle cx="27.2" cy="-21.6" r="1.1"/><circle cx="26.3" cy="-20.6" r="1.3"/><circle cx="29.9" cy="-21.2" r="1.1"/><circle cx="29.8" cy="-18.6" r="0.8"/><circle cx="32.1" cy="-18.4" r="1.4"/><circle cx="31.5" cy="-18.8" r="1.2"/><circle cx="34" cy="-16.9" r="1.3"/><circle cx="35" cy="-19.5" r="1"/><circle cx="37" cy="-19.8" r="1.9"/><circle cx="40.1" cy="-21.3" r="1.9"/><circle cx="40.2" cy="-22.5" r="0.8"/><circle cx="48.1" cy="-26.3" r="1.9"/><circle cx="49.6" cy="-26.9" r="0.8"/><circle cx="51.3" cy="-25.4" r="2"/><circle cx="53.9" cy="-24.6" r="2"/><circle cx="55.7" cy="-20.2" r="2.1"/><circle cx="56.3" cy="-17.8" r="2"/><circle cx="55.4" cy="-15.1" r="1.6"/><circle cx="56.4" cy="-12.7" r="1.2"/><circle cx="16.3" cy="-57.1" r="0.7"/><circle cx="21.2" cy="-54.4" r="1.8"/><circle cx="21.4" cy="-55.5" r="1.3"/><circle cx="23" cy="-56.9" r="0.8"/><circle cx="22.4" cy="-62.1" r="1.8"/><circle cx="24.5" cy="-62.3" r="2"/><circle cx="23.3" cy="-65.6" r="1.6"/><circle cx="24.3" cy="-66.6" r="1.6"/><circle cx="23.7" cy="-68.8" r="1.4"/><circle cx="27.3" cy="-74.3" r="1.6"/><circle cx="27.9" cy="-75" r="1"/><circle cx="10.5" cy="14.8" r="1.2"/><circle cx="7.7" cy="14.4" r="1.7"/><circle cx="8.9" cy="18" r="1.5"/><circle cx="6.6" cy="21.3" r="1.6"/><circle cx="7" cy="21.9" r="1.1"/><circle cx="4.6" cy="20.9" r="1.1"/><circle cx="5" cy="22.8" r="1.4"/><circle cx="2.4" cy="23.9" r="0.8"/><circle cx="0.8" cy="25.3" r="2.1"/><circle cx="4.8" cy="25.2" r="1.4"/><circle cx="3.2" cy="29.3" r="1.8"/><circle cx="6.6" cy="32.6" r="1.4"/><circle cx="4.3" cy="32.2" r="1.5"/><circle cx="7" cy="35.6" r="1.2"/><circle cx="7" cy="34.7" r="1.8"/><circle cx="7.3" cy="39.4" r="1"/><circle cx="27.2" cy="-41.7" r="1.7"/><circle cx="27.2" cy="-42.4" r="1"/><circle cx="27.7" cy="-43.7" r="1.5"/><circle cx="30.1" cy="-43.4" r="1.3"/><circle cx="32" cy="-43.1" r="0.8"/><circle cx="32.7" cy="-41.9" r="1.6"/><circle cx="35.3" cy="-44.8" r="1.2"/><circle cx="36" cy="-44.9" r="1.9"/><circle cx="36.1" cy="-44.4" r="1.9"/><circle cx="39.6" cy="-46" r="2"/><circle cx="39.6" cy="-46.8" r="2.1"/><circle cx="41" cy="-46.2" r="1.7"/><circle cx="42.8" cy="-48" r="1"/><circle cx="44.7" cy="-50.3" r="1"/><circle cx="46" cy="-50.8" r="2"/></g><g filter="url(#b07)" fill="#3cd080" opacity="0.7"><circle cx="-29.8" cy="-8.7" r="0.7"/><circle cx="-31.7" cy="-9" r="1.2"/><circle cx="-32.2" cy="-7.4" r="1.2"/><circle cx="-32.2" cy="-4" r="0.7"/><circle cx="-28.9" cy="1.8" r="1.5"/><circle cx="-24.8" cy="7" r="1.3"/><circle cx="-25" cy="7.2" r="1.5"/><circle cx="-22.6" cy="9.4" r="1.6"/><circle cx="-21.4" cy="8.4" r="1"/><circle cx="-21.3" cy="6.8" r="1.2"/><circle cx="-21" cy="11.7" r="1"/><circle cx="-22.1" cy="15" r="0.9"/><circle cx="-23.9" cy="20.9" r="1"/><circle cx="-23.4" cy="21.7" r="0.8"/><circle cx="-25.9" cy="6.2" r="1"/><circle cx="-24.6" cy="3.1" r="1.4"/><circle cx="-18.9" cy="-0.2" r="1.5"/><circle cx="-16.1" cy="0.8" r="1.5"/><circle cx="-14.8" cy="-0.2" r="1.4"/><circle cx="-11.4" cy="-3.3" r="1"/><circle cx="-11.6" cy="-3.2" r="1"/><circle cx="-8.7" cy="-6.3" r="1.5"/><circle cx="-27" cy="21.7" r="1.2"/><circle cx="-27.6" cy="25.5" r="1.1"/><circle cx="-29.7" cy="38.2" r="1.4"/><circle cx="-29.7" cy="40" r="0.9"/><circle cx="-27.7" cy="42.7" r="0.8"/><circle cx="-28.9" cy="42.7" r="1.4"/><circle cx="-26.8" cy="43.7" r="1.3"/><circle cx="-28" cy="46.9" r="1"/><circle cx="-50.6" cy="-23.1" r="0.8"/><circle cx="-53.6" cy="-20.7" r="1.5"/><circle cx="-54.3" cy="-18.7" r="1.1"/><circle cx="-55.5" cy="-17.7" r="1.3"/><circle cx="-58.5" cy="-11.2" r="1.2"/><circle cx="-59" cy="-10.4" r="0.8"/><circle cx="-57.2" cy="-9.4" r="0.9"/><circle cx="-61" cy="-6.8" r="0.9"/><circle cx="-64.2" cy="-3.9" r="1.5"/><circle cx="-66.6" cy="-3.3" r="1.3"/><circle cx="-10.8" cy="-71.8" r="0.8"/><circle cx="-11.9" cy="-66.7" r="1"/><circle cx="-12.8" cy="-68.7" r="0.8"/><circle cx="-13.4" cy="-61" r="1.5"/><circle cx="-15.2" cy="-58" r="1.3"/><circle cx="-15.1" cy="-55.7" r="1.5"/><circle cx="-18.4" cy="-55.3" r="1.6"/><circle cx="-18" cy="-52.9" r="1.1"/><circle cx="-13.2" cy="-47.5" r="1.3"/><circle cx="-11.5" cy="-45" r="1"/><circle cx="-12.2" cy="-42.2" r="1.4"/><circle cx="-44.1" cy="-56.5" r="0.7"/><circle cx="-44.6" cy="-55" r="1.5"/><circle cx="-43.8" cy="-51" r="1.1"/><circle cx="-41" cy="-49.5" r="1.5"/><circle cx="-40.1" cy="-47.9" r="0.8"/><circle cx="-37" cy="-41.4" r="1.1"/><circle cx="-35" cy="-42.1" r="1.1"/><circle cx="-37.6" cy="-37.3" r="1.6"/><circle cx="-38.9" cy="-33.7" r="1.2"/><circle cx="-39.9" cy="-34.6" r="1.4"/><circle cx="-39.6" cy="-32.8" r="0.8"/><circle cx="-39.4" cy="-28.9" r="1.6"/><circle cx="36.4" cy="-61.6" r="1.2"/><circle cx="39.2" cy="-61.2" r="1.3"/><circle cx="37.7" cy="-58.6" r="1.5"/><circle cx="38.6" cy="-57.6" r="1.3"/><circle cx="42.9" cy="-51.5" r="1.6"/><circle cx="43.4" cy="-49.5" r="1"/><circle cx="45.2" cy="-45.9" r="0.9"/><circle cx="42.5" cy="-41.6" r="1"/><circle cx="44.3" cy="-37.6" r="1.3"/><circle cx="40.6" cy="-34.2" r="1.1"/><circle cx="46.8" cy="-30.3" r="0.7"/><circle cx="30.6" cy="-0" r="1.5"/><circle cx="34.6" cy="4.7" r="0.8"/><circle cx="37.8" cy="4.5" r="1.1"/><circle cx="40.7" cy="9.3" r="1.2"/><circle cx="43.7" cy="12.6" r="0.8"/><circle cx="45.8" cy="15.2" r="0.6"/><circle cx="47.7" cy="17.1" r="1.1"/><circle cx="46.7" cy="17.4" r="1.1"/><circle cx="-4.2" cy="32.6" r="0.8"/><circle cx="-8.6" cy="34.9" r="1.2"/><circle cx="-11.6" cy="38.3" r="1.3"/><circle cx="-12.1" cy="45" r="0.9"/><circle cx="-10.7" cy="46.9" r="1.6"/><circle cx="-11.7" cy="47.7" r="1.5"/><circle cx="-10.9" cy="50.7" r="1.6"/><circle cx="-7.8" cy="52.2" r="0.9"/><circle cx="-7.6" cy="56.9" r="1.2"/><circle cx="-3.9" cy="57.4" r="1.6"/><circle cx="56.3" cy="-11.4" r="1"/><circle cx="56.9" cy="-8.7" r="0.7"/><circle cx="56.8" cy="-7.3" r="1.5"/><circle cx="58" cy="-4.3" r="1.1"/><circle cx="57.7" cy="-3" r="0.9"/><circle cx="59.2" cy="4.2" r="0.9"/><circle cx="62" cy="7.2" r="0.9"/><circle cx="63.1" cy="6.3" r="0.8"/><circle cx="60.8" cy="10" r="1.2"/><circle cx="59" cy="12.7" r="1.1"/><circle cx="60" cy="13.9" r="0.8"/><circle cx="59.6" cy="16.6" r="1"/><circle cx="-60.3" cy="11.6" r="1"/><circle cx="-57.4" cy="11.4" r="1.1"/><circle cx="-54.9" cy="13" r="1.1"/><circle cx="-47" cy="20.2" r="1.4"/><circle cx="-47" cy="22" r="1.5"/><circle cx="-45.9" cy="24.6" r="1.3"/><circle cx="-46.6" cy="24.2" r="1.2"/><circle cx="-44.3" cy="24.6" r="1.5"/><circle cx="-43.3" cy="28.7" r="0.6"/><circle cx="-46.1" cy="30.4" r="1.4"/></g><circle cx="0" cy="0" r="91.3" fill="url(#sd)"/></g></g></g>
<polygon points="986.9,727.6 1041.8,711.5 1160.4,737.6 1160.4,756.7 1048.5,757.8 986.9,743.2" fill="url(#pf4)"/>
<polygon points="986.9,727.6 1041.8,711.5 1160.4,737.6 1050.5,738.2" fill="url(#pt4)"/>
<polygon points="986.9,727.6 1041.8,711.5 1160.4,737.6 1050.5,738.2" fill="url(#pa4)"/>
<polygon points="1361.8,673.9 1488.3,673.9 1550.5,687.7 1489.3,706 1491,1064.3 1365.4,1035.2" fill="#f0a30a"/>
<polygon points="1361.8,673.9 1488.3,673.9 1550.5,687.7 1488.3,704 1361.8,678.4" fill="#eb9f08"/>
<polygon points="1361.8,678.1 1488.3,704 1491,1064.3 1365.4,1035.2" fill="#f5a60a"/>
<polygon points="1362.6,751.8 1482.8,751.8 1484.8,990.9 1365,990.9" fill="#c98c14"/>
<polygon points="1488.3,704 1550.5,687.7 1553.6,1048.2 1491,1064.3" fill="url(#dk5)"/>
<polygon points="1311.5,998.3 1365.2,984.9 1484.5,981.5 1484.5,1027.4 1365.2,1029.6 1311.5,1016.2" fill="#0a0ae6"/>
<polygon points="1366.2,1010.7 1484.5,1007.5 1484.5,1027.4 1365.2,1029.6" fill="#1414cc"/>
<polygon points="1311.5,998.3 1366.2,1010.7 1365.2,1029.6 1311.5,1016.2" fill="#0c0cdc"/>
<g clip-path="url(#sc5)"><g clip-path="url(#scc5)"><g transform="translate(1419.5 880.3)"><circle cx="0" cy="0" r="91.3" fill="url(#sg)"/><circle cx="0" cy="0" r="90.3" fill="url(#sv)" filter="url(#haze)"/><g filter="url(#b15)" fill="#50b0ee" opacity="0.7"><circle cx="-71.9" cy="-4.6" r="1.8"/><circle cx="-66.5" cy="-5.1" r="1.6"/><circle cx="-67.6" cy="-11.7" r="2.8"/><circle cx="-63.3" cy="-6.8" r="2.8"/><circle cx="-60" cy="-15" r="2.5"/><circle cx="-57.5" cy="-16.5" r="2.9"/><circle cx="-57.9" cy="-15.4" r="1.6"/><circle cx="-55.9" cy="-14.3" r="1.4"/><circle cx="-53.9" cy="-16.6" r="2.7"/><circle cx="-52.9" cy="-17.8" r="2.5"/><circle cx="-50.3" cy="-22.4" r="2.6"/><circle cx="-43.8" cy="-22.7" r="2"/><circle cx="-44.8" cy="-24.7" r="1.7"/><circle cx="-41.8" cy="-34.8" r="2.9"/><circle cx="-40.4" cy="-25.9" r="2.6"/><circle cx="-36.5" cy="-29.7" r="2.8"/><circle cx="-32.1" cy="-26" r="1.9"/><circle cx="-27.8" cy="-26.9" r="2.9"/><circle cx="-28.2" cy="-23" r="1.7"/><circle cx="-23.5" cy="-20.3" r="3"/><circle cx="-16.6" cy="-20.6" r="2.3"/><circle cx="-25.5" cy="-39.2" r="2.6"/><circle cx="-20.8" cy="-42.3" r="2.1"/><circle cx="-17.3" cy="-44" r="2.1"/><circle cx="-8.9" cy="-46.4" r="2.2"/><circle cx="-2.7" cy="-44.3" r="2"/><circle cx="3.7" cy="-42" r="1.5"/><circle cx="-44.1" cy="-32.8" r="2"/><circle cx="-41.3" cy="-23.4" r="2.6"/><circle cx="-39.5" cy="-18.6" r="2.4"/><circle cx="-33.6" cy="-21" r="1.8"/><circle cx="-40.3" cy="-17" r="2.4"/><circle cx="-37.4" cy="-12.6" r="2.6"/><circle cx="-36.5" cy="-9.6" r="2.8"/><circle cx="-26.1" cy="-12.1" r="2.2"/><circle cx="-63.1" cy="-41.7" r="2.1"/><circle cx="-57" cy="-43.9" r="2.6"/><circle cx="-53.7" cy="-38.8" r="2.4"/><circle cx="-54.8" cy="-46" r="1.5"/><circle cx="-51.8" cy="-44" r="1.6"/><circle cx="-49.3" cy="-44.7" r="1.5"/><circle cx="-50.4" cy="-45.2" r="2.3"/><circle cx="-45.9" cy="-48.8" r="2"/><circle cx="-45" cy="-49.4" r="2.7"/><circle cx="-39.1" cy="-50.5" r="1.6"/><circle cx="-42.3" cy="-49.8" r="2.9"/><circle cx="-43.2" cy="-52" r="2.4"/><circle cx="-36" cy="-53.4" r="2.3"/><circle cx="-34.9" cy="-53" r="1.4"/><circle cx="-33" cy="-59.3" r="1.6"/><circle cx="-25.8" cy="-58.9" r="2.1"/><circle cx="-26.9" cy="-50.7" r="2"/><circle cx="-19.1" cy="-52.5" r="2.2"/><circle cx="-19.7" cy="-54.6" r="2.2"/><circle cx="-15.6" cy="-61.3" r="2.4"/><circle cx="-17.1" cy="-24" r="1.8"/><circle cx="-14.4" cy="-14.3" r="1.9"/><circle cx="-18.7" cy="-18.8" r="2.4"/><circle cx="-10.1" cy="-14.3" r="1.9"/><circle cx="-11" cy="-14.3" r="2.2"/><circle cx="-10.5" cy="-12.7" r="2.3"/><circle cx="-5.9" cy="-12.8" r="2.9"/><circle cx="0.9" cy="-11.9" r="2.1"/><circle cx="-1.6" cy="-12.6" r="2.2"/></g><g filter="url(#b15)" fill="#2cc48c" opacity="0.5"><circle cx="6.2" cy="-80.1" r="2"/><circle cx="8.8" cy="-76.4" r="2.6"/><circle cx="8.6" cy="-71.2" r="2.4"/><circle cx="14.1" cy="-70.4" r="1.5"/><circle cx="13.2" cy="-66.3" r="2.2"/><circle cx="9.1" cy="-66.6" r="2.3"/><circle cx="9" cy="-66.7" r="1.6"/><circle cx="9" cy="-60.1" r="1.7"/><circle cx="11.5" cy="-60" r="2.5"/><circle cx="14.6" cy="-54.9" r="1.8"/><circle cx="14.8" cy="-49.9" r="1.4"/><circle cx="19.5" cy="-52.2" r="2.9"/><circle cx="20.8" cy="-52.5" r="3"/><circle cx="23.4" cy="-53.9" r="2.4"/><circle cx="25" cy="-48.9" r="2.4"/><circle cx="25.1" cy="-47" r="2.7"/><circle cx="26.2" cy="-46.3" r="2.8"/><circle cx="24.5" cy="-42.9" r="2.6"/><circle cx="25.4" cy="-38.3" r="1.7"/><circle cx="26.2" cy="-36.5" r="2.6"/><circle cx="19" cy="-31.7" r="2.4"/><circle cx="20.5" cy="-29.1" r="1.6"/><circle cx="20.6" cy="-26.2" r="2.8"/><circle cx="21.4" cy="-24.2" r="1.7"/><circle cx="22.2" cy="-21.8" r="1.5"/><circle cx="23.1" cy="-21.5" r="2.5"/><circle cx="20.4" cy="-18" r="2.5"/><circle cx="15.2" cy="-19.9" r="1.7"/><circle cx="15.5" cy="-15.1" r="1.5"/><circle cx="13.8" cy="-14.9" r="1.9"/><circle cx="9.6" cy="-10.5" r="2.5"/><circle cx="9.3" cy="-8.6" r="2.9"/><circle cx="2.8" cy="-7.9" r="1.4"/><circle cx="6" cy="-11.4" r="1.5"/><circle cx="6.5" cy="-8.7" r="2"/><circle cx="6.8" cy="-5.7" r="2.2"/><circle cx="2.7" cy="-3.7" r="2"/><circle cx="3.8" cy="-0.3" r="1.9"/><circle cx="8.7" cy="1.4" r="1.7"/><circle cx="3.6" cy="3.6" r="1.5"/><circle cx="8.1" cy="6.8" r="2.9"/><circle cx="8.8" cy="7.2" r="1.4"/><circle cx="6.9" cy="11.5" r="2"/><circle cx="8.4" cy="10.7" r="1.9"/><circle cx="11.3" cy="15.3" r="1.6"/><circle cx="14.5" cy="20.3" r="2.7"/><circle cx="14.1" cy="21.2" r="1.8"/><circle cx="13.9" cy="22.6" r="1.8"/><circle cx="18.5" cy="22.6" r="1.7"/><circle cx="20" cy="26.1" r="2.1"/><circle cx="23.5" cy="24.1" r="2.8"/><circle cx="26.6" cy="24.6" r="2.1"/><circle cx="31.3" cy="31.1" r="2.5"/><circle cx="29.6" cy="33.1" r="1.6"/><circle cx="21.5" cy="-21.6" r="1.9"/><circle cx="23.2" cy="-24.1" r="2.6"/><circle cx="27.9" cy="-21.2" r="2.5"/><circle cx="33.9" cy="-19.9" r="1.6"/><circle cx="35.2" cy="-18" r="2.1"/><circle cx="35.5" cy="-23.3" r="2.3"/><circle cx="40.7" cy="-21.2" r="2.1"/><circle cx="41.1" cy="-24.1" r="2.3"/><circle cx="43.7" cy="-27" r="1.7"/><circle cx="45.4" cy="-24.2" r="2"/><circle cx="47" cy="-25.9" r="1.8"/><circle cx="52.1" cy="-22.6" r="2.7"/><circle cx="55.7" cy="-22" r="1.6"/><circle cx="55.7" cy="-20.2" r="2.7"/><circle cx="54.7" cy="-20.4" r="2.4"/><circle cx="15.7" cy="-53.6" r="2"/><circle cx="15.8" cy="-56.2" r="3"/><circle cx="21.9" cy="-57.7" r="2.7"/><circle cx="20.2" cy="-59.8" r="2.2"/><circle cx="22.6" cy="-60.5" r="2"/><circle cx="22.5" cy="-66.4" r="1.9"/><circle cx="23.9" cy="-69.1" r="2.6"/><circle cx="29" cy="-71.8" r="2.5"/><circle cx="7.2" cy="17.7" r="2"/><circle cx="2.5" cy="16.6" r="2.9"/><circle cx="2.7" cy="23.5" r="2.5"/><circle cx="1.6" cy="24.3" r="2.8"/><circle cx="1.4" cy="31.1" r="2.4"/><circle cx="3.2" cy="34.1" r="1.8"/><circle cx="22.7" cy="-42.3" r="1.9"/><circle cx="25.8" cy="-45.3" r="1.7"/><circle cx="33.7" cy="-42.8" r="2.4"/><circle cx="35.8" cy="-41.2" r="2.4"/><circle cx="37.9" cy="-44.6" r="2.2"/><circle cx="45.5" cy="-52.1" r="2.9"/><circle cx="-25.7" cy="-12.1" r="2.4"/><circle cx="-30.2" cy="-4.9" r="1.7"/><circle cx="-34.2" cy="-2.3" r="2.6"/><circle cx="-35.1" cy="0.1" r="2"/><circle cx="-32.6" cy="-0.6" r="2.5"/><circle cx="-25.9" cy="1.7" r="1.5"/><circle cx="-28.1" cy="2.4" r="1.6"/><circle cx="-28" cy="8.1" r="2.9"/><circle cx="-25.6" cy="8.7" r="2.5"/><circle cx="-25.1" cy="6.6" r="1.9"/><circle cx="-19.1" cy="8.2" r="1.8"/><circle cx="-20.4" cy="10.8" r="1.6"/><circle cx="-19.5" cy="12.6" r="2"/><circle cx="-24.7" cy="20.7" r="1.4"/><circle cx="-23.3" cy="19.3" r="1.8"/><circle cx="-24.7" cy="21.5" r="1.5"/><circle cx="-22" cy="20.4" r="2.2"/><circle cx="-25.9" cy="3.9" r="2.3"/><circle cx="-21.1" cy="1" r="1.4"/><circle cx="-20.5" cy="3" r="2.7"/><circle cx="-9.7" cy="-2.2" r="2.8"/><circle cx="-11.2" cy="-6.2" r="3"/><circle cx="-23.4" cy="23.3" r="1.5"/><circle cx="-21.8" cy="22.8" r="1.7"/><circle cx="-24" cy="24.2" r="2.4"/><circle cx="-27.7" cy="35.2" r="2.9"/><circle cx="-29.2" cy="35.7" r="1.8"/><circle cx="-30.6" cy="39.5" r="1.6"/><circle cx="-24.9" cy="40.5" r="1.5"/><circle cx="-28.3" cy="43.2" r="2"/><circle cx="-50.9" cy="-23.3" r="2.2"/><circle cx="-49.1" cy="-20.6" r="2.1"/><circle cx="-56" cy="-21.2" r="1.5"/><circle cx="-52.2" cy="-16.7" r="2"/><circle cx="-54.9" cy="-13.2" r="2.4"/><circle cx="-58.4" cy="-11.8" r="2.9"/><circle cx="-58.5" cy="-3.1" r="1.5"/><circle cx="-63.3" cy="-7.4" r="2"/><circle cx="-9.5" cy="-70.1" r="1.5"/><circle cx="-12" cy="-69.2" r="2.9"/><circle cx="-13.4" cy="-65" r="2.6"/><circle cx="-12.2" cy="-68" r="2"/><circle cx="-14" cy="-62" r="2.8"/><circle cx="-14.2" cy="-61.9" r="1.6"/><circle cx="-16.4" cy="-61.4" r="1.4"/><circle cx="-17.2" cy="-59.4" r="2.8"/><circle cx="-20.8" cy="-56.5" r="2.6"/><circle cx="-19.9" cy="-55.1" r="2.9"/><circle cx="-15.3" cy="-51.5" r="1.5"/><circle cx="-19.5" cy="-50.1" r="2.8"/><circle cx="-13.9" cy="-47.8" r="2.7"/><circle cx="-15.1" cy="-48.6" r="1.9"/><circle cx="-14" cy="-47.6" r="2.8"/><circle cx="-12.3" cy="-42.7" r="1.8"/><circle cx="-46.7" cy="-56.9" r="1.6"/><circle cx="-45.5" cy="-55.9" r="2.3"/><circle cx="-43.4" cy="-47.9" r="2.3"/><circle cx="-42" cy="-48" r="2.7"/><circle cx="-36.5" cy="-42.7" r="2"/><circle cx="-37.8" cy="-40.1" r="2.9"/><circle cx="-37.6" cy="-36.6" r="1.6"/><circle cx="-38.5" cy="-33.9" r="1.5"/><circle cx="32.9" cy="-60.1" r="1.5"/><circle cx="38.1" cy="-55.7" r="2.7"/><circle cx="38.8" cy="-53.8" r="1.8"/><circle cx="36.9" cy="-53.3" r="1.6"/><circle cx="44.1" cy="-53.1" r="2.1"/><circle cx="42.2" cy="-50.7" r="2.3"/><circle cx="45.8" cy="-48.1" r="2.1"/><circle cx="40.4" cy="-47.5" r="2.1"/><circle cx="40.1" cy="-43.7" r="2"/><circle cx="44.2" cy="-41.6" r="2.7"/><circle cx="42.1" cy="-37.8" r="2.9"/><circle cx="36.2" cy="-34.6" r="2.3"/><circle cx="42" cy="-31.3" r="1.8"/><circle cx="44.3" cy="-33.9" r="1.6"/><circle cx="46.1" cy="-32.9" r="1.6"/><circle cx="32.7" cy="1.6" r="2.3"/><circle cx="34.4" cy="6.3" r="2.6"/><circle cx="38.8" cy="4.4" r="2.3"/><circle cx="38.3" cy="8.3" r="2.9"/><circle cx="41.6" cy="12.7" r="1.6"/><circle cx="40.6" cy="13.5" r="1.6"/><circle cx="46.3" cy="9.6" r="1.4"/><circle cx="49.6" cy="14" r="2.1"/><circle cx="47.7" cy="22.5" r="2.2"/><circle cx="-4.5" cy="26.6" r="1.5"/><circle cx="-7.3" cy="31.7" r="1.7"/><circle cx="-8.2" cy="34.8" r="2"/><circle cx="-9.5" cy="40.6" r="1.4"/><circle cx="-12.5" cy="39.8" r="2.2"/><circle cx="-12" cy="45.9" r="2"/><circle cx="-11.9" cy="43.1" r="2.5"/><circle cx="-10.7" cy="51.8" r="1.6"/><circle cx="-5.9" cy="52" r="1.6"/><circle cx="-9" cy="55.5" r="2.2"/><circle cx="55.7" cy="-15.2" r="2.4"/><circle cx="60.8" cy="-13.2" r="1.7"/><circle cx="56.6" cy="-6.6" r="2"/><circle cx="58.1" cy="-5.2" r="2.1"/><circle cx="58.9" cy="-5.1" r="1.7"/><circle cx="61.3" cy="4.8" r="2.1"/><circle cx="64" cy="5.3" r="2.6"/><circle cx="63.6" cy="4.9" r="2.6"/><circle cx="59.9" cy="14.4" r="2.5"/><circle cx="58.3" cy="16.5" r="1.9"/><circle cx="57.4" cy="15.3" r="1.7"/><circle cx="-60.1" cy="10.2" r="1.6"/><circle cx="-56.7" cy="11.9" r="2.3"/><circle cx="-47.3" cy="17.7" r="1.6"/><circle cx="-45.7" cy="22.6" r="2.6"/><circle cx="-46.8" cy="23.5" r="2.9"/><circle cx="-46.5" cy="28.3" r="2.1"/></g><g filter="url(#b07)" fill="#52e434" opacity="0.95"><circle cx="5" cy="-80.2" r="1.9"/><circle cx="5.7" cy="-79.9" r="1.9"/><circle cx="6.9" cy="-76.6" r="1.1"/><circle cx="8.5" cy="-74.2" r="1.9"/><circle cx="8.8" cy="-73.4" r="1.6"/><circle cx="10.7" cy="-72.4" r="1.3"/><circle cx="11.6" cy="-68.7" r="1.5"/><circle cx="9.7" cy="-68.2" r="0.8"/><circle cx="10.3" cy="-69.6" r="0.8"/><circle cx="9.4" cy="-66.4" r="1.6"/><circle cx="8.4" cy="-64.3" r="1.2"/><circle cx="7.9" cy="-63.4" r="1.9"/><circle cx="11.1" cy="-62.6" r="1.4"/><circle cx="11.3" cy="-61.2" r="1.9"/><circle cx="13" cy="-62" r="2"/><circle cx="15.4" cy="-61" r="0.9"/><circle cx="14" cy="-58.1" r="1.1"/><circle cx="12.2" cy="-54.2" r="1.3"/><circle cx="13.4" cy="-54.6" r="1.6"/><circle cx="16.4" cy="-53.5" r="1.8"/><circle cx="18.7" cy="-52.9" r="1.5"/><circle cx="22.1" cy="-53.9" r="1.1"/><circle cx="22.5" cy="-53.4" r="2"/><circle cx="22.2" cy="-51.5" r="1.4"/><circle cx="23.5" cy="-47" r="1.8"/><circle cx="23.1" cy="-48.4" r="0.9"/><circle cx="24.5" cy="-47" r="1"/><circle cx="27.2" cy="-43.7" r="1.7"/><circle cx="26.5" cy="-41" r="1.1"/><circle cx="27" cy="-38.5" r="1.4"/><circle cx="25.4" cy="-36.3" r="1.9"/><circle cx="25.5" cy="-38.6" r="1.5"/><circle cx="24.9" cy="-35.1" r="0.8"/><circle cx="24.1" cy="-33.2" r="0.8"/><circle cx="21.8" cy="-30.1" r="1.4"/><circle cx="20.6" cy="-29.8" r="1.2"/><circle cx="20.4" cy="-29" r="1.8"/><circle cx="22.1" cy="-25.7" r="1.5"/><circle cx="23.8" cy="-24.1" r="1"/><circle cx="22.3" cy="-23.4" r="1.1"/><circle cx="22.8" cy="-18.9" r="0.9"/><circle cx="21" cy="-21.4" r="1.4"/><circle cx="19.1" cy="-18.4" r="1"/><circle cx="17.6" cy="-17.4" r="1.7"/><circle cx="15.6" cy="-16.4" r="1.9"/><circle cx="14.2" cy="-16.4" r="1.6"/><circle cx="14" cy="-14.2" r="1.5"/><circle cx="13.3" cy="-12.8" r="1.5"/><circle cx="12.3" cy="-11.6" r="0.7"/><circle cx="8.6" cy="-11.4" r="1.1"/><circle cx="5.4" cy="-8.7" r="0.8"/><circle cx="5.5" cy="-10.3" r="0.7"/><circle cx="4" cy="-6.3" r="1.3"/><circle cx="2.2" cy="-7.1" r="0.9"/><circle cx="1.7" cy="-7.6" r="1.5"/><circle cx="5.2" cy="-5.3" r="0.8"/><circle cx="4.3" cy="-3.3" r="1.7"/><circle cx="4.4" cy="-1.1" r="1.6"/><circle cx="4.8" cy="2.5" r="1"/><circle cx="4.7" cy="5.4" r="1.8"/><circle cx="4.4" cy="7.2" r="1.7"/><circle cx="4" cy="9.2" r="1.3"/><circle cx="8" cy="10" r="1.7"/><circle cx="8.8" cy="11.6" r="1.5"/><circle cx="9.4" cy="14.2" r="1.4"/><circle cx="10.5" cy="13.4" r="1.8"/><circle cx="12.6" cy="20.6" r="2"/><circle cx="15.1" cy="23.1" r="1.4"/><circle cx="15.9" cy="21" r="1.7"/><circle cx="18.6" cy="23.6" r="1.5"/><circle cx="22.4" cy="23.4" r="1.4"/><circle cx="23.8" cy="26.3" r="1.1"/><circle cx="24.7" cy="23.9" r="1.6"/><circle cx="26.4" cy="25.1" r="1.2"/><circle cx="26.5" cy="26.9" r="0.9"/><circle cx="26" cy="31.2" r="2"/><circle cx="26.2" cy="33.2" r="1.6"/><circle cx="28.6" cy="35.5" r="1.1"/><circle cx="22.9" cy="-24.1" r="0.7"/><circle cx="22.3" cy="-21.4" r="2"/><circle cx="27.2" cy="-21.6" r="1.1"/><circle cx="26.3" cy="-20.6" r="1.3"/><circle cx="29.9" cy="-21.2" r="1.1"/><circle cx="29.8" cy="-18.6" r="0.8"/><circle cx="32.1" cy="-18.4" r="1.4"/><circle cx="31.5" cy="-18.8" r="1.2"/><circle cx="34" cy="-16.9" r="1.3"/><circle cx="35" cy="-19.5" r="1"/><circle cx="37" cy="-19.8" r="1.9"/><circle cx="40.1" cy="-21.3" r="1.9"/><circle cx="40.2" cy="-22.5" r="0.8"/><circle cx="48.1" cy="-26.3" r="1.9"/><circle cx="49.6" cy="-26.9" r="0.8"/><circle cx="51.3" cy="-25.4" r="2"/><circle cx="53.9" cy="-24.6" r="2"/><circle cx="55.7" cy="-20.2" r="2.1"/><circle cx="56.3" cy="-17.8" r="2"/><circle cx="55.4" cy="-15.1" r="1.6"/><circle cx="56.4" cy="-12.7" r="1.2"/><circle cx="16.3" cy="-57.1" r="0.7"/><circle cx="21.2" cy="-54.4" r="1.8"/><circle cx="21.4" cy="-55.5" r="1.3"/><circle cx="23" cy="-56.9" r="0.8"/><circle cx="22.4" cy="-62.1" r="1.8"/><circle cx="24.5" cy="-62.3" r="2"/><circle cx="23.3" cy="-65.6" r="1.6"/><circle cx="24.3" cy="-66.6" r="1.6"/><circle cx="23.7" cy="-68.8" r="1.4"/><circle cx="27.3" cy="-74.3" r="1.6"/><circle cx="27.9" cy="-75" r="1"/><circle cx="10.5" cy="14.8" r="1.2"/><circle cx="7.7" cy="14.4" r="1.7"/><circle cx="8.9" cy="18" r="1.5"/><circle cx="6.6" cy="21.3" r="1.6"/><circle cx="7" cy="21.9" r="1.1"/><circle cx="4.6" cy="20.9" r="1.1"/><circle cx="5" cy="22.8" r="1.4"/><circle cx="2.4" cy="23.9" r="0.8"/><circle cx="0.8" cy="25.3" r="2.1"/><circle cx="4.8" cy="25.2" r="1.4"/><circle cx="3.2" cy="29.3" r="1.8"/><circle cx="6.6" cy="32.6" r="1.4"/><circle cx="4.3" cy="32.2" r="1.5"/><circle cx="7" cy="35.6" r="1.2"/><circle cx="7" cy="34.7" r="1.8"/><circle cx="7.3" cy="39.4" r="1"/><circle cx="27.2" cy="-41.7" r="1.7"/><circle cx="27.2" cy="-42.4" r="1"/><circle cx="27.7" cy="-43.7" r="1.5"/><circle cx="30.1" cy="-43.4" r="1.3"/><circle cx="32" cy="-43.1" r="0.8"/><circle cx="32.7" cy="-41.9" r="1.6"/><circle cx="35.3" cy="-44.8" r="1.2"/><circle cx="36" cy="-44.9" r="1.9"/><circle cx="36.1" cy="-44.4" r="1.9"/><circle cx="39.6" cy="-46" r="2"/><circle cx="39.6" cy="-46.8" r="2.1"/><circle cx="41" cy="-46.2" r="1.7"/><circle cx="42.8" cy="-48" r="1"/><circle cx="44.7" cy="-50.3" r="1"/><circle cx="46" cy="-50.8" r="2"/></g><g filter="url(#b07)" fill="#3cd080" opacity="0.7"><circle cx="-29.8" cy="-8.7" r="0.7"/><circle cx="-31.7" cy="-9" r="1.2"/><circle cx="-32.2" cy="-7.4" r="1.2"/><circle cx="-32.2" cy="-4" r="0.7"/><circle cx="-28.9" cy="1.8" r="1.5"/><circle cx="-24.8" cy="7" r="1.3"/><circle cx="-25" cy="7.2" r="1.5"/><circle cx="-22.6" cy="9.4" r="1.6"/><circle cx="-21.4" cy="8.4" r="1"/><circle cx="-21.3" cy="6.8" r="1.2"/><circle cx="-21" cy="11.7" r="1"/><circle cx="-22.1" cy="15" r="0.9"/><circle cx="-23.9" cy="20.9" r="1"/><circle cx="-23.4" cy="21.7" r="0.8"/><circle cx="-25.9" cy="6.2" r="1"/><circle cx="-24.6" cy="3.1" r="1.4"/><circle cx="-18.9" cy="-0.2" r="1.5"/><circle cx="-16.1" cy="0.8" r="1.5"/><circle cx="-14.8" cy="-0.2" r="1.4"/><circle cx="-11.4" cy="-3.3" r="1"/><circle cx="-11.6" cy="-3.2" r="1"/><circle cx="-8.7" cy="-6.3" r="1.5"/><circle cx="-27" cy="21.7" r="1.2"/><circle cx="-27.6" cy="25.5" r="1.1"/><circle cx="-29.7" cy="38.2" r="1.4"/><circle cx="-29.7" cy="40" r="0.9"/><circle cx="-27.7" cy="42.7" r="0.8"/><circle cx="-28.9" cy="42.7" r="1.4"/><circle cx="-26.8" cy="43.7" r="1.3"/><circle cx="-28" cy="46.9" r="1"/><circle cx="-50.6" cy="-23.1" r="0.8"/><circle cx="-53.6" cy="-20.7" r="1.5"/><circle cx="-54.3" cy="-18.7" r="1.1"/><circle cx="-55.5" cy="-17.7" r="1.3"/><circle cx="-58.5" cy="-11.2" r="1.2"/><circle cx="-59" cy="-10.4" r="0.8"/><circle cx="-57.2" cy="-9.4" r="0.9"/><circle cx="-61" cy="-6.8" r="0.9"/><circle cx="-64.2" cy="-3.9" r="1.5"/><circle cx="-66.6" cy="-3.3" r="1.3"/><circle cx="-10.8" cy="-71.8" r="0.8"/><circle cx="-11.9" cy="-66.7" r="1"/><circle cx="-12.8" cy="-68.7" r="0.8"/><circle cx="-13.4" cy="-61" r="1.5"/><circle cx="-15.2" cy="-58" r="1.3"/><circle cx="-15.1" cy="-55.7" r="1.5"/><circle cx="-18.4" cy="-55.3" r="1.6"/><circle cx="-18" cy="-52.9" r="1.1"/><circle cx="-13.2" cy="-47.5" r="1.3"/><circle cx="-11.5" cy="-45" r="1"/><circle cx="-12.2" cy="-42.2" r="1.4"/><circle cx="-44.1" cy="-56.5" r="0.7"/><circle cx="-44.6" cy="-55" r="1.5"/><circle cx="-43.8" cy="-51" r="1.1"/><circle cx="-41" cy="-49.5" r="1.5"/><circle cx="-40.1" cy="-47.9" r="0.8"/><circle cx="-37" cy="-41.4" r="1.1"/><circle cx="-35" cy="-42.1" r="1.1"/><circle cx="-37.6" cy="-37.3" r="1.6"/><circle cx="-38.9" cy="-33.7" r="1.2"/><circle cx="-39.9" cy="-34.6" r="1.4"/><circle cx="-39.6" cy="-32.8" r="0.8"/><circle cx="-39.4" cy="-28.9" r="1.6"/><circle cx="36.4" cy="-61.6" r="1.2"/><circle cx="39.2" cy="-61.2" r="1.3"/><circle cx="37.7" cy="-58.6" r="1.5"/><circle cx="38.6" cy="-57.6" r="1.3"/><circle cx="42.9" cy="-51.5" r="1.6"/><circle cx="43.4" cy="-49.5" r="1"/><circle cx="45.2" cy="-45.9" r="0.9"/><circle cx="42.5" cy="-41.6" r="1"/><circle cx="44.3" cy="-37.6" r="1.3"/><circle cx="40.6" cy="-34.2" r="1.1"/><circle cx="46.8" cy="-30.3" r="0.7"/><circle cx="30.6" cy="-0" r="1.5"/><circle cx="34.6" cy="4.7" r="0.8"/><circle cx="37.8" cy="4.5" r="1.1"/><circle cx="40.7" cy="9.3" r="1.2"/><circle cx="43.7" cy="12.6" r="0.8"/><circle cx="45.8" cy="15.2" r="0.6"/><circle cx="47.7" cy="17.1" r="1.1"/><circle cx="46.7" cy="17.4" r="1.1"/><circle cx="-4.2" cy="32.6" r="0.8"/><circle cx="-8.6" cy="34.9" r="1.2"/><circle cx="-11.6" cy="38.3" r="1.3"/><circle cx="-12.1" cy="45" r="0.9"/><circle cx="-10.7" cy="46.9" r="1.6"/><circle cx="-11.7" cy="47.7" r="1.5"/><circle cx="-10.9" cy="50.7" r="1.6"/><circle cx="-7.8" cy="52.2" r="0.9"/><circle cx="-7.6" cy="56.9" r="1.2"/><circle cx="-3.9" cy="57.4" r="1.6"/><circle cx="56.3" cy="-11.4" r="1"/><circle cx="56.9" cy="-8.7" r="0.7"/><circle cx="56.8" cy="-7.3" r="1.5"/><circle cx="58" cy="-4.3" r="1.1"/><circle cx="57.7" cy="-3" r="0.9"/><circle cx="59.2" cy="4.2" r="0.9"/><circle cx="62" cy="7.2" r="0.9"/><circle cx="63.1" cy="6.3" r="0.8"/><circle cx="60.8" cy="10" r="1.2"/><circle cx="59" cy="12.7" r="1.1"/><circle cx="60" cy="13.9" r="0.8"/><circle cx="59.6" cy="16.6" r="1"/><circle cx="-60.3" cy="11.6" r="1"/><circle cx="-57.4" cy="11.4" r="1.1"/><circle cx="-54.9" cy="13" r="1.1"/><circle cx="-47" cy="20.2" r="1.4"/><circle cx="-47" cy="22" r="1.5"/><circle cx="-45.9" cy="24.6" r="1.3"/><circle cx="-46.6" cy="24.2" r="1.2"/><circle cx="-44.3" cy="24.6" r="1.5"/><circle cx="-43.3" cy="28.7" r="0.6"/><circle cx="-46.1" cy="30.4" r="1.4"/></g><circle cx="0" cy="0" r="91.3" fill="url(#sd)"/></g></g></g>
<polygon points="1308.1,728 1365.2,711.5 1482,740.6 1482,754.9 1367.4,757.8 1308.1,743.2" fill="url(#pf5)"/>
<polygon points="1308.1,728 1365.2,711.5 1482,740.6 1369.4,743" fill="url(#pt5)"/>
<path d="M214.6 611 L231.1 626.5 H223.4 V839.3 H205.7 V626.5 H197.6 Z" fill="url(#gu1)" stroke="#3d5c96" stroke-width="3.4" stroke-linejoin="miter"/>
<path d="M544.6 1123.7 L560.9 1109.2 H553.1 V896.4 H536.2 V1109.2 H528.5 Z" fill="url(#gd2)" stroke="#31609a" stroke-width="3.4" stroke-linejoin="miter"/>
<path d="M853.4 615.5 L869.9 630.8 H862.2 V843.3 H844.3 V630.8 H837.3 Z" fill="url(#gu3)" stroke="#3d5c96" stroke-width="3.4" stroke-linejoin="miter"/>
<path d="M1192.5 1120.6 L1209 1105.5 H1201.4 V891.5 H1183.6 V1105.5 H1176 Z" fill="url(#gd4)" stroke="#31609a" stroke-width="3.4" stroke-linejoin="miter"/>
<path d="M1499 624.9 L1515.1 639.3 H1507.2 V852.3 H1490.4 V639.3 H1483 Z" fill="url(#gu5)" stroke="#3d5c96" stroke-width="3.4" stroke-linejoin="miter"/>
<text x="778" y="1113.8" font-family='"Liberation Sans", Arial, sans-serif' font-size="39" fill="#111" textLength="45.6" lengthAdjust="spacingAndGlyphs">(c)</text>
</svg>
</body></html>
